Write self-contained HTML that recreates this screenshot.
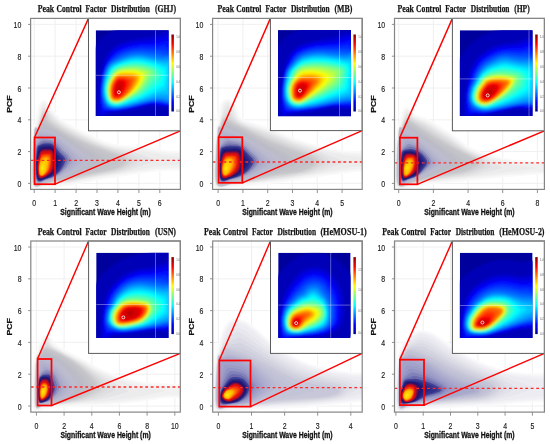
<!DOCTYPE html>
<html><head><meta charset="utf-8"><title>Peak Control Factor Distribution</title>
<style>html,body{margin:0;padding:0;background:#fff;overflow:hidden}svg{display:block}
.tt{font-family:"Liberation Serif",serif;font-weight:bold;font-size:10.8px;fill:#111;stroke:#111;stroke-width:0.25px}
.tk{font-family:"Liberation Sans",sans-serif;font-size:8.7px;fill:#1a1a1a;stroke:#1a1a1a;stroke-width:0.15px}
.ax{font-family:"Liberation Sans",sans-serif;font-weight:bold;font-size:8.7px;fill:#111;stroke:#111;stroke-width:0.3px}
.cb{font-family:"Liberation Sans",sans-serif;font-size:2.7px;fill:#555}
</style></head><body>
<svg width="550" height="444" viewBox="0 0 550 444">
<defs>
<linearGradient id="jetg" x1="0" y1="1" x2="0" y2="0">
<stop offset="0" stop-color="#00008f"/><stop offset="0.125" stop-color="#0000ff"/><stop offset="0.375" stop-color="#00ffff"/><stop offset="0.625" stop-color="#ffff00"/><stop offset="0.875" stop-color="#ff0000"/><stop offset="1" stop-color="#800000"/>
</linearGradient>
<filter id="bl" x="-5%" y="-5%" width="110%" height="110%"><feGaussianBlur stdDeviation="0.7"/></filter>
<filter id="bl2" x="-5%" y="-5%" width="110%" height="110%"><feGaussianBlur stdDeviation="0.9"/></filter>

<clipPath id="cf0"><rect x="30.6" y="18.4" width="149.8" height="171.0"/></clipPath>
<clipPath id="cj0"><rect x="95.7" y="30.2" width="73.0" height="85.7"/></clipPath>
<clipPath id="cf1"><rect x="212.6" y="18.4" width="149.6" height="171.0"/></clipPath>
<clipPath id="cj1"><rect x="278.0" y="30.1" width="73.0" height="86.1"/></clipPath>
<clipPath id="cf2"><rect x="394.5" y="18.4" width="149.9" height="171.0"/></clipPath>
<clipPath id="cj2"><rect x="459.8" y="30.2" width="72.8" height="85.8"/></clipPath>
<clipPath id="cf3"><rect x="30.8" y="241.0" width="149.5" height="171.1"/></clipPath>
<clipPath id="cj3"><rect x="96.2" y="252.7" width="72.4" height="85.2"/></clipPath>
<clipPath id="cf4"><rect x="212.7" y="241.0" width="149.5" height="171.1"/></clipPath>
<clipPath id="cj4"><rect x="278.2" y="252.7" width="72.4" height="85.2"/></clipPath>
<clipPath id="cf5"><rect x="394.5" y="241.0" width="149.9" height="171.1"/></clipPath>
<clipPath id="cj5"><rect x="459.8" y="252.7" width="72.8" height="85.3"/></clipPath>
</defs>
<rect width="550" height="444" fill="#fff"/>
<text class="tt" x="37.7" y="12.4" textLength="16.5" lengthAdjust="spacingAndGlyphs">Peak</text>
<text class="tt" x="56.4" y="12.4" textLength="25.2" lengthAdjust="spacingAndGlyphs">Control</text>
<text class="tt" x="85.6" y="12.4" textLength="20.8" lengthAdjust="spacingAndGlyphs">Factor</text>
<text class="tt" x="111.1" y="12.4" textLength="38.7" lengthAdjust="spacingAndGlyphs">Distribution</text>
<text class="tt" x="154.9" y="12.4" textLength="21.1" lengthAdjust="spacingAndGlyphs">(GHJ)</text>
<path d="M34.2 18.4V189.4M55.1 18.4V189.4M76.1 18.4V189.4M97.0 18.4V189.4M117.9 18.4V189.4M138.9 18.4V189.4M159.8 18.4V189.4M30.6 183.4H180.4M30.6 151.6H180.4M30.6 119.8H180.4M30.6 88.0H180.4M30.6 56.2H180.4M30.6 24.4H180.4" stroke="#ececec" stroke-width="0.8" fill="none"/>
<g clip-path="url(#cf0)"><g filter="url(#bl)">
<path d="M37.1 190.4L35.1 190.4L32.6 189.0L31.4 187.9L29.6 184.9L29.6 157.2L30.8 143.9L32.8 130.9L33.4 127.4L34.6 124.1L37.4 109.4L38.4 105.9L39.8 102.9L41.4 100.9L43.1 100.1L45.1 100.1L46.6 101.1L49.3 105.9L55.1 112.7L60.5 117.9L65.2 121.4L73.7 126.4L83.4 131.4L96.2 137.4L106.0 141.4L113.6 143.8L120.0 144.9L139.6 146.3L168.1 150.5L172.1 150.7L181.6 150.7L181.6 170.7L178.1 170.4L165.3 170.9L157.4 171.4L148.4 172.4L102.5 179.4L70.6 185.7L65.6 186.3L44.6 187.8L37.1 190.4Z" fill="#fafafa"/>
<path d="M37.6 189.0L35.1 189.0L34.1 188.7L32.6 187.7L31.2 185.4L30.3 181.9L30.0 177.4L30.0 172.9L31.4 149.4L33.2 130.9L33.9 127.4L35.5 124.9L38.3 109.9L39.3 106.4L41.0 102.9L42.1 101.7L43.1 101.1L44.6 101.1L45.9 101.9L48.4 106.4L54.1 113.1L58.9 117.9L64.2 121.9L71.6 126.4L82.1 131.9L95.9 138.4L105.7 142.4L113.6 144.8L119.8 145.9L140.6 147.5L168.1 151.5L172.1 151.7L181.6 151.7L181.6 169.7L178.1 169.4L165.0 169.9L157.1 170.4L148.2 171.4L102.4 178.4L70.6 184.6L65.6 185.2L44.6 186.7L37.6 189.0Z" fill="#f8f8f8"/>
<path d="M36.1 188.4L34.1 187.9L32.5 186.4L31.5 183.9L30.9 179.9L30.9 168.4L31.9 149.9L32.7 138.4L33.2 135.9L33.5 130.9L34.0 127.9L34.4 126.9L35.8 125.9L36.1 125.3L39.5 108.4L40.5 105.4L41.5 103.4L42.6 102.2L43.6 101.8L44.6 101.9L45.6 102.7L47.1 105.8L48.1 107.2L55.2 115.4L59.5 119.4L63.6 122.4L71.0 126.9L81.4 132.4L95.2 138.9L105.0 142.9L113.0 145.4L119.6 146.6L140.1 148.1L168.1 152.3L171.6 152.5L181.6 152.5L181.6 168.9L178.1 168.7L166.6 169.1L157.6 169.6L150.1 170.4L101.0 177.9L75.1 183.1L69.6 184.1L64.6 184.6L44.6 186.0L38.1 188.2L36.1 188.4Z" fill="#f6f6f6"/>
<path d="M36.1 187.9L35.1 187.8L34.1 187.3L32.8 185.9L31.9 183.4L31.4 179.4L31.4 168.4L32.2 149.9L32.6 146.9L33.0 138.4L33.4 135.9L33.7 130.9L34.2 127.9L34.7 126.9L36.1 126.2L36.6 125.5L40.1 108.4L41.9 103.9L42.6 103.1L43.6 102.5L44.6 102.7L45.1 103.1L47.4 107.4L54.8 115.9L59.1 119.8L63.6 123.1L71.6 128.0L81.1 132.9L95.1 139.5L104.6 143.4L112.6 145.9L119.6 147.2L140.1 148.8L168.1 152.9L181.6 153.1L181.6 168.3L178.1 168.1L166.1 168.5L157.6 169.0L149.6 169.8L100.3 177.4L70.6 183.3L64.6 184.0L44.6 185.4L42.8 185.9L38.1 187.7L36.1 187.9Z" fill="#f3f3f3"/>
<path d="M37.1 187.5L35.6 187.5L34.6 187.1L33.2 185.9L32.4 183.9L31.8 180.4L31.8 167.9L32.4 149.9L32.8 147.4L33.1 138.4L33.6 135.9L33.8 130.9L34.3 127.9L35.1 126.8L36.6 126.5L37.0 125.9L40.6 108.8L42.1 104.9L42.8 103.9L43.6 103.3L44.1 103.3L44.6 103.6L47.1 107.9L54.5 116.4L58.6 120.2L63.1 123.5L70.6 128.1L81.1 133.6L95.1 140.2L104.6 144.0L112.6 146.6L119.6 147.8L139.8 149.4L168.1 153.7L181.6 153.8L181.6 167.5L178.1 167.3L167.1 167.7L158.1 168.2L149.1 169.2L100.6 176.8L70.1 182.8L64.6 183.5L44.6 185.0L37.1 187.5Z" fill="#f1f1f1"/>
<path d="M38.1 187.0L36.6 187.3L35.6 187.2L34.1 186.4L32.9 184.4L32.2 180.9L31.9 176.4L32.0 169.9L32.6 149.9L33.0 146.9L33.3 138.4L33.7 135.9L33.9 130.9L34.5 127.9L35.1 127.0L36.6 126.9L37.2 126.4L41.1 109.6L42.6 105.9L43.6 104.7L44.1 104.8L46.1 107.9L54.1 117.1L58.1 120.8L62.6 124.1L70.1 128.6L79.6 133.6L92.1 139.6L103.1 144.2L110.6 146.7L117.1 148.2L123.1 149.0L138.6 150.5L168.6 156.1L181.6 156.9L181.6 164.4L178.1 164.4L168.6 165.2L152.6 167.1L124.3 172.4L97.6 176.7L70.6 182.2L65.1 182.9L44.6 184.6L43.1 185.0L38.1 187.0Z" fill="#ececec"/>
<path d="M37.1 187.0L35.1 186.7L33.6 185.4L32.9 183.4L32.3 179.9L32.2 167.9L32.8 149.9L33.1 147.4L33.4 138.4L33.9 135.9L34.1 130.9L34.6 127.9L35.1 127.2L35.6 127.0L37.1 127.1L37.6 126.4L41.1 112.4L42.6 108.7L43.6 107.6L44.6 107.9L47.6 110.8L53.6 118.3L59.6 123.3L64.6 126.6L70.1 129.8L84.6 137.1L98.1 143.2L108.6 147.0L116.1 149.0L129.9 151.4L136.4 152.9L141.2 154.4L148.0 156.9L153.0 158.9L154.5 159.9L154.5 160.4L152.6 161.4L138.1 166.9L130.9 169.4L123.5 171.4L116.0 172.9L94.6 176.6L69.1 181.8L44.6 184.3L42.6 184.9L38.6 186.6L37.1 187.0Z" fill="#e5e5e7"/>
<path d="M38.6 186.4L36.1 186.8L35.1 186.5L34.3 185.9L33.2 183.9L32.7 180.9L32.4 176.4L32.4 169.4L32.9 149.9L33.3 147.4L33.5 138.4L34.0 135.9L34.2 130.9L34.8 127.9L35.1 127.4L35.6 127.2L37.1 127.5L37.8 126.9L41.6 113.3L43.1 110.4L44.1 109.7L45.6 110.4L47.6 112.1L49.0 113.9L51.6 118.1L56.4 122.4L64.6 127.9L74.6 133.5L90.1 140.9L103.1 146.1L112.1 149.1L125.8 152.4L131.9 154.4L135.3 155.9L139.0 157.9L140.6 158.9L141.4 159.9L141.3 160.4L140.2 161.4L132.3 166.4L126.9 168.9L120.5 170.9L113.6 172.4L91.6 176.4L68.6 181.3L45.0 183.9L43.1 184.4L38.6 186.4Z" fill="#dfdfe1"/>
<path d="M37.6 186.5L36.6 186.6L35.5 186.4L34.6 185.9L33.9 184.9L33.1 182.4L32.7 178.4L32.5 170.4L33.0 150.4L33.4 147.4L33.7 138.4L34.1 135.9L34.2 131.4L35.1 127.6L35.6 127.3L37.6 127.7L37.9 127.4L41.6 115.3L42.6 113.1L44.1 111.5L44.6 111.4L45.6 111.7L47.1 112.9L48.2 114.4L50.1 118.4L51.4 119.9L54.1 122.2L61.1 127.1L70.6 132.6L84.2 139.4L97.1 144.9L109.6 149.5L121.9 152.9L126.2 154.4L130.8 156.9L133.3 158.9L134.1 159.9L134.0 160.9L133.2 161.9L131.2 163.9L128.7 165.9L124.0 168.4L118.1 170.4L111.1 172.0L89.1 176.1L67.6 180.8L45.1 183.6L43.6 184.0L39.1 186.1L37.6 186.5Z" fill="#d9d9db"/>
<path d="M37.1 186.4L36.1 186.4L35.1 186.0L33.9 184.4L33.2 181.9L32.8 177.4L32.7 169.9L33.2 149.9L33.5 147.4L33.8 138.4L34.2 135.9L34.3 131.4L35.1 127.8L35.6 127.5L36.1 127.6L37.6 128.1L38.1 127.7L40.6 119.7L42.1 115.7L43.1 113.9L44.1 112.9L44.6 112.8L45.6 113.0L46.7 113.9L47.3 114.9L48.8 118.9L50.0 120.4L51.6 121.8L58.1 126.6L67.6 132.3L80.1 138.7L92.1 144.1L108.1 150.0L120.1 153.8L123.1 154.9L125.1 155.9L127.1 157.3L128.3 158.4L129.4 159.9L129.5 160.9L128.8 162.4L127.7 163.9L126.1 165.4L121.8 167.9L116.1 169.9L109.8 171.4L87.1 175.7L66.6 180.3L45.1 183.4L43.1 184.0L38.6 186.1L37.1 186.4Z" fill="#d2d2d5"/>
<path d="M38.6 185.9L37.1 186.2L36.1 186.2L35.3 185.9L34.6 185.2L33.6 182.9L33.0 178.4L32.8 170.4L33.3 150.4L33.7 147.4L33.9 138.4L34.3 135.9L34.4 131.4L35.3 127.9L36.1 127.7L37.6 128.5L38.4 127.9L42.1 117.3L43.4 114.9L44.6 114.0L45.6 114.2L46.2 114.9L47.6 119.4L48.2 120.4L49.7 121.9L56.4 126.9L65.4 132.4L77.1 138.5L89.1 144.0L100.1 148.2L121.1 155.6L123.1 156.7L124.7 157.9L126.0 159.4L126.4 160.4L126.4 161.4L125.8 162.9L124.6 164.4L123.4 165.4L119.6 167.6L114.3 169.4L107.9 170.9L86.1 175.1L65.6 179.9L45.6 183.0L43.1 183.8L38.6 185.9Z" fill="#cccccf"/>
<path d="M38.1 185.9L36.1 186.0L35.1 185.5L34.6 184.9L33.7 182.4L33.1 177.9L32.9 170.4L33.4 150.4L33.8 147.4L34.0 138.4L34.4 135.9L34.5 131.4L35.1 128.5L35.5 127.9L36.1 127.9L37.6 128.7L38.1 128.7L38.6 128.1L42.6 118.0L43.6 116.1L44.6 115.3L45.1 115.5L45.3 115.9L45.9 118.9L46.6 120.4L48.6 122.8L55.0 127.4L64.9 133.4L76.6 139.6L87.6 144.7L96.6 148.2L119.3 156.4L122.5 158.4L123.5 159.4L124.0 160.4L124.1 161.4L123.8 162.4L123.1 163.5L121.6 164.8L118.0 166.9L113.8 168.4L107.7 169.9L85.6 174.2L64.1 179.6L45.6 182.8L43.6 183.4L38.1 185.9Z" fill="#c5c5ca"/>
<path d="M37.1 185.9L36.1 185.8L35.3 185.4L34.3 183.9L33.6 180.9L33.2 176.4L33.1 169.9L33.5 150.4L33.9 147.4L34.1 138.4L34.5 135.9L34.7 131.4L35.2 128.9L35.6 128.0L36.1 128.1L37.6 129.0L38.3 128.9L38.9 128.4L42.1 121.5L43.1 119.9L43.6 119.4L44.1 119.5L46.7 122.9L50.0 125.4L59.6 131.4L69.1 136.9L85.1 145.2L101.9 152.4L114.7 158.4L117.5 159.9L118.7 160.9L118.8 161.4L118.6 161.9L116.1 163.8L112.1 165.6L107.0 167.4L98.2 169.9L83.6 173.6L65.6 178.7L57.1 180.5L45.6 182.6L43.1 183.4L39.1 185.4L37.1 185.9Z" fill="#c2c2c9"/>
<path d="M38.6 185.5L36.6 185.7L35.6 185.4L35.1 184.9L34.0 182.4L33.4 177.9L33.2 170.4L33.6 150.4L34.0 147.4L34.2 138.9L34.7 135.9L34.8 131.4L35.6 128.3L36.1 128.3L37.6 129.2L38.6 129.1L39.4 128.4L42.6 123.8L43.6 123.0L44.6 123.2L48.7 125.9L78.6 143.6L97.3 153.4L103.6 157.4L108.2 160.9L108.3 161.4L108.0 161.9L104.5 163.9L97.0 167.4L90.4 169.9L72.7 175.9L65.6 178.1L57.1 180.1L45.6 182.4L43.1 183.3L38.6 185.5Z" fill="#bfbfc8"/>
<path d="M38.1 185.5L36.1 185.4L35.4 184.9L34.7 183.9L33.9 180.9L33.5 175.9L33.4 168.4L33.7 149.9L34.1 147.4L34.3 138.9L34.8 135.9L34.9 131.4L35.6 128.6L36.1 128.5L37.6 129.5L38.6 129.5L39.5 128.9L43.6 125.4L44.6 125.3L45.6 125.7L56.1 131.2L81.6 147.2L91.7 152.9L96.9 156.9L99.5 159.4L100.2 160.4L100.2 160.9L99.4 161.9L93.7 165.9L89.0 168.4L83.1 170.9L74.3 174.4L67.3 176.9L58.1 179.5L45.6 182.2L43.1 183.1L38.1 185.5Z" fill="#bcbcc7"/>
<path d="M37.6 185.4L36.6 185.4L35.7 184.9L34.6 183.0L33.9 179.4L33.6 173.9L33.9 149.9L34.2 147.4L34.5 138.9L34.9 135.9L35.0 131.4L35.8 128.9L36.1 128.8L37.6 129.7L38.6 129.8L43.6 127.3L45.1 127.1L53.6 130.8L59.7 134.4L81.1 148.9L88.6 153.4L92.1 156.4L94.4 159.4L94.7 160.4L94.2 161.4L92.4 163.4L90.0 165.4L85.0 168.4L75.5 172.9L68.2 175.9L61.6 178.1L55.0 179.9L45.1 182.1L39.2 184.9L37.6 185.4Z" fill="#bbbbc9"/>
<path d="M38.6 185.0L36.6 185.1L35.6 184.5L35.1 183.7L34.6 182.3L34.1 179.5L33.7 174.4L34.0 149.9L34.4 147.4L34.6 138.9L35.0 136.4L35.2 131.4L35.6 129.7L36.1 129.1L37.6 130.0L38.6 130.1L44.1 128.7L45.6 128.7L50.6 130.4L54.6 132.3L61.9 136.9L71.1 143.4L80.1 150.2L86.5 154.4L88.7 156.4L90.2 158.4L90.7 159.9L90.5 160.9L89.3 162.9L87.8 164.4L83.6 167.4L75.3 171.9L70.0 174.4L63.6 176.9L55.6 179.4L45.6 181.7L38.6 185.0Z" fill="#bcbccc"/>
<path d="M38.1 184.9L37.1 185.0L36.1 184.6L35.1 183.0L34.2 178.9L33.9 173.4L34.1 150.4L34.5 147.4L34.8 138.9L35.3 135.9L35.5 131.4L35.6 130.6L36.1 129.6L37.6 130.3L38.6 130.5L43.6 130.0L46.1 130.1L50.6 131.4L54.9 133.4L60.4 136.9L69.2 143.4L79.1 151.6L85.1 155.8L86.2 156.9L87.3 158.4L87.8 159.9L87.6 160.9L86.8 162.4L85.5 163.9L81.6 166.9L73.2 171.9L68.1 174.4L61.9 176.9L54.2 179.4L45.6 181.5L38.1 184.9Z" fill="#bcbccf"/>
<path d="M38.6 184.5L37.6 184.7L36.6 184.5L35.6 183.4L34.6 179.8L34.1 173.9L34.0 164.4L34.3 149.9L34.7 147.4L35.1 138.6L35.5 136.4L35.8 131.9L36.1 130.5L36.6 130.4L38.6 131.1L44.1 131.3L48.1 131.9L51.6 133.0L55.6 134.9L60.7 138.4L70.1 145.9L78.1 153.0L83.7 157.4L84.9 158.9L85.2 159.9L85.1 160.9L84.6 161.9L82.2 164.4L76.7 168.4L70.1 172.4L65.0 174.9L59.0 177.4L52.9 179.4L45.6 181.2L38.6 184.5Z" fill="#b9b9cf"/>
<path d="M39.1 184.0L38.1 184.3L37.1 184.3L36.1 183.4L35.6 182.5L34.6 177.9L34.3 172.4L34.5 149.9L35.6 139.0L36.6 133.7L37.1 132.7L37.6 132.6L44.6 133.1L49.1 133.9L52.6 135.0L56.1 136.9L60.9 140.4L71.1 149.3L81.0 158.9L81.7 159.9L81.7 160.4L81.2 161.4L80.4 162.4L75.9 166.4L70.6 170.4L65.7 173.4L57.4 177.4L53.3 178.9L45.6 181.0L39.1 184.0Z" fill="#b4b4cd"/>
<path d="M39.6 183.5L37.6 183.8L36.6 183.1L35.6 181.1L34.8 176.9L34.5 170.4L34.6 157.6L34.8 149.9L35.6 143.5L36.1 141.6L38.1 136.5L38.6 135.6L39.1 135.2L40.1 135.0L42.6 135.0L48.6 135.7L51.6 136.5L54.1 137.7L56.6 139.2L59.5 141.4L71.4 152.4L76.8 158.9L77.6 160.4L77.1 161.4L76.3 162.4L71.4 167.4L67.8 170.4L62.7 173.9L56.0 177.4L51.9 178.9L45.6 180.6L39.6 183.5Z" fill="#afafcc"/>
<path d="M39.6 183.0L38.6 183.1L37.6 183.0L36.6 182.0L35.6 179.4L35.1 176.4L34.8 170.4L34.8 161.4L35.2 150.4L35.7 145.9L36.1 144.4L37.1 142.3L39.6 138.5L40.6 137.4L41.6 137.1L43.6 137.1L49.6 137.8L52.1 138.6L54.1 139.5L56.2 140.9L58.6 142.9L64.1 148.5L67.9 151.9L69.9 153.9L72.7 157.9L73.6 159.4L73.8 160.4L73.4 161.4L72.4 162.9L68.6 167.4L64.2 171.4L60.1 174.4L57.1 176.2L54.1 177.6L50.6 178.9L45.6 180.3L39.6 183.0Z" fill="#a6a6c8"/>
<path d="M39.1 182.4L37.6 182.0L36.6 180.7L35.8 178.4L35.4 175.4L35.2 168.9L35.2 160.4L35.7 150.4L36.2 146.4L36.8 144.9L37.6 143.7L40.6 140.6L42.1 139.5L43.1 139.2L45.1 139.2L50.6 139.9L53.6 141.1L56.2 142.9L58.2 144.9L62.6 149.9L67.1 154.0L68.7 155.9L69.9 157.9L70.5 159.4L70.5 160.9L68.8 163.9L66.2 167.4L62.3 171.4L58.7 174.4L55.4 176.4L52.6 177.7L45.6 179.9L41.1 181.9L39.1 182.4Z" fill="#9090bd"/>
<path d="M41.1 181.4L39.1 181.8L38.1 181.5L37.6 181.1L36.6 179.4L36.0 176.9L35.6 171.9L35.5 163.9L36.0 152.9L36.6 147.4L37.1 145.9L38.1 144.7L41.1 142.6L43.1 141.6L45.6 141.2L50.6 141.7L53.1 142.7L55.1 144.1L56.8 145.9L61.1 151.3L65.6 155.4L66.7 156.9L67.5 158.4L67.9 159.9L67.7 160.9L66.4 163.9L64.1 167.4L60.8 171.4L58.0 173.9L55.1 175.9L52.1 177.4L45.6 179.5L41.1 181.4Z" fill="#7474b0"/>
<path d="M41.1 180.9L39.6 181.2L38.1 180.7L37.4 179.9L36.9 178.9L36.4 176.4L36.0 170.9L35.9 163.4L36.5 152.9L37.1 147.9L37.7 146.4L38.6 145.5L42.6 143.7L46.1 143.2L50.6 143.5L52.6 144.3L54.1 145.4L55.8 147.4L59.6 152.6L64.2 156.9L65.3 158.9L65.4 159.9L65.2 161.4L64.0 164.4L61.7 168.4L59.4 171.4L56.8 173.9L54.7 175.4L52.0 176.9L45.1 179.2L41.1 180.9Z" fill="#404095"/>
<path d="M41.1 180.5L39.6 180.7L38.1 180.1L37.2 178.4L36.7 175.9L36.2 169.4L36.3 162.4L37.0 152.9L37.7 148.4L38.1 147.2L38.6 146.6L42.1 145.1L45.6 144.6L50.6 144.8L52.6 145.7L53.9 146.9L58.6 153.8L62.6 157.9L63.2 158.9L63.4 159.9L63.2 161.9L61.8 165.4L59.6 169.4L57.7 171.9L55.7 173.9L53.6 175.4L50.8 176.9L41.1 180.5Z" fill="#31308b"/>
<path d="M41.1 180.0L39.6 180.2L38.6 179.9L38.1 179.4L37.3 177.4L36.8 173.9L36.5 167.9L36.6 161.4L37.4 153.9L38.1 149.4L38.6 148.0L39.1 147.3L42.1 146.0L45.1 145.6L49.1 145.5L50.6 145.7L52.1 146.4L53.8 147.9L57.7 154.4L61.3 158.9L61.8 160.4L61.4 162.4L60.1 165.9L58.3 169.4L56.5 171.9L54.5 173.9L52.4 175.4L50.1 176.6L41.1 180.0Z" fill="#292783"/>
<path d="M41.6 179.5L39.6 179.8L38.7 179.4L38.3 178.9L37.5 176.9L37.1 173.4L36.8 167.9L36.9 161.9L37.4 156.4L38.5 150.4L39.0 148.9L39.6 148.0L42.1 146.8L45.1 146.4L50.6 146.6L52.6 147.7L54.4 149.9L57.1 155.2L59.8 159.4L60.1 160.9L59.8 162.4L58.7 165.9L57.3 168.9L55.8 171.4L53.9 173.4L52.0 174.9L49.4 176.4L41.6 179.5Z" fill="#221e7c"/>
<path d="M40.1 179.5L38.8 178.9L38.0 177.4L37.3 173.4L37.0 168.9L37.0 163.9L37.3 159.9L38.2 154.4L39.0 150.9L40.1 148.8L42.1 147.7L45.1 147.2L50.6 147.4L52.1 148.1L53.6 149.9L58.2 159.9L58.4 160.9L58.3 161.9L57.3 165.9L55.3 170.4L53.8 172.4L52.2 173.9L50.1 175.4L47.2 176.9L41.1 179.3L40.1 179.5Z" fill="#1a1574"/>
<path d="M40.6 179.0L39.6 179.0L39.1 178.7L38.3 177.4L37.5 173.4L37.2 169.4L37.2 164.4L37.5 160.4L38.2 155.9L39.3 151.9L40.6 149.4L42.5 148.4L45.1 148.0L50.6 148.2L52.1 149.0L53.5 150.9L56.7 160.4L56.7 162.4L55.5 167.4L53.9 170.9L52.8 172.4L51.2 173.9L49.0 175.4L46.3 176.9L40.6 179.0Z" fill="#371165"/>
<path d="M41.1 178.5L39.6 178.6L38.7 177.4L37.9 174.4L37.5 171.4L37.4 166.9L37.5 161.9L38.0 158.4L39.3 153.4L40.6 150.5L42.1 149.4L44.6 148.8L50.6 149.0L52.1 149.9L53.1 151.4L53.9 153.9L54.9 158.9L55.2 162.4L54.8 165.4L54.1 168.4L52.6 171.4L50.1 174.0L45.6 176.9L41.1 178.5Z" fill="#5a0d54"/>
<path d="M42.1 177.9L40.1 178.3L39.1 177.6L38.3 175.4L37.8 172.4L37.5 167.4L37.7 162.4L38.3 158.4L39.3 154.4L40.6 151.5L42.1 150.1L44.6 149.6L50.6 149.7L51.6 150.2L52.5 151.4L53.3 153.9L53.7 155.9L54.1 162.4L53.8 165.4L53.2 168.4L51.9 171.4L49.6 173.9L45.6 176.6L42.1 177.9Z" fill="#7c0a44"/>
<path d="M41.1 177.9L40.1 178.0L39.6 177.7L38.8 176.4L38.0 172.9L37.7 169.4L37.7 164.9L38.1 160.9L38.7 157.4L39.8 153.9L41.1 151.6L42.6 150.6L45.1 150.2L50.6 150.3L51.6 150.9L52.4 152.4L52.9 153.9L53.3 156.4L53.4 163.9L53.0 167.4L52.4 169.4L51.0 171.9L48.1 174.6L44.6 176.8L41.1 177.9Z" fill="#960b36"/>
<path d="M42.1 177.4L40.6 177.7L39.6 177.3L38.7 175.4L38.0 171.9L37.8 167.4L38.1 162.4L38.6 158.9L39.7 154.9L41.0 152.4L42.6 151.1L45.1 150.7L49.6 150.6L50.6 150.8L51.6 151.7L52.3 152.9L53.0 156.4L53.0 163.9L52.2 168.9L50.9 171.4L48.6 173.8L45.1 176.3L42.1 177.4Z" fill="#af0b29"/>
<path d="M41.1 177.4L40.1 177.3L39.6 176.9L38.9 175.4L38.3 172.9L38.0 169.4L38.0 165.4L38.4 161.4L39.0 158.4L40.0 154.9L41.1 152.8L42.6 151.6L45.1 151.2L50.1 151.2L51.1 151.7L51.9 152.9L52.6 155.9L52.7 163.4L52.4 166.4L51.8 168.9L50.5 171.4L48.1 173.9L44.6 176.3L41.1 177.4Z" fill="#c90c1b"/>
<path d="M42.1 177.0L40.6 177.2L39.6 176.5L38.9 174.9L38.4 172.4L38.1 168.4L38.3 164.4L38.7 160.4L39.6 156.9L40.7 153.9L41.6 152.7L42.6 152.1L45.1 151.7L50.1 151.7L51.1 152.3L51.6 153.0L52.1 154.4L52.4 156.4L52.3 163.9L51.5 168.9L50.2 171.4L48.3 173.4L44.9 175.9L42.1 177.0Z" fill="#d30d16"/>
<path d="M41.6 176.9L40.5 176.9L39.5 175.9L38.8 173.9L38.4 170.9L38.2 167.4L38.6 162.9L39.1 159.6L40.1 156.1L41.1 153.8L42.6 152.6L45.1 152.1L50.1 152.2L51.1 152.9L51.6 153.7L52.2 156.9L52.0 163.9L51.7 166.9L51.1 168.9L49.8 171.4L47.3 173.9L44.5 175.9L41.6 176.9Z" fill="#da0f12"/>
<path d="M42.6 176.5L41.1 176.8L40.1 176.4L39.2 174.9L38.7 172.9L38.4 169.4L38.4 165.9L39.0 161.4L39.6 158.4L41.1 154.4L42.1 153.4L44.6 152.7L49.1 152.6L50.1 152.7L51.0 153.4L51.5 154.4L51.9 157.4L51.7 163.9L51.0 168.4L50.1 170.4L48.1 172.9L44.9 175.4L42.6 176.5Z" fill="#e1110e"/>
<path d="M42.1 176.4L40.6 176.4L39.6 175.4L39.1 173.9L38.6 171.4L38.5 167.9L38.7 164.9L39.3 160.9L40.1 157.8L41.6 154.4L42.6 153.7L45.6 153.2L49.1 153.2L50.1 153.4L51.1 154.5L51.6 157.9L51.4 163.9L50.6 168.4L49.6 170.5L47.6 172.9L44.5 175.4L42.1 176.4Z" fill="#e81e0a"/>
<path d="M43.1 175.9L41.1 176.3L40.2 175.9L39.5 174.9L39.0 172.9L38.6 169.4L38.7 166.4L39.1 163.0L40.0 158.9L41.6 155.3L42.6 154.4L45.6 153.9L49.6 154.0L50.6 154.9L51.2 158.4L50.9 163.9L50.1 168.4L49.2 170.4L47.7 172.4L45.5 174.4L43.1 175.9Z" fill="#f03507"/>
<path d="M42.1 176.0L41.1 176.1L40.1 175.5L39.5 174.4L39.0 171.9L38.8 168.4L38.9 165.9L40.1 159.5L41.1 157.2L42.6 155.3L43.6 154.9L45.1 154.7L49.1 154.9L49.6 155.2L50.1 155.9L50.6 157.5L50.8 159.4L50.3 164.4L49.5 168.4L48.3 170.9L46.7 172.9L44.5 174.9L42.1 176.0Z" fill="#f84c03"/>
<path d="M43.1 175.4L41.6 175.9L40.6 175.6L39.7 174.4L39.3 172.9L39.0 169.9L39.0 166.9L40.1 160.5L41.1 158.1L42.1 156.8L43.1 156.0L45.1 155.6L48.1 155.7L49.3 156.4L49.8 157.4L50.2 158.9L50.1 161.9L49.2 167.4L48.3 169.9L47.0 171.9L45.3 173.9L43.1 175.4Z" fill="#ff6300"/>
<path d="M42.1 175.5L41.1 175.6L40.1 174.8L39.6 173.6L39.3 171.9L39.1 167.2L40.1 161.5L41.1 158.9L42.6 157.3L43.6 156.7L44.6 156.5L47.6 156.5L48.9 157.4L49.7 159.4L49.3 163.4L48.4 167.9L47.4 170.4L45.7 172.9L44.1 174.5L42.1 175.5Z" fill="#ff7e00"/>
<path d="M42.6 175.0L41.6 175.3L40.6 175.0L40.1 174.4L39.6 172.7L39.3 167.9L40.1 162.7L41.1 159.7L42.1 158.4L44.1 157.4L47.1 157.4L48.1 157.8L48.6 158.3L49.1 159.9L47.9 167.4L47.0 169.9L45.6 172.4L44.3 173.9L42.6 175.0Z" fill="#ff9900"/>
<path d="M41.6 174.9L40.6 174.5L40.2 173.9L39.6 170.9L39.6 166.4L40.6 162.3L41.6 159.9L42.6 158.9L44.6 158.2L47.1 158.3L48.1 159.0L48.5 160.4L47.6 165.6L46.8 168.9L45.7 171.4L44.6 173.0L43.1 174.4L41.6 174.9Z" fill="#ffb400"/>
<path d="M42.6 174.0L41.6 174.3L41.1 174.2L40.6 173.7L40.2 172.4L39.7 168.4L40.1 165.5L41.1 162.5L42.1 160.4L43.6 159.5L46.1 159.4L47.1 159.9L47.4 160.9L46.3 167.9L45.6 170.1L44.7 171.9L43.6 173.2L42.6 174.0Z" fill="#ffc200"/>
<path d="M42.1 173.0L41.6 173.0L41.1 172.6L40.6 171.5L40.1 169.3L40.2 166.9L41.1 164.5L42.6 162.2L43.6 161.4L44.6 161.3L45.4 161.9L45.6 162.7L45.7 165.4L45.5 167.9L45.0 169.4L44.1 171.2L43.1 172.4L42.1 173.0Z" fill="#ffce00"/>
<path d="M42.6 171.1L42.1 171.1L41.6 170.9L41.1 170.2L40.6 168.9L40.6 167.4L41.6 165.5L42.6 164.6L43.6 164.3L44.1 164.8L44.3 165.4L44.5 167.9L43.8 169.9L42.6 171.1Z" fill="#ffd904"/>
<path d="M42.6 169.5L42.1 169.5L41.6 169.2L41.2 167.9L41.6 166.9L42.6 166.4L43.4 166.9L43.6 167.9L43.2 168.9L42.6 169.5Z" fill="#ffe21a"/>
</g></g>
<path d="M30.6 160.4H180.4" stroke="#ff2a2a" stroke-width="1.3" stroke-dasharray="2.8 2.65" fill="none"/>
<path d="M34.6 137.2L88.5 18.4M55.0 184.2L180.4 130.8" stroke="#ff0000" stroke-width="1.45" fill="none"/>
<rect x="34.6" y="137.5" width="20.4" height="46.7" stroke="#ff0000" stroke-width="1.75" fill="none"/>
<rect x="88.5" y="18.4" width="91.9" height="112.4" fill="#fff" stroke="#5a5a5a" stroke-width="1.0"/>
<g clip-path="url(#cj0)"><rect x="95.7" y="30.2" width="73.0" height="85.7" fill="#00009c"/><g filter="url(#bl2)">
<path d="M170.7 118.2L93.7 118.2L93.7 48.9L94.7 47.9L97.4 43.7L99.7 40.8L102.2 38.2L105.2 35.5L109.7 32.5L116.1 29.2L117.5 28.2L170.7 28.2L170.7 118.2Z" fill="#0000b7"/>
<path d="M102.7 118.2L98.0 118.2L97.9 111.7L98.0 100.7L98.8 87.7L100.5 75.7L102.4 66.7L103.9 62.2L105.9 57.7L107.4 54.7L109.4 51.7L112.2 48.6L115.7 45.8L119.7 43.6L123.7 42.0L129.7 40.5L137.7 39.0L151.2 37.2L154.4 36.2L164.2 32.3L167.2 31.6L170.7 31.5L170.7 107.2L167.7 107.6L165.2 107.6L154.8 105.7L152.2 105.5L149.6 105.7L128.7 110.4L108.1 113.7L106.5 114.2L104.8 115.2L103.5 116.7L102.7 118.2Z" fill="#0000d2"/>
<path d="M102.2 113.8L101.2 113.9L100.7 113.2L100.5 112.2L100.1 107.7L99.7 100.2L100.0 89.7L101.4 78.2L102.9 70.7L105.0 64.2L107.8 58.2L109.7 55.3L111.3 53.2L114.2 50.4L117.7 47.8L121.7 45.8L125.7 44.4L131.2 43.1L138.2 41.9L152.2 40.6L155.7 39.7L166.2 36.2L168.2 35.9L170.7 36.3L170.7 105.6L166.2 105.9L155.7 104.2L153.2 104.0L150.2 104.2L126.7 109.3L116.2 111.0L106.7 112.1L104.4 112.7L102.2 113.8Z" fill="#0000ed"/>
<path d="M107.7 110.7L103.2 110.9L102.7 110.7L102.1 109.7L101.3 105.7L100.7 99.2L100.5 94.7L100.7 89.7L101.4 83.2L102.4 76.7L104.1 69.2L105.3 65.7L107.0 62.2L108.7 59.3L111.2 56.0L114.7 52.6L118.2 50.1L122.7 47.9L127.2 46.4L132.7 45.2L139.2 44.3L151.2 43.7L154.7 43.3L160.2 42.2L166.2 40.4L167.2 40.4L168.2 40.9L169.7 42.7L170.7 43.4L170.7 104.8L166.7 105.0L156.7 103.4L153.7 103.1L151.2 103.3L148.2 103.7L132.2 107.5L125.2 108.9L115.2 110.3L107.7 110.7Z" fill="#000aff"/>
<path d="M114.7 109.7L108.2 109.6L105.2 109.2L104.0 108.7L103.2 107.5L102.5 105.2L101.7 100.7L101.3 96.7L101.2 91.7L101.6 86.2L102.6 78.7L103.8 72.7L105.2 68.2L106.7 64.7L108.7 61.4L111.2 58.4L115.7 54.4L118.2 52.7L121.2 51.0L126.7 48.9L134.2 47.4L141.7 46.6L155.7 46.6L160.2 46.1L164.7 45.2L166.2 45.9L169.4 48.7L170.7 49.4L170.7 104.0L166.7 104.1L160.7 102.9L157.2 102.5L151.7 102.5L147.6 103.2L128.2 107.7L120.2 109.1L114.7 109.7Z" fill="#0029ff"/>
<path d="M118.7 108.7L114.7 109.1L111.2 109.0L108.2 108.5L105.7 107.7L104.7 106.8L103.9 105.2L102.3 98.7L101.8 94.2L101.9 88.7L102.6 82.2L103.7 75.6L104.7 71.7L106.3 67.2L108.2 63.9L110.2 61.4L115.2 57.2L118.2 55.2L121.2 53.5L127.2 51.2L134.2 49.7L142.2 49.2L155.7 49.9L162.2 49.9L164.2 50.3L170.7 53.0L170.7 103.3L166.7 103.2L159.7 101.8L155.7 101.6L152.7 101.7L147.7 102.5L129.7 106.9L118.7 108.7Z" fill="#0047ff"/>
<path d="M118.2 108.2L114.7 108.5L111.2 108.2L108.7 107.6L106.7 106.6L105.7 105.6L104.7 103.7L103.6 100.7L102.8 97.2L102.4 93.2L102.4 88.2L103.1 82.2L104.2 75.8L105.2 72.1L106.7 68.2L108.2 65.4L110.2 63.0L112.2 61.3L115.2 59.3L122.2 55.5L128.2 53.3L134.2 52.1L139.7 51.7L144.2 51.9L158.7 53.6L162.2 54.2L170.7 55.4L170.7 102.6L167.2 102.4L160.2 100.8L153.2 100.9L147.7 101.9L129.7 106.3L118.2 108.2Z" fill="#0066ff"/>
<path d="M117.7 107.7L114.7 107.8L111.7 107.5L109.2 106.8L107.5 105.7L106.2 104.2L105.1 102.2L104.0 99.2L103.3 96.2L102.9 92.2L103.0 87.7L103.7 81.7L104.7 76.3L105.7 72.7L107.2 68.9L108.7 66.2L110.2 64.5L112.2 62.9L114.2 61.6L122.2 57.8L128.7 55.5L134.2 54.4L138.7 54.1L143.2 54.4L161.2 57.5L167.7 57.0L170.7 57.1L170.7 101.6L167.7 101.4L160.7 99.7L153.7 99.9L148.2 100.9L129.2 105.7L117.7 107.7Z" fill="#0085ff"/>
<path d="M116.7 107.2L113.7 107.1L111.2 106.7L109.2 105.8L107.8 104.7L106.6 103.2L105.3 100.7L104.3 97.7L103.7 94.7L103.4 90.7L103.6 86.7L104.2 81.9L105.2 76.9L106.2 73.4L107.7 69.7L109.2 67.1L110.9 65.2L112.7 63.8L114.7 62.7L122.2 59.5L129.2 57.1L134.7 56.1L139.2 56.0L143.2 56.3L160.7 59.8L168.2 59.4L170.7 59.5L170.7 99.2L168.2 99.0L161.2 97.7L154.7 98.3L149.7 99.4L137.9 102.7L128.1 105.2L120.7 106.7L116.7 107.2Z" fill="#00a3ff"/>
<path d="M119.7 106.2L116.7 106.6L113.7 106.5L111.2 105.9L109.2 104.9L107.9 103.7L106.6 101.7L105.3 98.7L104.5 95.7L104.0 91.7L104.0 87.7L104.6 83.2L105.6 78.2L106.8 74.2L108.2 70.7L109.7 68.1L111.7 65.9L113.7 64.5L116.2 63.2L124.2 60.0L130.7 58.2L136.2 57.6L140.2 57.6L143.7 58.0L151.2 59.5L160.2 61.8L162.7 62.1L168.2 62.4L170.7 63.3L170.7 90.5L169.3 93.7L168.7 94.4L167.2 94.8L161.2 94.6L155.2 95.8L135.6 102.2L126.6 104.7L119.7 106.2Z" fill="#00c2ff"/>
<path d="M118.7 105.8L116.2 106.0L113.2 105.7L110.7 105.0L109.2 104.0L108.0 102.7L106.7 100.5L105.6 97.7L104.9 94.7L104.6 90.7L104.6 87.2L105.2 83.2L106.1 79.2L107.5 74.7L108.9 71.2L110.5 68.7L112.3 66.7L114.2 65.4L116.7 64.1L123.7 61.5L130.7 59.6L136.7 59.1L142.2 59.4L149.7 60.9L154.7 62.2L161.2 64.3L166.2 65.4L167.5 66.2L168.2 67.7L168.6 70.2L168.8 74.2L168.6 77.7L168.2 81.2L167.3 85.7L166.4 88.7L165.7 89.9L164.7 90.3L160.2 91.4L154.7 93.3L143.1 98.2L137.2 100.4L125.7 104.1L118.7 105.8Z" fill="#00e0ff"/>
<path d="M117.7 105.3L115.2 105.3L112.7 104.9L110.7 104.2L109.2 103.1L107.7 101.2L106.8 99.2L105.9 96.2L105.3 93.2L105.1 89.7L105.2 86.7L105.8 83.2L106.8 79.2L108.4 74.7L109.7 71.7L111.3 69.2L113.3 67.2L115.7 65.7L118.2 64.6L125.2 62.3L132.2 60.8L138.2 60.6L144.2 61.3L153.2 63.5L158.6 65.7L163.7 68.2L165.0 69.2L165.5 70.2L165.8 72.2L165.5 77.7L164.1 83.7L163.4 85.2L162.6 86.2L144.7 95.7L139.7 98.1L125.6 103.2L120.7 104.7L117.7 105.3Z" fill="#00ffff"/>
<path d="M116.7 104.7L114.2 104.6L111.7 103.9L110.2 103.1L108.8 101.7L107.7 99.7L106.8 97.2L106.1 94.2L105.8 91.2L105.7 88.2L106.0 85.2L106.8 81.7L108.0 78.2L109.5 74.2L110.7 71.8L112.2 69.7L114.2 67.8L116.2 66.6L119.2 65.3L126.2 63.3L133.2 62.2L139.7 62.2L143.2 62.7L147.2 63.6L154.2 65.8L156.2 66.7L158.5 68.2L160.8 70.2L162.2 71.7L162.7 73.2L162.6 75.7L162.0 78.7L160.9 81.7L159.7 83.1L154.1 87.2L144.7 93.7L139.2 96.8L123.2 103.1L119.2 104.3L116.7 104.7Z" fill="#1fffe0"/>
<path d="M118.7 103.8L116.7 104.1L114.2 103.9L111.7 103.2L110.2 102.3L108.9 100.7L107.9 98.7L107.1 96.2L106.5 93.2L106.2 89.7L106.3 87.2L107.5 81.7L110.9 73.2L112.2 71.2L114.2 69.2L117.7 67.0L122.7 65.3L130.2 63.9L136.2 63.6L142.7 64.2L149.7 66.0L154.2 67.8L155.7 68.8L157.1 70.2L158.4 72.2L159.2 74.2L159.2 76.2L158.6 78.2L157.3 80.2L155.2 81.9L149.2 87.7L143.1 92.7L138.3 95.7L124.2 101.9L118.7 103.8Z" fill="#3dffc2"/>
<path d="M118.7 103.2L116.7 103.5L114.2 103.3L112.2 102.8L110.4 101.7L109.2 100.2L108.4 98.7L107.7 96.2L107.1 93.2L106.8 87.7L107.8 82.7L111.4 74.2L112.7 72.2L114.2 70.5L117.2 68.4L121.2 66.8L127.7 65.6L134.2 65.1L140.2 65.4L145.7 66.5L151.2 68.3L153.0 69.2L154.2 70.2L155.3 71.7L155.7 73.2L155.5 75.2L154.9 76.7L148.7 84.7L143.4 90.2L139.7 93.2L136.4 95.2L123.2 101.6L118.7 103.2Z" fill="#5cffa3"/>
<path d="M118.7 102.7L116.7 103.0L114.7 102.9L112.7 102.4L110.7 101.3L109.4 99.7L108.7 98.2L108.0 95.7L107.5 92.7L107.3 87.7L108.4 82.7L112.0 74.7L113.2 72.9L114.7 71.3L117.7 69.2L121.2 67.9L126.7 66.9L133.2 66.5L139.2 66.8L144.2 67.8L149.7 69.5L151.2 70.2L152.4 71.2L153.1 72.7L152.7 74.2L150.6 76.7L146.1 84.2L143.3 87.7L140.4 90.7L138.0 92.7L135.2 94.5L123.2 100.9L118.7 102.7Z" fill="#7aff85"/>
<path d="M118.7 102.3L116.7 102.6L114.7 102.5L112.7 102.0L111.2 101.1L110.2 100.2L109.3 98.7L108.5 96.2L108.1 93.7L107.7 88.2L108.6 83.7L109.5 81.2L112.2 75.7L113.2 74.1L114.4 72.7L117.2 70.5L120.7 69.0L125.2 68.2L130.7 67.8L136.2 67.9L141.2 68.6L146.7 70.2L149.8 71.7L150.3 72.2L150.3 73.2L148.2 76.2L145.2 82.2L142.2 86.7L139.1 90.2L135.4 93.2L124.7 99.6L121.2 101.4L118.7 102.3Z" fill="#99ff66"/>
<path d="M117.2 102.2L115.2 102.2L113.2 101.7L111.7 101.1L110.7 100.2L110.0 99.2L109.2 97.2L108.2 91.7L108.2 87.2L109.4 82.7L112.9 75.7L114.7 73.3L117.7 71.1L120.7 70.0L125.2 69.2L130.2 68.9L135.2 69.0L140.2 69.8L144.7 71.3L146.2 72.0L147.1 72.7L147.3 73.2L147.1 74.2L144.0 81.7L141.1 86.2L137.7 90.2L133.9 93.2L124.2 99.4L120.2 101.5L117.2 102.2Z" fill="#b8ff47"/>
<path d="M118.2 101.7L116.2 101.9L114.2 101.7L112.7 101.2L111.2 100.3L110.3 99.2L109.6 97.7L108.8 93.7L108.5 88.7L109.3 84.2L110.9 80.2L113.2 76.1L114.6 74.2L116.7 72.5L119.7 71.1L123.2 70.4L127.7 70.0L133.2 70.0L137.2 70.5L141.4 71.7L144.3 73.2L144.9 74.2L144.8 75.2L143.0 80.7L140.4 85.2L137.3 89.2L134.0 92.2L125.2 98.4L121.7 100.5L118.2 101.7Z" fill="#d6ff29"/>
<path d="M118.7 101.3L116.7 101.6L115.2 101.5L113.2 101.1L111.7 100.3L110.7 99.3L110.1 98.2L109.3 94.7L108.9 89.2L109.6 84.7L111.4 80.2L114.7 74.9L116.7 73.3L119.7 72.0L122.7 71.4L127.2 71.0L132.7 71.1L136.2 71.5L139.7 72.6L142.2 74.0L142.7 74.7L142.9 75.7L142.6 77.7L141.8 80.2L139.4 84.7L136.5 88.7L132.9 92.2L125.6 97.7L121.7 100.1L118.7 101.3Z" fill="#f5ff0a"/>
<path d="M117.2 101.3L115.7 101.3L113.7 100.9L112.2 100.3L111.5 99.7L110.7 98.7L110.1 97.2L109.4 93.2L109.3 88.2L110.1 84.2L111.7 80.4L114.7 75.7L116.7 74.0L119.2 72.9L122.2 72.3L126.7 71.9L131.7 72.1L135.2 72.5L138.2 73.5L140.3 74.7L141.0 75.7L141.1 76.7L140.4 80.2L138.2 84.7L134.9 89.2L130.8 93.2L124.4 98.2L120.7 100.3L117.2 101.3Z" fill="#ffeb00"/>
<path d="M118.2 100.8L116.7 101.0L114.7 100.8L112.2 99.9L111.4 99.2L110.8 98.2L110.0 95.2L109.6 89.7L110.2 85.3L111.7 81.3L114.7 76.5L116.2 75.0L118.2 74.0L121.2 73.3L125.2 73.0L128.2 72.9L133.7 73.4L136.2 74.0L138.4 75.2L139.2 76.2L139.5 77.2L139.1 80.2L137.2 84.2L134.2 88.7L130.5 92.7L125.2 97.2L121.3 99.7L118.2 100.8Z" fill="#ffcc00"/>
<path d="M119.2 100.2L116.2 100.6L113.2 100.1L112.2 99.5L111.4 98.7L110.6 96.7L110.0 91.7L110.3 86.7L111.7 82.2L114.2 78.0L115.7 76.2L117.1 75.2L118.7 74.6L121.2 74.1L126.7 73.9L131.7 74.2L134.7 74.8L136.7 75.7L137.9 77.2L138.1 78.2L137.9 79.7L136.5 83.2L133.5 88.2L130.2 92.2L126.5 95.7L122.5 98.7L119.2 100.2Z" fill="#ffad00"/>
<path d="M117.7 100.2L114.7 100.1L113.3 99.7L112.4 99.2L111.3 97.7L110.7 95.2L110.4 90.2L111.0 85.7L112.2 82.2L114.7 78.2L116.0 76.7L117.2 75.8L118.7 75.3L121.2 75.0L126.7 74.9L131.2 75.3L133.7 75.7L135.7 76.7L136.5 77.7L136.7 78.7L136.1 81.2L133.7 86.2L131.0 90.2L128.0 93.7L124.0 97.2L120.9 99.2L117.7 100.2Z" fill="#ff8f00"/>
<path d="M117.7 99.8L115.0 99.7L112.7 98.8L111.7 97.5L111.1 95.2L110.8 90.7L111.3 86.7L112.7 82.3L114.7 79.1L116.2 77.3L117.2 76.6L118.7 76.1L120.2 75.9L127.7 76.0L132.2 76.8L134.2 77.5L135.0 78.7L135.1 79.7L134.7 81.2L132.2 86.6L129.5 90.7L126.6 94.2L123.3 97.2L120.2 99.1L117.7 99.8Z" fill="#ff7000"/>
<path d="M117.7 99.2L115.2 99.1L113.2 98.4L112.2 97.2L111.6 95.2L111.3 91.2L111.7 87.2L112.7 83.7L114.6 80.2L116.2 78.3L117.2 77.5L118.2 77.1L119.7 76.8L122.7 76.8L126.7 77.2L131.9 78.7L132.7 79.7L132.8 80.7L132.4 82.2L130.6 86.7L127.9 91.2L125.1 94.7L122.3 97.2L119.8 98.7L117.7 99.2Z" fill="#ff5200"/>
<path d="M118.7 98.3L116.7 98.5L114.7 98.2L113.2 97.2L112.4 95.7L112.0 92.7L112.1 89.2L112.8 85.7L113.9 82.7L116.2 79.4L117.2 78.5L118.7 77.8L120.7 77.6L123.2 77.8L125.7 78.3L128.1 79.2L129.7 80.2L130.1 80.7L130.3 81.7L129.8 84.2L128.3 87.7L126.0 91.7L123.3 95.2L121.0 97.2L118.7 98.3Z" fill="#ff3300"/>
<path d="M119.2 97.2L117.7 97.6L116.2 97.6L114.7 97.1L113.7 96.2L113.0 94.7L112.6 92.7L112.7 90.2L113.1 87.7L113.7 85.3L114.5 83.2L116.7 80.1L117.8 79.2L119.2 78.7L120.7 78.5L122.7 78.7L125.2 79.5L127.1 80.7L128.1 82.2L128.0 83.7L126.6 87.7L123.9 92.7L121.4 95.7L119.2 97.2Z" fill="#ff1400"/>
<path d="M118.7 96.3L117.2 96.7L116.2 96.6L115.2 96.2L114.2 95.1L113.6 93.7L113.5 92.2L113.9 87.7L115.2 83.9L117.2 80.9L118.2 80.1L119.2 79.7L120.7 79.5L122.2 79.7L124.2 80.5L125.6 81.7L126.2 83.2L126.0 84.7L124.6 88.7L122.5 92.7L120.7 95.0L118.7 96.3Z" fill="#f50000"/>
<path d="M118.2 94.9L117.2 95.1L116.2 94.9L115.1 93.7L114.7 91.2L115.2 87.4L116.2 84.7L117.9 82.2L118.7 81.5L119.7 81.1L121.7 81.2L122.8 81.7L123.8 82.7L124.1 84.2L123.7 86.1L122.7 89.2L121.2 92.0L119.7 93.9L118.2 94.9Z" fill="#d60000"/>
<path d="M119.7 89.8L118.7 90.1L118.2 89.9L117.8 89.2L117.9 87.7L118.6 86.7L119.2 86.4L119.7 86.4L120.2 86.7L120.6 87.7L120.5 88.7L119.7 89.8Z" fill="#b80000"/>
</g>
<path d="M155.5 30.2V115.9M95.7 75.3H168.7" stroke="#fff" stroke-opacity="0.6" stroke-width="0.6" fill="none"/>
</g>
<circle cx="118.9" cy="92.3" r="1.5" fill="none" stroke="#fff" stroke-width="0.8"/>
<rect x="171.4" y="34.5" width="2.5" height="77.0" fill="url(#jetg)"/>
<text class="cb" x="176.2" y="112.4">0.0</text>
<text class="cb" x="176.2" y="97.6">0.2</text>
<text class="cb" x="176.2" y="82.8">0.4</text>
<text class="cb" x="176.2" y="68.0">0.6</text>
<text class="cb" x="176.2" y="53.2">0.8</text>
<text class="cb" x="176.2" y="38.4">1.0</text>
<rect x="30.6" y="18.4" width="149.8" height="171.0" fill="none" stroke="#858585" stroke-width="1.2"/>
<path d="M34.2 189.4v3.6M55.1 189.4v3.6M76.1 189.4v3.6M97.0 189.4v3.6M117.9 189.4v3.6M138.9 189.4v3.6M159.8 189.4v3.6M30.6 183.4h-2.6M30.6 151.6h-2.6M30.6 119.8h-2.6M30.6 88.0h-2.6M30.6 56.2h-2.6M30.6 24.4h-2.6" stroke="#858585" stroke-width="0.9" fill="none"/>
<text class="tk" x="34.2" y="206.2" text-anchor="middle" textLength="3.87" lengthAdjust="spacingAndGlyphs">0</text>
<text class="tk" x="55.1" y="206.2" text-anchor="middle" textLength="3.87" lengthAdjust="spacingAndGlyphs">1</text>
<text class="tk" x="76.1" y="206.2" text-anchor="middle" textLength="3.87" lengthAdjust="spacingAndGlyphs">2</text>
<text class="tk" x="97.0" y="206.2" text-anchor="middle" textLength="3.87" lengthAdjust="spacingAndGlyphs">3</text>
<text class="tk" x="117.9" y="206.2" text-anchor="middle" textLength="3.87" lengthAdjust="spacingAndGlyphs">4</text>
<text class="tk" x="138.9" y="206.2" text-anchor="middle" textLength="3.87" lengthAdjust="spacingAndGlyphs">5</text>
<text class="tk" x="159.8" y="206.2" text-anchor="middle" textLength="3.87" lengthAdjust="spacingAndGlyphs">6</text>
<text class="tk" x="21.3" y="186.9" text-anchor="end" textLength="3.87" lengthAdjust="spacingAndGlyphs">0</text>
<text class="tk" x="21.3" y="155.1" text-anchor="end" textLength="3.87" lengthAdjust="spacingAndGlyphs">2</text>
<text class="tk" x="21.3" y="123.3" text-anchor="end" textLength="3.87" lengthAdjust="spacingAndGlyphs">4</text>
<text class="tk" x="21.3" y="91.5" text-anchor="end" textLength="3.87" lengthAdjust="spacingAndGlyphs">6</text>
<text class="tk" x="21.3" y="59.7" text-anchor="end" textLength="3.87" lengthAdjust="spacingAndGlyphs">8</text>
<text class="tk" x="21.3" y="27.9" text-anchor="end" textLength="7.74" lengthAdjust="spacingAndGlyphs">10</text>
<text class="ax" x="105.5" y="215.4" text-anchor="middle" textLength="90.4" lengthAdjust="spacingAndGlyphs">Significant Wave Height (m)</text>
<text class="ax" transform="translate(11.6 104.1) scale(0.8 1) rotate(-90)" x="0" y="0" text-anchor="middle" font-size="7.5">PCF</text>
<text class="tt" x="217.5" y="12.4" textLength="16.5" lengthAdjust="spacingAndGlyphs">Peak</text>
<text class="tt" x="236.2" y="12.4" textLength="25.2" lengthAdjust="spacingAndGlyphs">Control</text>
<text class="tt" x="265.4" y="12.4" textLength="20.8" lengthAdjust="spacingAndGlyphs">Factor</text>
<text class="tt" x="290.9" y="12.4" textLength="38.7" lengthAdjust="spacingAndGlyphs">Distribution</text>
<text class="tt" x="334.5" y="12.4" textLength="17.9" lengthAdjust="spacingAndGlyphs">(MB)</text>
<path d="M218.1 18.4V189.4M242.9 18.4V189.4M267.7 18.4V189.4M292.5 18.4V189.4M317.3 18.4V189.4M342.1 18.4V189.4M212.6 183.4H362.2M212.6 151.6H362.2M212.6 119.8H362.2M212.6 88.0H362.2M212.6 56.2H362.2M212.6 24.4H362.2" stroke="#ececec" stroke-width="0.8" fill="none"/>
<g clip-path="url(#cf1)"><g filter="url(#bl)">
<path d="M220.6 190.4L218.1 190.2L215.6 188.9L214.2 187.4L213.1 185.4L212.2 182.4L211.6 178.6L211.6 167.7L213.3 143.4L219.4 108.4L220.2 104.9L221.4 102.4L223.1 100.4L225.6 99.0L227.6 98.7L229.6 99.0L231.1 99.6L232.7 100.9L234.8 103.4L236.9 106.9L237.7 108.9L239.1 114.3L240.2 116.4L241.6 117.9L243.1 118.9L247.6 120.9L268.6 127.6L289.0 135.9L297.1 138.9L308.1 142.4L318.7 145.4L331.5 148.4L343.6 150.4L348.1 150.8L358.1 151.2L363.6 151.6L363.6 172.3L359.6 171.7L355.9 171.9L329.7 175.4L281.1 182.7L243.6 186.7L230.1 187.7L228.1 188.1L220.6 190.4Z" fill="#fafafa"/>
<path d="M221.6 189.0L218.6 189.0L216.6 188.3L215.1 186.9L213.8 184.4L213.2 181.9L212.8 176.9L212.8 171.4L213.2 162.4L214.4 143.4L215.6 136.4L216.4 129.4L216.9 126.4L217.7 123.9L220.4 108.4L221.3 104.9L222.3 102.9L224.1 100.9L226.1 99.9L228.1 99.7L229.6 100.0L231.1 100.8L232.3 101.9L234.2 104.4L236.0 107.4L236.8 109.4L238.1 114.5L239.3 116.9L240.6 118.4L242.0 119.4L246.1 121.4L268.6 128.7L287.6 136.4L295.5 139.4L306.2 142.9L318.5 146.4L331.4 149.4L343.4 151.4L348.1 151.9L358.6 152.2L363.6 152.7L363.6 171.2L358.6 170.7L351.5 171.4L326.1 174.9L281.1 181.6L243.6 185.7L229.6 186.7L221.6 189.0Z" fill="#f8f8f8"/>
<path d="M220.1 188.4L218.1 188.2L216.0 186.9L214.7 184.9L213.9 181.4L213.5 176.9L213.5 170.9L214.8 145.9L216.2 136.4L216.8 128.9L217.4 125.9L218.4 123.9L221.5 106.9L222.3 104.4L223.5 102.4L225.1 101.1L226.6 100.6L228.1 100.5L229.1 100.6L230.6 101.4L231.8 102.4L233.7 104.9L235.4 107.9L237.5 114.9L238.7 117.4L240.1 118.9L241.4 119.9L246.6 122.4L267.6 129.1L288.1 137.4L296.1 140.4L307.0 143.9L317.5 146.9L330.1 149.9L341.8 151.9L347.1 152.5L359.1 153.0L363.6 153.4L363.6 170.5L358.6 170.0L349.6 170.9L324.5 174.4L282.1 180.8L243.1 185.0L230.1 186.0L228.0 186.4L222.6 188.1L220.1 188.4Z" fill="#f6f6f6"/>
<path d="M220.1 187.9L218.1 187.6L216.3 186.4L215.1 184.4L214.3 180.9L214.0 176.4L214.0 170.4L215.3 145.4L216.6 136.3L217.0 129.4L217.8 125.9L219.0 123.9L222.1 106.9L223.0 104.4L224.0 102.9L225.1 101.9L226.6 101.2L228.1 101.1L229.6 101.5L231.1 102.6L232.6 104.4L235.0 108.4L237.0 115.4L238.7 118.4L241.1 120.4L246.1 122.8L267.6 129.7L288.1 138.1L296.1 141.0L306.6 144.4L317.6 147.6L330.1 150.5L343.1 152.7L347.6 153.2L359.1 153.6L363.6 154.1L363.6 169.8L360.1 169.4L358.1 169.3L349.6 170.3L327.6 173.3L282.1 180.2L244.1 184.3L230.6 185.4L228.2 185.9L222.6 187.6L220.1 187.9Z" fill="#f3f3f3"/>
<path d="M221.6 187.4L219.1 187.4L218.1 187.2L216.9 186.4L215.6 184.4L214.8 181.4L214.4 176.9L214.3 170.9L215.5 147.9L215.8 143.4L216.8 136.4L217.2 129.4L217.8 126.4L218.1 125.8L219.0 124.9L219.4 123.9L223.1 105.9L224.4 103.4L225.5 102.4L226.6 101.9L228.1 101.8L229.6 102.3L230.9 103.4L232.1 104.9L234.3 108.4L236.3 115.4L237.3 117.4L238.4 118.9L241.1 121.1L245.6 123.3L267.6 130.4L287.6 138.5L295.6 141.5L306.6 145.1L319.1 148.6L332.1 151.6L344.1 153.6L350.1 154.1L359.6 154.4L363.6 154.8L363.6 169.1L360.6 168.7L358.1 168.6L348.6 169.7L327.1 172.7L282.1 179.6L242.6 184.0L230.6 185.1L221.6 187.4Z" fill="#f1f1f1"/>
<path d="M222.6 187.0L220.1 187.3L218.1 186.8L216.9 185.9L215.7 183.9L215.0 180.9L214.6 176.4L214.9 161.9L215.8 145.4L217.1 135.9L217.4 128.9L218.1 126.2L219.5 124.9L219.7 124.4L221.1 117.7L224.1 106.2L225.5 103.9L227.1 103.0L228.1 103.0L229.6 103.7L231.1 105.3L232.6 107.5L233.6 109.4L235.7 115.9L237.5 118.9L240.1 121.3L245.1 123.8L266.6 130.9L287.1 139.2L295.1 142.2L304.1 145.2L315.6 148.6L329.1 152.2L343.1 155.1L347.6 155.8L359.1 156.8L363.6 157.5L363.6 166.4L359.6 166.2L355.6 166.6L311.3 174.4L286.0 178.4L243.1 183.5L230.6 184.8L222.6 187.0Z" fill="#ececec"/>
<path d="M221.6 187.0L219.1 186.8L217.3 185.9L216.0 183.9L215.3 180.9L214.9 176.4L214.8 170.4L216.0 145.9L216.8 138.4L217.2 136.4L217.4 129.9L218.0 126.9L218.6 125.9L219.6 125.5L220.0 124.9L221.3 118.9L223.1 113.9L226.1 107.3L226.7 106.4L227.6 105.9L228.1 106.0L229.1 106.8L231.3 109.4L234.2 115.9L236.2 118.9L238.9 121.4L242.6 123.5L249.1 126.2L266.6 132.3L294.1 143.2L317.7 150.9L323.3 152.9L343.3 160.9L344.3 161.4L344.6 161.9L344.3 162.4L342.2 163.4L325.7 169.4L317.3 171.9L308.6 173.9L300.7 175.4L287.5 177.4L243.6 183.1L231.6 184.4L221.6 187.0Z" fill="#e5e5e7"/>
<path d="M223.1 186.5L220.1 186.8L218.6 186.4L217.7 185.9L216.3 183.9L215.5 180.9L215.1 175.9L215.0 170.4L216.2 145.4L217.3 136.4L217.5 129.9L218.2 126.9L218.6 126.2L219.7 125.9L220.1 125.4L221.6 119.7L223.1 116.4L226.6 111.5L227.6 110.5L228.1 110.3L228.6 110.3L229.6 111.2L232.7 116.4L235.1 119.4L238.0 121.9L241.6 124.0L247.6 126.7L263.1 132.5L290.1 143.3L317.7 152.9L321.9 154.9L325.3 156.9L330.5 160.4L331.6 161.4L331.7 161.9L330.9 162.9L328.6 164.4L324.4 166.9L320.3 168.9L313.5 171.4L305.1 173.6L292.6 175.8L268.6 179.0L243.6 182.7L232.6 184.0L228.6 184.8L223.1 186.5Z" fill="#dfdfe1"/>
<path d="M222.6 186.5L220.1 186.6L218.1 185.9L217.1 184.9L216.5 183.9L215.7 180.9L215.3 176.4L215.2 170.4L216.4 145.4L217.5 136.4L217.7 129.4L218.4 126.9L218.8 126.4L220.1 126.1L220.3 125.9L221.9 120.4L223.1 118.0L225.6 115.6L228.1 114.2L229.1 114.7L232.2 118.4L235.6 121.4L238.5 123.4L241.6 125.0L248.6 128.1L281.6 141.6L295.1 146.7L310.1 151.9L315.3 153.9L318.2 155.4L320.5 156.9L323.8 159.9L324.8 161.4L324.5 162.4L323.1 163.9L320.8 165.9L317.8 167.9L312.1 170.5L304.1 172.9L295.6 174.5L275.6 177.2L244.1 182.3L232.6 183.7L229.6 184.4L222.6 186.5Z" fill="#d9d9db"/>
<path d="M221.6 186.4L219.1 186.1L217.6 185.1L216.6 183.4L215.8 179.9L215.5 175.9L215.4 169.9L216.5 146.4L217.2 138.4L217.6 136.4L217.8 129.9L218.4 127.4L218.6 126.8L219.1 126.5L220.1 126.6L220.6 126.1L222.1 121.0L223.1 119.1L224.6 117.8L226.1 117.3L227.6 117.1L228.6 117.4L235.1 122.4L241.6 126.1L267.1 137.4L276.6 141.3L292.6 147.4L308.6 153.0L313.3 154.9L315.6 156.1L317.6 157.5L318.9 158.9L320.2 160.9L320.3 161.9L319.5 163.4L317.7 165.4L315.8 166.9L310.6 169.7L303.1 172.2L295.1 173.7L275.1 176.3L244.0 181.9L233.1 183.4L229.6 184.2L223.6 186.1L221.6 186.4Z" fill="#d2d2d5"/>
<path d="M223.6 185.9L221.6 186.3L219.6 186.1L218.1 185.3L217.0 183.9L216.3 181.9L215.9 179.4L215.6 170.4L216.5 147.9L217.3 138.9L217.7 136.4L217.9 129.4L218.6 127.2L219.1 126.8L220.4 126.9L220.8 126.4L222.7 120.9L223.6 119.5L224.6 118.9L226.1 118.8L228.6 119.6L234.7 123.4L240.6 126.6L268.6 139.7L293.6 149.4L306.4 153.9L311.3 155.9L314.1 157.4L315.4 158.4L316.3 159.4L317.1 160.9L317.0 162.4L316.2 163.9L313.6 166.4L311.3 167.9L308.6 169.2L302.5 171.4L294.6 172.9L279.6 174.7L272.1 176.0L244.1 181.5L232.6 183.3L229.1 184.1L223.6 185.9Z" fill="#cccccf"/>
<path d="M223.1 185.9L221.1 186.2L219.6 185.9L218.1 185.0L217.0 183.4L216.3 180.9L216.0 177.9L215.8 168.9L216.7 147.4L217.4 138.9L217.8 136.4L218.1 129.4L218.6 127.6L219.1 127.1L220.1 127.4L220.6 127.3L221.0 126.9L223.1 121.3L223.7 120.4L224.6 119.9L225.6 119.9L226.6 120.3L240.6 127.6L259.6 137.1L268.1 141.1L275.6 144.1L309.3 156.9L313.0 158.9L314.0 159.9L314.6 160.9L314.7 161.9L314.1 163.4L313.1 164.7L311.6 165.9L307.3 168.4L302.0 170.4L294.4 171.9L279.6 173.7L273.6 174.7L244.6 181.0L232.1 183.1L223.1 185.9Z" fill="#c5c5ca"/>
<path d="M222.1 186.0L220.1 185.9L218.6 185.2L217.5 183.9L216.8 181.9L216.3 179.4L216.0 175.4L216.1 163.4L216.9 145.9L217.5 138.9L218.0 136.4L218.2 129.4L218.6 128.0L219.1 127.4L220.6 127.7L221.1 127.3L223.6 122.1L224.6 121.1L225.6 121.3L236.9 126.9L266.6 142.1L286.3 150.4L303.5 158.4L308.1 160.9L309.1 161.9L309.1 162.4L308.3 163.4L305.1 165.5L301.4 167.4L297.1 168.8L290.3 170.4L275.1 173.3L245.1 180.6L232.6 182.7L224.5 185.4L222.1 186.0Z" fill="#c2c2c9"/>
<path d="M223.6 185.5L221.6 185.9L219.6 185.5L218.1 184.4L217.3 182.9L216.6 180.1L216.2 176.4L216.2 164.9L217.0 147.4L217.6 138.9L218.1 136.4L218.3 129.4L218.6 128.4L219.1 127.7L220.6 128.0L221.6 127.4L224.1 123.7L225.1 123.0L226.6 123.4L237.1 128.2L265.1 143.1L283.8 151.9L289.0 154.9L296.4 159.9L298.5 161.4L299.1 162.4L298.3 163.4L294.3 165.4L288.1 167.9L282.1 169.9L251.6 178.6L242.1 180.8L232.1 182.6L223.6 185.5Z" fill="#bfbfc8"/>
<path d="M223.1 185.5L220.6 185.6L219.1 185.0L217.8 183.4L217.1 181.5L216.6 177.9L216.3 172.4L216.5 159.4L217.1 147.6L217.8 138.9L218.2 136.4L218.6 128.9L219.1 128.0L220.6 128.3L221.6 127.9L224.6 125.4L225.6 124.8L226.6 124.9L229.6 126.1L238.6 130.2L265.6 145.1L279.9 152.4L282.4 153.9L285.8 156.4L289.5 159.9L290.6 161.4L290.6 161.9L289.7 162.9L285.2 165.9L281.5 167.9L275.3 170.4L254.2 177.4L242.6 180.4L232.1 182.3L223.1 185.5Z" fill="#bcbcc7"/>
<path d="M222.6 185.4L221.1 185.5L220.1 185.3L219.1 184.7L218.3 183.9L217.6 182.4L217.2 180.9L216.6 175.9L216.5 164.9L217.1 149.9L217.9 138.9L218.4 136.4L218.5 129.9L219.1 128.4L221.1 128.5L225.1 126.7L226.6 126.4L230.6 127.8L236.6 130.4L243.2 133.9L267.6 148.1L278.1 153.8L280.4 155.4L282.6 157.4L284.8 160.4L284.9 161.4L284.2 162.4L282.8 163.9L280.5 165.9L277.2 167.9L271.6 170.4L259.9 174.9L252.4 177.4L243.1 179.9L232.1 181.9L224.5 184.9L222.6 185.4Z" fill="#bbbbc9"/>
<path d="M223.6 185.0L222.1 185.3L220.6 185.2L219.6 184.8L218.6 183.9L217.6 181.5L216.9 176.9L216.7 169.4L217.1 154.0L218.1 138.9L218.5 136.4L218.7 130.4L219.1 128.8L221.1 128.8L225.1 128.1L227.1 128.0L231.6 129.5L237.1 131.9L243.5 135.4L267.6 150.1L275.1 154.4L278.5 156.9L280.5 159.4L280.9 160.4L280.5 161.9L279.7 163.4L278.3 164.9L274.8 167.4L269.7 169.9L259.2 174.4L252.3 176.9L241.7 179.9L231.6 181.7L223.6 185.0Z" fill="#bcbccc"/>
<path d="M223.1 184.9L220.6 185.0L219.6 184.5L219.0 183.9L217.9 181.4L217.1 175.9L216.9 164.4L217.5 148.9L218.3 138.9L218.8 136.4L219.0 129.9L219.1 129.4L219.6 129.1L220.6 129.3L224.6 129.1L227.6 129.4L233.1 131.3L237.6 133.4L244.5 137.4L273.1 155.5L275.7 157.4L277.4 159.4L277.8 160.9L277.5 162.4L276.6 163.9L275.1 165.4L271.1 167.9L261.8 172.4L256.1 174.9L249.1 177.4L242.2 179.4L231.6 181.4L223.1 184.9Z" fill="#bcbccf"/>
<path d="M223.6 184.5L221.1 184.8L220.0 184.4L219.1 183.4L218.1 180.9L217.4 176.4L217.1 165.4L217.6 151.5L218.6 139.1L219.0 136.9L219.3 130.9L219.6 129.8L223.1 130.0L228.1 131.0L233.6 132.9L238.7 135.4L254.6 145.4L271.5 156.9L274.0 158.9L275.1 160.4L275.4 161.4L275.1 162.5L274.1 163.8L272.9 164.9L268.1 167.9L258.6 172.9L251.5 175.9L244.2 178.4L240.3 179.4L231.1 181.1L223.6 184.5Z" fill="#b9b9cf"/>
<path d="M222.1 184.5L221.1 184.4L220.1 183.9L219.1 182.6L218.6 181.4L217.8 177.4L217.5 170.9L217.6 157.7L218.1 147.8L219.1 140.4L220.1 135.0L220.6 132.9L221.1 132.3L222.1 132.1L224.1 132.4L231.1 134.2L236.1 136.0L241.1 138.5L248.0 142.9L259.4 150.9L269.3 158.9L271.2 160.9L271.4 161.4L271.0 162.4L267.4 165.4L259.2 170.9L252.6 174.4L246.7 176.9L242.2 178.4L230.6 180.9L224.2 183.9L222.1 184.5Z" fill="#b4b4cd"/>
<path d="M222.1 183.9L221.1 183.8L220.0 182.9L219.1 181.3L218.4 178.9L217.8 172.4L217.8 162.9L218.1 153.3L218.6 147.2L220.1 142.1L222.5 136.4L223.2 135.4L224.1 135.2L226.1 135.4L233.1 137.1L238.1 138.9L242.6 141.1L247.5 144.4L258.7 152.9L262.4 156.4L266.4 160.9L266.6 161.4L266.1 162.4L260.7 167.4L256.0 170.9L250.1 174.4L242.6 177.6L238.1 178.9L230.6 180.5L224.2 183.4L222.1 183.9Z" fill="#afafcc"/>
<path d="M223.6 183.0L221.6 183.1L220.5 182.4L219.3 180.4L218.6 177.5L218.2 172.4L218.1 166.4L218.6 151.7L219.1 147.7L220.1 145.1L224.6 138.7L225.6 138.1L226.6 138.1L231.1 138.9L236.6 140.3L240.1 141.6L243.6 143.5L247.6 146.4L257.2 154.4L260.8 158.4L262.1 160.4L262.3 161.4L261.9 162.4L260.8 163.9L257.0 167.9L253.3 170.9L248.7 173.9L244.8 175.9L241.1 177.4L237.1 178.6L230.1 180.2L223.6 183.0Z" fill="#a6a6c8"/>
<path d="M222.6 182.4L221.1 182.0L219.9 180.4L219.1 178.0L218.7 174.9L218.5 167.9L218.7 157.9L219.2 150.4L219.9 147.4L221.1 145.6L223.6 143.3L225.6 141.7L227.1 140.8L229.1 140.8L235.6 141.9L238.1 142.6L240.6 143.5L242.6 144.6L245.1 146.4L255.8 155.9L257.4 157.9L258.6 159.9L258.9 160.9L258.5 162.4L256.2 165.9L253.4 168.9L249.8 171.9L245.9 174.4L242.6 176.1L239.2 177.4L230.1 179.8L224.6 182.0L222.6 182.4Z" fill="#9090bd"/>
<path d="M224.6 181.4L222.6 181.7L221.1 181.1L220.0 179.4L219.2 176.4L218.9 170.4L218.9 162.4L219.6 151.9L220.2 148.4L221.1 147.1L222.1 146.3L225.6 144.3L228.6 143.3L236.1 143.9L240.1 145.0L242.1 146.0L244.1 147.5L254.0 156.9L255.4 158.9L256.0 160.4L256.0 161.4L255.6 162.9L253.8 165.9L251.3 168.9L248.5 171.4L245.0 173.9L242.1 175.5L238.6 177.0L229.6 179.5L224.6 181.4Z" fill="#7474b0"/>
<path d="M224.1 181.0L222.6 181.1L221.1 180.3L220.1 178.4L219.5 175.4L219.2 169.9L219.3 161.9L220.1 152.4L220.8 148.9L221.6 147.8L222.6 147.2L225.6 146.2L228.1 145.7L230.1 145.6L236.1 145.7L238.1 145.9L240.1 146.6L241.6 147.4L243.4 148.9L252.6 158.4L253.4 159.9L253.6 160.9L253.4 162.4L252.9 163.9L251.0 166.9L248.5 169.9L245.6 172.4L242.6 174.4L239.7 175.9L236.6 177.1L229.6 179.1L224.1 181.0Z" fill="#404095"/>
<path d="M224.6 180.4L222.6 180.5L221.6 180.0L221.1 179.5L220.3 177.9L219.8 174.9L219.5 169.4L219.7 161.4L220.5 152.9L221.3 149.4L221.6 148.9L222.6 148.2L226.6 147.2L236.1 147.0L238.1 147.2L239.6 147.7L241.1 148.6L242.6 149.9L250.6 158.9L251.4 160.4L251.5 161.4L251.3 162.9L250.7 164.4L248.9 167.4L246.8 169.9L244.0 172.4L241.1 174.4L235.8 176.9L224.6 180.4Z" fill="#31308b"/>
<path d="M224.6 180.0L222.6 180.0L221.2 178.9L220.4 176.9L220.0 173.9L219.8 168.9L219.9 161.9L220.8 154.4L221.7 150.4L222.4 149.4L223.1 149.0L226.6 148.2L236.6 147.9L238.1 148.2L239.6 148.7L241.1 149.8L242.7 151.4L249.1 159.9L249.6 160.9L249.6 161.9L248.8 164.4L247.4 166.9L245.6 169.4L243.1 171.9L240.4 173.9L237.8 175.4L234.6 176.8L224.6 180.0Z" fill="#292783"/>
<path d="M225.6 179.4L223.1 179.6L221.8 178.9L220.9 177.4L220.3 174.4L220.0 168.9L220.2 161.9L221.2 154.9L222.1 151.4L222.6 150.5L223.3 149.9L224.6 149.4L226.6 149.0L236.1 148.7L237.6 148.9L239.1 149.4L240.6 150.5L242.3 152.4L247.3 160.4L247.7 161.9L246.9 164.4L245.7 166.9L244.0 169.4L242.2 171.4L239.8 173.4L237.5 174.9L234.4 176.4L225.6 179.4Z" fill="#221e7c"/>
<path d="M226.1 178.9L223.6 179.3L222.1 178.6L221.1 176.9L220.5 173.9L220.2 168.9L220.5 161.9L221.4 155.9L222.5 152.4L223.6 150.8L224.6 150.3L226.1 149.9L236.1 149.6L238.6 150.1L240.3 151.4L241.8 153.4L245.6 160.9L245.7 162.4L244.7 165.4L243.5 167.9L242.1 169.9L240.4 171.9L238.6 173.4L236.3 174.9L233.6 176.3L226.1 178.9Z" fill="#1a1574"/>
<path d="M224.6 178.9L223.1 178.8L222.0 177.9L221.1 175.9L220.6 172.9L220.5 167.9L220.7 161.9L221.5 157.4L222.6 153.5L224.1 151.5L226.1 150.7L235.6 150.4L238.1 150.8L239.6 151.9L241.0 153.9L242.3 156.9L243.7 160.9L243.8 162.9L242.3 167.4L241.2 169.4L239.7 171.4L238.1 172.9L236.0 174.4L231.6 176.7L226.6 178.5L224.6 178.9Z" fill="#371165"/>
<path d="M225.6 178.5L223.6 178.6L222.4 177.9L221.5 176.4L220.9 173.4L220.6 168.4L220.9 162.4L221.4 158.9L222.7 154.4L224.1 152.4L226.1 151.5L235.6 151.1L237.6 151.5L238.9 152.4L240.2 154.4L241.3 157.4L241.9 160.4L242.0 163.4L241.4 165.9L240.5 168.4L238.6 171.4L235.6 174.1L231.5 176.4L225.6 178.5Z" fill="#5a0d54"/>
<path d="M226.6 178.0L224.6 178.3L222.9 177.9L221.8 176.4L221.2 173.9L220.8 169.4L221.0 162.9L221.7 158.9L223.0 154.9L224.1 153.2L225.1 152.6L226.1 152.2L235.1 151.8L237.1 152.1L238.4 152.9L239.4 154.4L240.5 158.4L240.8 161.4L240.7 163.4L240.3 165.9L239.3 168.9L238.5 170.4L237.4 171.9L234.6 174.2L231.1 176.2L226.6 178.0Z" fill="#7c0a44"/>
<path d="M225.6 178.0L224.1 178.0L222.6 177.2L221.7 175.4L221.2 172.4L221.0 167.9L221.3 161.9L222.1 158.4L223.4 154.9L224.6 153.4L226.6 152.7L235.1 152.4L237.1 152.7L238.1 153.5L239.0 154.9L239.9 158.9L239.9 164.4L239.4 166.9L238.7 168.9L237.2 171.4L234.1 174.1L230.1 176.4L225.6 178.0Z" fill="#960b36"/>
<path d="M226.6 177.5L224.6 177.8L223.1 177.3L222.1 175.9L221.4 173.4L221.1 168.9L221.4 163.4L221.9 159.9L223.1 156.3L224.1 154.4L225.1 153.6L226.1 153.2L234.6 152.8L236.6 153.1L237.6 153.7L238.5 154.9L239.4 158.4L239.6 160.9L239.4 163.9L238.4 168.4L237.0 170.9L234.1 173.7L230.6 175.9L226.6 177.5Z" fill="#af0b29"/>
<path d="M225.6 177.5L224.6 177.6L223.6 177.3L222.6 176.4L221.8 174.4L221.4 171.9L221.3 167.9L221.7 162.4L222.4 158.9L223.6 155.9L224.6 154.4L225.6 153.8L226.6 153.6L234.6 153.2L236.6 153.6L237.6 154.3L238.2 155.4L238.8 156.9L239.2 159.4L239.0 164.4L238.5 166.9L237.7 168.9L236.1 171.4L233.1 174.1L229.6 176.1L225.6 177.5Z" fill="#c90c1b"/>
<path d="M226.6 177.0L224.6 177.3L223.4 176.9L222.6 175.9L221.8 173.4L221.4 169.4L221.6 164.4L222.1 160.9L223.1 157.7L224.6 154.9L226.1 154.0L228.6 153.7L233.6 153.6L236.3 153.9L237.1 154.4L238.1 155.9L238.8 159.4L238.7 163.9L237.5 168.4L236.1 170.9L233.5 173.4L230.4 175.4L226.6 177.0Z" fill="#d30d16"/>
<path d="M226.1 176.9L224.1 177.0L223.1 176.3L222.3 174.9L221.8 172.4L221.6 168.4L221.9 163.9L222.6 159.9L223.5 157.4L224.6 155.4L225.1 154.9L226.1 154.4L232.6 154.0L234.6 154.0L236.1 154.3L236.9 154.9L237.6 155.9L238.2 157.4L238.5 159.4L238.2 164.4L237.1 168.4L235.6 170.9L233.0 173.4L229.8 175.4L226.1 176.9Z" fill="#da0f12"/>
<path d="M226.6 176.5L225.1 176.8L223.6 176.4L222.6 175.1L222.0 172.9L221.7 168.9L222.0 164.4L222.6 160.8L223.6 157.8L225.1 155.4L226.1 154.9L232.6 154.3L234.6 154.4L236.1 154.8L237.1 155.8L237.6 156.9L238.1 159.9L237.8 164.4L236.6 168.4L235.1 170.9L233.1 172.9L230.2 174.9L226.6 176.5Z" fill="#e1110e"/>
<path d="M226.1 176.4L224.6 176.5L223.4 175.9L222.6 174.6L222.1 172.4L221.9 168.9L222.1 165.1L222.7 161.4L223.6 158.6L225.1 156.0L226.1 155.3L231.6 154.8L234.1 154.9L235.6 155.3L236.4 155.9L237.0 156.9L237.6 159.9L237.3 164.4L236.1 168.4L234.6 170.7L232.5 172.9L229.6 174.9L226.1 176.4Z" fill="#e81e0a"/>
<path d="M226.6 176.0L225.1 176.3L223.8 175.9L223.0 174.9L222.3 172.9L222.0 169.9L222.1 166.8L222.6 163.1L223.6 159.4L225.1 156.8L225.6 156.3L226.6 155.8L231.6 155.4L235.0 155.9L235.8 156.4L236.4 157.4L236.9 160.4L236.7 164.4L235.6 167.9L234.1 170.4L232.3 172.4L229.7 174.4L226.6 176.0Z" fill="#f03507"/>
<path d="M225.6 176.0L224.1 175.8L223.2 174.9L222.6 173.4L222.2 170.9L222.2 168.4L222.5 164.9L223.1 162.0L224.0 159.4L225.6 157.1L226.8 156.4L230.6 156.1L234.1 156.6L235.1 157.3L235.5 157.9L236.1 160.9L235.8 164.4L234.7 167.9L233.2 170.4L230.9 172.9L228.2 174.9L225.6 176.0Z" fill="#f84c03"/>
<path d="M226.1 175.5L224.6 175.6L223.6 175.0L223.0 173.9L222.5 171.9L222.3 169.4L222.5 166.4L223.1 163.2L224.0 160.4L225.1 158.4L226.1 157.5L227.1 157.0L230.1 156.8L233.1 157.4L234.5 158.4L235.1 160.9L235.1 163.9L234.2 166.9L232.7 169.9L230.6 172.4L228.3 174.4L226.1 175.5Z" fill="#ff6300"/>
<path d="M226.6 175.0L225.6 175.3L224.6 175.3L223.6 174.6L223.0 173.4L222.6 171.3L222.5 168.9L223.1 164.4L224.6 160.0L226.1 158.3L228.1 157.5L231.1 157.7L232.8 158.4L233.7 159.4L234.3 161.9L234.0 164.9L232.9 167.9L231.0 170.9L228.8 173.4L226.6 175.0Z" fill="#ff7e00"/>
<path d="M225.6 174.9L224.6 174.9L224.1 174.6L223.5 173.9L223.0 172.4L222.7 168.4L223.0 165.9L223.6 163.7L224.9 160.4L226.1 159.0L228.1 158.2L230.7 158.4L232.1 159.1L233.0 160.4L233.4 162.9L233.0 165.4L231.7 168.4L229.8 171.4L227.5 173.9L225.6 174.9Z" fill="#ff9900"/>
<path d="M225.6 174.5L224.6 174.4L224.1 174.0L223.6 173.3L223.1 171.5L223.0 167.9L223.6 164.9L225.1 161.2L226.1 159.8L227.1 159.3L228.1 159.0L230.1 159.1L231.4 159.9L232.2 161.4L232.4 163.4L232.0 165.4L230.8 168.4L229.1 171.4L227.3 173.4L225.6 174.5Z" fill="#ffb400"/>
<path d="M226.1 173.5L225.1 173.8L224.6 173.6L224.1 173.1L223.6 172.0L223.3 168.9L223.6 166.3L224.6 163.7L226.1 161.0L227.6 160.1L229.6 160.2L230.6 160.9L231.1 161.9L231.3 163.4L231.0 165.4L230.2 167.9L229.1 170.1L227.6 172.2L226.1 173.5Z" fill="#ffc200"/>
<path d="M225.6 172.5L225.1 172.5L224.6 172.2L224.1 171.2L223.7 168.9L223.9 166.9L224.6 165.2L226.6 162.5L227.6 161.8L228.6 161.8L229.5 162.4L229.8 163.4L229.8 165.4L229.4 167.4L228.9 168.9L228.0 170.4L226.6 171.9L225.6 172.5Z" fill="#ffce00"/>
<path d="M226.6 170.6L225.6 170.9L225.1 170.7L224.4 169.4L224.3 167.9L224.6 166.8L225.6 165.4L226.6 164.6L227.6 164.3L228.1 164.6L228.4 165.4L228.5 167.4L227.7 169.4L226.6 170.6Z" fill="#ffd904"/>
<path d="M226.1 169.5L225.6 169.4L225.2 168.9L225.0 167.9L225.6 166.8L226.6 166.3L227.3 166.9L227.4 167.9L227.0 168.9L226.1 169.5Z" fill="#ffe21a"/>
</g></g>
<path d="M212.6 162.0H362.2" stroke="#ff2a2a" stroke-width="1.3" stroke-dasharray="2.8 2.65" fill="none"/>
<path d="M218.6 136.9L270.4 18.4M242.3 182.8L362.2 130.6" stroke="#ff0000" stroke-width="1.45" fill="none"/>
<rect x="218.6" y="137.2" width="23.7" height="45.6" stroke="#ff0000" stroke-width="1.75" fill="none"/>
<rect x="270.4" y="18.4" width="91.8" height="112.2" fill="#fff" stroke="#5a5a5a" stroke-width="1.0"/>
<g clip-path="url(#cj1)"><rect x="278.0" y="30.1" width="73.0" height="86.1" fill="#00009c"/><g filter="url(#bl2)">
<path d="M353.0 118.6L276.0 118.6L276.0 48.2L277.0 47.3L281.0 41.7L285.0 37.7L288.0 35.5L292.0 33.1L296.5 31.0L302.6 28.6L303.3 28.1L353.0 28.1L353.0 118.6Z" fill="#0000b7"/>
<path d="M284.5 118.6L280.1 118.6L279.9 103.6L280.1 95.6L280.7 88.1L282.7 74.1L284.2 67.6L287.7 58.1L289.7 54.1L291.5 51.6L294.0 49.0L297.0 46.8L301.0 44.7L306.0 42.9L312.0 41.4L319.5 39.9L333.4 38.1L336.3 37.1L344.0 33.8L347.5 32.7L350.0 32.4L353.0 32.8L353.0 107.8L349.5 108.7L347.0 108.9L344.0 108.7L336.5 107.6L332.0 107.6L313.5 110.9L290.3 114.6L288.7 115.1L287.0 116.0L285.5 117.4L284.9 118.6L284.5 118.6Z" fill="#0000d2"/>
<path d="M283.5 114.6L283.0 114.2L282.7 113.6L282.4 111.6L281.8 104.6L281.5 97.6L281.9 89.6L283.3 78.1L284.7 71.1L286.7 65.1L290.4 57.1L291.9 54.6L293.5 52.6L296.0 50.3L299.5 48.1L303.5 46.3L308.5 44.8L319.5 42.6L332.0 41.4L334.5 41.0L348.5 36.3L350.5 36.3L353.0 37.2L353.0 105.9L350.0 106.6L346.5 106.9L336.5 106.0L332.5 106.1L311.0 109.9L289.5 112.7L287.0 113.3L283.5 114.6Z" fill="#0000ed"/>
<path d="M286.5 111.6L285.0 111.5L284.3 110.6L283.5 107.7L282.7 102.1L282.3 97.6L282.3 93.6L282.6 88.1L283.3 82.6L284.8 73.6L286.3 68.6L290.5 59.7L292.5 56.4L294.3 54.1L297.0 51.6L300.0 49.8L304.5 47.9L309.5 46.4L314.5 45.4L320.0 44.7L332.5 43.9L336.0 43.5L342.5 41.9L348.5 39.9L349.5 40.0L350.5 40.6L352.0 42.4L353.0 43.1L353.0 104.9L346.5 105.6L336.5 105.1L333.0 105.3L309.0 109.4L297.5 110.9L286.5 111.6Z" fill="#000aff"/>
<path d="M297.5 110.1L289.5 110.1L287.0 109.7L286.0 109.2L285.1 107.6L284.0 103.9L283.3 100.1L282.9 96.6L282.9 91.6L283.3 86.1L284.7 76.6L285.7 72.1L287.0 68.6L289.0 64.7L292.5 58.9L295.0 55.6L298.0 52.9L302.5 50.5L308.5 48.6L315.5 47.2L322.5 46.6L336.5 46.1L343.0 45.2L347.0 44.1L348.5 44.5L352.0 47.1L353.0 47.5L353.0 103.9L345.5 104.4L337.0 104.3L333.5 104.5L313.0 108.2L297.5 110.1Z" fill="#0029ff"/>
<path d="M301.5 109.1L297.5 109.4L293.5 109.3L290.0 108.8L287.5 107.9L286.5 106.8L285.2 104.1L284.2 100.6L283.6 97.6L283.4 92.6L283.7 87.1L284.8 78.6L286.0 73.0L287.0 70.2L288.5 67.3L292.5 61.1L295.2 57.6L298.5 54.5L302.5 52.4L308.5 50.5L315.0 49.2L322.0 48.7L334.5 48.9L344.5 48.5L348.0 49.0L353.0 50.2L353.0 102.9L350.0 102.6L346.0 103.1L334.0 103.8L316.0 107.2L301.5 109.1Z" fill="#0047ff"/>
<path d="M300.0 108.6L296.5 108.7L293.0 108.3L290.4 107.6L288.4 106.6L287.0 104.9L285.5 102.0L284.5 98.8L284.0 95.6L283.9 90.6L284.2 86.1L285.5 77.5L286.5 73.1L287.5 70.6L289.0 67.9L293.5 61.8L296.0 58.8L299.0 56.2L303.0 54.0L308.5 52.3L314.5 51.2L319.5 50.9L324.5 50.9L342.0 51.8L346.0 52.5L350.0 52.0L353.0 52.1L353.0 101.9L350.5 101.3L349.5 101.3L335.0 102.9L315.7 106.6L300.0 108.6Z" fill="#0066ff"/>
<path d="M303.5 107.6L299.5 108.0L296.5 108.0L293.0 107.4L290.5 106.5L288.6 105.1L287.0 103.0L285.6 100.1L284.8 97.1L284.4 92.6L284.5 87.6L285.5 80.4L287.0 73.6L288.0 71.1L289.1 69.1L295.5 61.3L298.5 58.4L302.0 56.3L307.0 54.5L313.5 53.2L318.0 52.9L323.5 53.0L338.0 54.4L345.0 55.3L347.0 55.0L351.0 53.8L353.0 53.5L353.0 100.6L350.5 100.0L348.5 100.1L333.0 102.3L314.6 106.1L303.5 107.6Z" fill="#0085ff"/>
<path d="M302.5 107.1L299.0 107.4L296.0 107.2L293.0 106.6L290.5 105.5L288.9 104.1L287.1 101.6L285.8 98.6L285.2 95.6L284.9 91.1L285.0 87.1L286.0 80.8L287.5 74.1L288.5 71.6L289.7 69.6L296.0 62.4L299.5 59.3L302.5 57.6L307.0 56.1L313.5 54.9L318.0 54.6L323.5 54.8L345.0 57.4L347.0 57.2L351.0 55.9L353.0 55.6L353.0 98.2L350.5 97.9L348.0 98.1L332.0 101.3L318.0 104.6L302.5 107.1Z" fill="#00a3ff"/>
<path d="M301.5 106.6L298.5 106.8L295.5 106.5L292.5 105.7L290.5 104.6L288.5 102.6L287.1 100.1L286.1 97.1L285.6 94.1L285.4 90.1L285.7 86.1L287.0 79.1L288.5 73.7L289.4 71.6L290.8 69.6L297.0 62.8L300.5 60.0L304.0 58.4L309.5 57.0L315.5 56.2L320.5 56.2L326.5 56.6L345.5 59.3L351.0 58.9L352.2 59.6L353.0 60.6L353.0 88.7L351.8 93.1L351.0 94.4L350.0 94.9L319.0 103.2L310.2 105.1L301.5 106.6Z" fill="#00c2ff"/>
<path d="M300.5 106.1L297.5 106.2L294.5 105.7L292.0 104.8L290.3 103.6L288.6 101.6L287.3 99.1L286.5 96.1L286.0 92.6L286.0 88.6L286.4 85.1L287.9 78.6L289.5 73.6L290.4 71.6L291.8 69.6L297.5 63.6L301.0 61.1L304.5 59.6L311.0 58.2L316.5 57.7L323.0 57.9L331.5 58.8L338.0 59.8L345.0 61.3L349.0 61.7L350.0 62.3L350.6 63.6L351.4 67.1L351.8 70.6L351.8 73.6L350.0 87.1L349.2 90.6L348.5 91.9L347.0 92.7L341.5 94.7L320.5 101.4L308.1 104.6L300.5 106.1Z" fill="#00e0ff"/>
<path d="M299.5 105.6L296.5 105.5L293.5 104.8L291.5 103.8L290.0 102.4L288.5 100.2L287.5 97.6L286.8 94.6L286.5 91.1L286.6 88.1L287.2 84.6L288.5 79.4L290.4 73.6L291.5 71.6L292.9 69.6L297.5 64.9L301.0 62.4L304.5 60.9L311.5 59.6L317.5 59.2L325.5 59.6L335.5 61.1L342.5 62.6L347.0 63.9L348.1 64.6L348.9 66.1L349.4 68.6L349.7 71.6L349.6 74.1L347.5 86.1L346.8 88.6L346.0 89.8L343.9 91.1L338.5 93.4L321.6 99.6L306.5 104.1L299.5 105.6Z" fill="#00ffff"/>
<path d="M298.5 105.1L296.0 104.9L293.5 104.2L291.6 103.1L290.1 101.6L288.9 99.6L288.0 97.1L287.3 93.6L287.1 90.1L287.3 87.1L288.0 83.8L291.4 73.6L293.6 70.1L298.0 65.7L301.5 63.4L305.5 62.0L312.5 60.9L318.5 60.7L327.5 61.4L336.5 62.9L342.6 64.6L345.0 65.6L346.4 66.6L347.0 67.6L347.5 69.6L347.7 71.6L347.6 74.1L345.1 85.1L344.3 87.1L343.5 88.1L340.3 90.1L336.2 92.1L321.5 98.1L304.5 103.9L301.0 104.8L298.5 105.1Z" fill="#1fffe0"/>
<path d="M301.0 104.2L298.5 104.6L296.0 104.3L293.5 103.5L291.3 102.1L290.0 100.5L288.9 98.1L288.1 95.1L287.7 91.6L287.7 88.6L288.2 85.6L289.5 81.2L292.2 74.1L293.2 72.1L294.3 70.6L298.0 66.9L301.5 64.7L305.0 63.4L312.5 62.4L318.5 62.2L327.0 62.9L335.5 64.4L341.3 66.1L343.3 67.1L344.6 68.1L345.2 69.1L345.6 70.6L345.7 72.1L345.5 74.1L342.9 83.6L342.0 85.5L341.0 86.6L338.5 88.4L335.5 90.1L323.7 95.6L305.8 102.6L301.0 104.2Z" fill="#3dffc2"/>
<path d="M300.5 103.7L298.0 104.0L295.5 103.6L293.0 102.7L291.5 101.5L290.4 100.1L289.3 97.6L288.6 94.6L288.2 91.1L288.3 88.1L288.8 85.6L290.1 81.6L292.9 74.6L293.9 72.6L295.0 71.1L298.0 68.1L301.5 65.9L305.0 64.7L312.0 63.9L318.5 63.7L327.0 64.5L334.5 65.9L340.2 67.6L341.9 68.6L343.0 69.6L343.6 71.1L343.6 73.1L341.3 80.6L340.0 83.6L337.6 86.1L332.2 89.6L322.3 94.6L304.5 102.3L300.5 103.7Z" fill="#5cffa3"/>
<path d="M300.5 103.2L298.5 103.5L296.0 103.3L293.5 102.4L291.8 101.1L290.7 99.6L289.9 97.6L289.1 94.6L288.7 91.1L288.8 88.1L289.4 85.6L290.6 82.1L293.9 74.6L295.7 71.6L298.5 68.9L301.5 67.0L305.0 66.0L312.0 65.3L318.5 65.3L326.0 65.9L332.5 67.1L338.5 68.8L340.0 69.6L341.0 70.5L341.5 71.6L341.4 73.1L338.7 80.6L337.3 83.1L335.0 85.3L330.1 88.6L321.5 93.4L304.0 101.9L300.5 103.2Z" fill="#7aff85"/>
<path d="M300.5 102.7L298.5 103.1L296.0 102.8L293.5 101.9L292.0 100.7L290.9 99.1L290.2 97.1L289.2 91.1L289.2 89.1L289.5 87.1L291.2 82.1L295.4 73.6L296.5 72.0L298.5 70.1L301.5 68.3L304.5 67.4L310.0 66.9L317.0 66.7L323.5 67.3L330.0 68.4L336.0 70.1L337.5 70.8L338.6 71.6L338.8 72.1L338.8 73.1L336.3 80.1L334.7 82.6L332.6 84.6L327.7 88.1L320.5 92.4L304.0 101.3L300.5 102.7Z" fill="#99ff66"/>
<path d="M299.0 102.6L297.0 102.6L295.0 102.1L293.5 101.4L292.0 100.1L291.1 98.6L290.3 96.1L289.6 90.1L290.1 86.6L291.8 82.1L296.0 74.3L298.5 71.5L301.0 69.8L304.0 68.8L309.0 68.3L315.5 68.2L321.5 68.8L327.0 69.8L332.5 71.6L334.0 72.3L335.1 73.1L335.3 74.1L335.2 75.1L333.9 79.6L332.2 82.1L329.0 85.1L320.4 91.1L305.0 100.3L302.0 101.8L299.0 102.6Z" fill="#b8ff47"/>
<path d="M299.5 102.2L297.5 102.2L295.5 101.8L293.7 101.1L292.5 100.1L291.5 98.6L290.8 96.6L290.1 90.6L290.4 87.1L292.0 82.6L296.5 75.1L298.5 72.9L301.0 71.2L304.0 70.2L309.0 69.6L314.5 69.6L319.5 70.2L324.0 71.1L329.0 72.9L331.0 73.9L331.8 74.6L332.2 75.6L332.1 76.6L331.1 79.6L328.8 82.6L325.7 85.6L319.1 90.6L306.2 99.1L302.5 101.2L299.5 102.2Z" fill="#d6ff29"/>
<path d="M300.5 101.6L298.5 101.9L296.5 101.7L294.5 101.1L293.0 100.1L292.0 98.8L291.3 97.1L290.6 92.1L290.5 89.6L290.7 87.6L292.3 83.1L293.5 80.9L296.5 76.6L298.5 74.2L301.0 72.5L303.5 71.6L308.0 71.1L313.0 71.0L317.5 71.5L321.5 72.4L325.9 74.1L328.5 75.8L329.1 77.1L328.9 78.1L328.2 79.6L325.8 83.1L322.9 86.1L316.7 91.1L306.9 98.1L303.5 100.3L300.5 101.6Z" fill="#f5ff0a"/>
<path d="M301.0 101.1L299.5 101.5L297.5 101.5L295.0 100.9L293.5 100.1L292.6 99.1L292.0 98.1L291.1 94.1L291.0 89.1L291.3 87.1L292.1 84.6L294.0 81.0L298.0 76.1L300.0 74.4L303.0 73.1L306.5 72.5L311.0 72.3L315.5 72.7L319.5 73.6L322.5 74.8L325.2 76.6L325.6 77.1L325.8 78.1L325.4 79.6L323.8 82.6L321.3 85.6L315.1 91.1L308.2 96.6L304.0 99.6L301.0 101.1Z" fill="#ffeb00"/>
<path d="M299.5 101.1L298.0 101.2L296.0 100.8L294.5 100.3L293.5 99.6L292.7 98.6L292.2 97.6L291.5 94.3L291.4 89.1L292.4 85.1L294.0 81.8L297.0 78.4L299.0 76.4L301.5 74.9L304.0 74.2L308.5 73.8L312.5 73.8L316.5 74.5L319.7 75.6L322.1 77.1L323.0 78.6L322.7 80.6L321.5 83.1L319.5 85.6L312.7 92.1L306.2 97.6L302.5 100.1L299.5 101.1Z" fill="#ffcc00"/>
<path d="M300.0 100.7L297.5 100.8L295.0 100.1L293.5 99.1L292.4 97.1L291.8 93.1L291.9 88.6L293.0 84.6L294.8 81.6L297.5 78.9L299.5 77.2L301.5 76.2L304.0 75.5L309.0 75.1L312.5 75.2L316.5 76.1L319.5 77.6L320.6 79.1L320.6 80.6L319.9 82.6L318.2 85.1L312.0 91.6L306.7 96.6L303.0 99.4L300.0 100.7Z" fill="#ffad00"/>
<path d="M300.5 100.2L298.5 100.4L295.5 99.9L294.0 99.0L293.3 98.1L292.8 97.1L292.3 93.6L292.3 89.1L293.1 85.6L294.7 82.6L296.5 80.7L299.0 78.6L301.0 77.5L303.0 77.0L308.5 76.5L311.5 76.5L315.5 77.5L317.7 78.6L318.5 79.6L318.8 81.1L318.3 82.6L317.0 84.6L311.4 91.1L306.6 96.1L303.5 98.6L300.5 100.2Z" fill="#ff8f00"/>
<path d="M301.0 99.6L299.0 100.0L296.2 99.6L294.3 98.6L293.3 97.1L292.7 93.6L292.9 89.1L293.7 85.6L295.0 83.1L296.5 81.5L299.0 79.6L300.5 78.8L302.5 78.2L310.5 77.9L313.7 78.6L316.0 79.6L316.8 80.6L316.7 82.1L315.6 84.1L312.7 88.1L309.0 92.6L305.8 96.1L303.6 98.1L301.0 99.6Z" fill="#ff7000"/>
<path d="M301.0 99.2L299.0 99.6L297.0 99.3L295.0 98.4L294.0 97.1L293.3 94.1L293.3 90.1L294.0 86.6L295.1 84.1L296.3 82.6L298.5 80.8L300.5 79.7L302.0 79.3L304.5 79.1L309.0 79.4L311.0 79.7L313.2 80.6L314.2 81.6L314.2 82.6L313.3 84.6L310.9 88.6L305.5 95.6L303.4 97.6L301.0 99.2Z" fill="#ff5200"/>
<path d="M301.0 98.6L299.0 99.1L297.0 98.7L295.3 97.6L294.5 96.4L293.9 93.6L294.0 90.6L294.5 87.4L295.5 84.8L296.5 83.5L298.1 82.1L300.0 80.9L301.5 80.4L303.5 80.2L305.5 80.4L308.5 80.9L310.4 81.6L311.4 82.6L311.5 83.6L310.8 86.1L309.6 88.6L307.0 92.6L304.7 95.6L302.6 97.6L301.0 98.6Z" fill="#ff3300"/>
<path d="M300.5 98.2L299.0 98.5L297.5 98.1L296.0 97.1L295.3 96.1L294.8 94.1L294.6 91.6L294.9 89.1L295.6 86.6L296.3 85.1L297.5 83.6L299.0 82.4L300.5 81.6L302.0 81.3L303.5 81.3L307.1 82.1L308.8 83.1L309.4 84.1L309.3 85.6L308.8 87.6L306.9 91.1L304.2 95.1L302.3 97.1L300.5 98.2Z" fill="#ff1400"/>
<path d="M300.0 97.6L298.5 97.7L297.5 97.2L296.5 96.2L296.0 95.2L295.4 92.1L296.0 88.0L297.4 85.1L299.5 83.1L300.7 82.6L302.0 82.3L304.5 82.6L306.5 83.5L307.5 84.6L307.8 86.1L307.5 87.6L305.8 91.1L303.6 94.6L301.8 96.6L300.0 97.6Z" fill="#f50000"/>
<path d="M300.0 96.3L299.0 96.4L298.3 96.1L297.5 95.2L297.0 94.1L296.6 91.6L297.1 88.6L298.0 86.4L299.7 84.6L301.5 83.9L303.8 84.1L305.0 84.7L305.7 85.6L305.9 86.6L305.5 88.6L304.5 91.1L303.0 93.6L301.5 95.3L300.0 96.3Z" fill="#d60000"/>
<path d="M301.0 91.7L300.5 91.8L299.9 91.6L299.5 91.1L299.3 90.1L300.0 88.5L300.5 88.1L301.5 87.9L302.3 88.6L302.5 89.6L302.0 90.9L301.0 91.7Z" fill="#b80000"/>
</g>
<path d="M339.5 30.1V116.2M278.0 77.5H351.0" stroke="#fff" stroke-opacity="0.6" stroke-width="0.6" fill="none"/>
</g>
<circle cx="300.0" cy="90.6" r="1.5" fill="none" stroke="#fff" stroke-width="0.8"/>
<rect x="353.4" y="34.5" width="2.5" height="77.0" fill="url(#jetg)"/>
<text class="cb" x="358.2" y="112.4">0.0</text>
<text class="cb" x="358.2" y="97.6">0.2</text>
<text class="cb" x="358.2" y="82.8">0.4</text>
<text class="cb" x="358.2" y="68.0">0.6</text>
<text class="cb" x="358.2" y="53.2">0.8</text>
<text class="cb" x="358.2" y="38.4">1.0</text>
<rect x="212.6" y="18.4" width="149.6" height="171.0" fill="none" stroke="#858585" stroke-width="1.2"/>
<path d="M218.1 189.4v3.6M242.9 189.4v3.6M267.7 189.4v3.6M292.5 189.4v3.6M317.3 189.4v3.6M342.1 189.4v3.6M212.6 183.4h-2.6M212.6 151.6h-2.6M212.6 119.8h-2.6M212.6 88.0h-2.6M212.6 56.2h-2.6M212.6 24.4h-2.6" stroke="#858585" stroke-width="0.9" fill="none"/>
<text class="tk" x="218.1" y="206.2" text-anchor="middle" textLength="3.87" lengthAdjust="spacingAndGlyphs">0</text>
<text class="tk" x="242.9" y="206.2" text-anchor="middle" textLength="3.87" lengthAdjust="spacingAndGlyphs">1</text>
<text class="tk" x="267.7" y="206.2" text-anchor="middle" textLength="3.87" lengthAdjust="spacingAndGlyphs">2</text>
<text class="tk" x="292.5" y="206.2" text-anchor="middle" textLength="3.87" lengthAdjust="spacingAndGlyphs">3</text>
<text class="tk" x="317.3" y="206.2" text-anchor="middle" textLength="3.87" lengthAdjust="spacingAndGlyphs">4</text>
<text class="tk" x="342.1" y="206.2" text-anchor="middle" textLength="3.87" lengthAdjust="spacingAndGlyphs">5</text>
<text class="tk" x="203.3" y="186.9" text-anchor="end" textLength="3.87" lengthAdjust="spacingAndGlyphs">0</text>
<text class="tk" x="203.3" y="155.1" text-anchor="end" textLength="3.87" lengthAdjust="spacingAndGlyphs">2</text>
<text class="tk" x="203.3" y="123.3" text-anchor="end" textLength="3.87" lengthAdjust="spacingAndGlyphs">4</text>
<text class="tk" x="203.3" y="91.5" text-anchor="end" textLength="3.87" lengthAdjust="spacingAndGlyphs">6</text>
<text class="tk" x="203.3" y="59.7" text-anchor="end" textLength="3.87" lengthAdjust="spacingAndGlyphs">8</text>
<text class="tk" x="203.3" y="27.9" text-anchor="end" textLength="7.74" lengthAdjust="spacingAndGlyphs">10</text>
<text class="ax" x="287.4" y="215.4" text-anchor="middle" textLength="90.4" lengthAdjust="spacingAndGlyphs">Significant Wave Height (m)</text>
<text class="ax" transform="translate(193.6 104.1) scale(0.8 1) rotate(-90)" x="0" y="0" text-anchor="middle" font-size="7.5">PCF</text>
<text class="tt" x="397.4" y="12.4" textLength="16.5" lengthAdjust="spacingAndGlyphs">Peak</text>
<text class="tt" x="416.1" y="12.4" textLength="25.2" lengthAdjust="spacingAndGlyphs">Control</text>
<text class="tt" x="445.3" y="12.4" textLength="20.8" lengthAdjust="spacingAndGlyphs">Factor</text>
<text class="tt" x="470.8" y="12.4" textLength="38.7" lengthAdjust="spacingAndGlyphs">Distribution</text>
<text class="tt" x="514.2" y="12.4" textLength="15.6" lengthAdjust="spacingAndGlyphs">(HP)</text>
<path d="M398.7 18.4V189.4M433.4 18.4V189.4M468.1 18.4V189.4M502.7 18.4V189.4M537.4 18.4V189.4M394.5 183.4H544.4M394.5 151.6H544.4M394.5 119.8H544.4M394.5 88.0H544.4M394.5 56.2H544.4M394.5 24.4H544.4" stroke="#ececec" stroke-width="0.8" fill="none"/>
<g clip-path="url(#cf2)"><g filter="url(#bl)">
<path d="M402.0 190.4L399.3 190.4L397.0 189.2L395.5 187.9L393.5 184.6L393.5 150.9L394.6 142.9L396.0 137.0L397.6 127.9L398.5 124.9L400.8 114.9L401.7 111.9L402.9 109.4L404.5 107.6L406.0 107.0L408.0 107.0L410.0 107.9L412.3 109.9L414.5 113.0L416.0 114.2L426.5 118.2L434.5 122.6L451.0 133.1L467.0 144.9L472.4 147.9L478.1 150.4L485.2 152.9L493.9 155.4L504.7 157.9L513.1 159.4L522.5 160.5L545.5 161.3L545.5 174.7L542.0 174.5L537.0 174.7L502.2 177.4L427.0 184.9L419.5 185.9L409.5 187.8L402.0 190.4Z" fill="#fafafa"/>
<path d="M402.5 189.0L400.0 189.2L398.0 188.6L396.4 187.4L395.2 185.4L394.2 181.9L393.7 177.9L393.6 173.4L393.7 168.4L395.2 145.9L397.0 136.7L398.1 127.9L399.5 124.9L401.3 116.9L403.0 111.4L404.5 109.0L405.5 108.2L406.5 107.9L408.0 108.0L410.0 109.2L411.8 110.9L413.9 113.9L415.1 114.9L417.3 115.9L426.0 119.1L432.5 122.6L450.5 134.0L466.7 145.9L472.1 148.9L477.8 151.4L485.0 153.9L493.7 156.4L504.5 158.9L512.9 160.4L522.5 161.5L545.5 162.3L545.5 173.6L542.0 173.5L537.0 173.7L502.0 176.4L426.8 183.9L419.3 184.9L409.5 186.8L402.5 189.0Z" fill="#f8f8f8"/>
<path d="M401.5 188.4L399.0 188.2L397.0 187.0L395.7 184.9L394.9 181.4L394.6 176.9L394.6 168.4L395.7 147.9L396.2 143.4L397.2 138.4L397.7 131.9L398.4 127.9L398.8 126.9L400.3 124.9L402.2 116.4L403.6 111.9L405.0 109.6L406.5 108.7L408.0 108.8L409.7 109.9L411.3 111.4L413.4 114.4L414.5 115.4L416.5 116.4L425.5 119.7L432.0 123.2L450.0 134.6L466.1 146.4L471.5 149.4L477.1 151.9L484.1 154.4L492.7 156.9L500.9 158.9L511.4 160.9L522.5 162.2L545.5 163.1L545.5 172.9L542.0 172.7L537.5 172.9L505.0 175.4L429.3 182.9L420.9 183.9L410.0 185.9L403.5 188.0L401.5 188.4Z" fill="#f6f6f6"/>
<path d="M401.5 187.9L399.0 187.7L397.5 186.7L396.3 184.9L395.5 181.4L395.1 176.9L395.1 168.4L396.2 147.4L396.7 142.9L397.5 138.9L397.9 132.4L398.6 127.9L399.1 126.9L400.5 125.6L400.9 124.9L402.8 116.4L404.3 111.9L405.5 110.0L406.5 109.4L408.0 109.5L409.3 110.4L410.9 111.9L413.0 114.9L414.5 116.1L416.5 117.0L425.0 120.2L431.0 123.3L439.0 128.2L450.0 135.3L466.0 147.1L471.1 149.9L477.0 152.5L484.0 155.0L493.0 157.6L501.0 159.6L511.0 161.5L517.5 162.4L522.5 162.9L545.5 163.7L545.5 172.2L542.0 172.1L537.0 172.3L504.5 174.8L428.5 182.4L420.4 183.4L409.9 185.4L403.0 187.6L401.5 187.9Z" fill="#f3f3f3"/>
<path d="M402.0 187.5L400.5 187.6L399.5 187.4L397.8 186.4L396.5 184.4L395.9 181.4L395.5 176.9L395.5 167.9L396.6 146.9L397.2 141.4L397.8 138.9L398.1 131.9L398.8 127.9L399.5 126.7L400.9 125.9L401.2 125.4L403.1 117.4L404.5 113.0L405.5 110.9L406.0 110.4L407.0 110.0L408.0 110.2L409.5 111.4L410.5 112.4L412.2 114.9L414.0 116.5L416.5 117.7L425.1 120.9L430.8 123.9L449.0 135.4L462.0 145.0L466.0 147.8L471.0 150.5L477.0 153.1L484.0 155.7L494.0 158.6L502.5 160.6L510.5 162.1L517.5 163.2L522.5 163.6L545.5 164.4L545.5 171.5L542.0 171.4L536.0 171.6L503.5 174.2L428.5 181.9L420.5 182.9L409.5 185.0L402.0 187.5Z" fill="#f1f1f1"/>
<path d="M403.0 186.9L400.5 187.3L398.5 186.6L397.1 184.9L396.3 181.9L395.8 177.4L395.8 170.9L396.7 148.4L397.2 142.9L398.0 138.6L398.3 131.9L398.9 127.9L399.5 126.9L401.0 126.3L401.4 125.9L404.5 115.2L406.0 111.8L407.0 111.0L408.0 111.3L409.0 112.0L412.0 115.7L414.0 117.3L416.0 118.2L424.3 121.4L430.0 124.4L449.0 136.4L464.5 147.6L469.0 150.2L474.0 152.6L481.5 155.6L489.0 158.2L497.0 160.7L504.5 162.6L517.0 165.3L522.0 166.0L535.0 167.3L536.5 167.9L535.0 168.4L531.9 168.9L478.0 175.9L423.0 182.1L409.0 184.8L403.0 186.9Z" fill="#ececec"/>
<path d="M402.0 186.9L400.0 186.9L399.0 186.6L398.1 185.9L397.0 183.9L396.4 180.9L396.1 175.9L396.1 167.9L397.1 145.9L397.7 140.9L398.1 138.9L398.4 132.4L399.1 127.9L400.0 126.8L401.5 126.4L404.5 117.4L406.5 113.6L407.5 113.0L408.5 113.4L411.4 116.4L413.5 118.0L416.0 119.3L423.6 122.4L429.9 125.9L448.5 137.5L460.4 145.9L465.5 149.2L471.0 152.1L484.9 158.4L500.4 166.4L501.1 166.9L501.4 167.4L501.0 167.9L499.9 168.4L493.5 170.4L485.5 172.6L477.5 174.4L465.5 176.4L442.0 179.1L421.5 181.9L409.0 184.4L402.0 186.9Z" fill="#e5e5e7"/>
<path d="M403.0 186.5L400.5 186.8L399.5 186.5L398.5 185.9L397.3 183.9L396.7 181.4L396.3 176.9L396.3 169.4L397.2 147.4L397.8 141.4L398.3 138.9L398.5 132.4L399.2 127.9L400.0 127.0L401.5 126.9L401.9 126.4L403.5 121.6L404.5 119.2L406.0 116.8L407.5 115.3L408.5 115.4L411.6 117.9L414.0 119.4L422.5 123.4L427.8 126.4L447.5 138.6L459.3 146.4L464.9 149.9L469.5 152.4L477.5 156.0L481.0 157.9L486.3 161.9L490.2 165.4L490.9 166.4L490.8 166.9L489.5 167.9L484.5 170.2L479.0 172.1L472.3 173.9L464.0 175.5L443.5 178.1L421.5 181.5L409.0 184.1L403.0 186.5Z" fill="#dfdfe1"/>
<path d="M402.5 186.4L400.5 186.6L399.5 186.3L398.5 185.6L397.5 183.9L396.8 180.9L396.5 176.4L396.5 168.9L397.4 146.9L397.9 141.4L398.4 138.9L398.6 132.4L399.3 127.9L400.0 127.1L401.5 127.3L402.0 127.0L404.5 120.5L406.0 118.4L407.5 117.2L408.0 117.1L409.0 117.4L414.0 120.7L424.5 126.1L463.0 149.9L468.5 152.9L478.5 157.8L480.1 158.9L482.1 160.9L483.6 162.9L484.9 165.4L484.9 166.4L484.5 166.9L481.0 169.0L475.3 171.4L469.0 173.3L462.0 174.7L442.0 177.4L421.0 181.2L409.0 183.8L402.5 186.4Z" fill="#d9d9db"/>
<path d="M401.5 186.4L399.5 186.1L398.6 185.4L398.0 184.4L397.1 181.4L396.8 177.4L396.6 170.4L396.9 160.4L397.7 144.4L398.5 138.9L398.7 132.4L399.5 127.8L400.0 127.3L400.5 127.2L401.5 127.6L402.1 127.4L404.0 122.7L405.0 120.8L406.0 119.6L407.5 118.7L408.5 118.6L410.0 119.3L414.0 121.9L422.9 126.9L436.6 135.4L458.3 148.4L467.5 153.4L476.7 157.9L479.2 159.9L480.2 161.4L480.8 162.9L481.1 165.4L479.9 166.9L477.6 168.4L475.0 169.7L468.0 172.3L461.5 173.7L442.5 176.5L421.5 180.7L409.5 183.4L403.5 185.9L401.5 186.4Z" fill="#d2d2d5"/>
<path d="M403.0 185.9L401.5 186.3L400.5 186.2L399.0 185.5L398.0 183.9L397.3 180.9L396.9 176.4L396.8 168.9L397.7 147.4L398.2 141.4L398.6 138.9L398.8 132.4L399.5 128.2L400.0 127.5L400.5 127.4L402.0 127.9L402.5 127.4L405.0 121.8L406.0 120.6L407.0 120.0L408.0 119.8L409.5 120.2L432.8 134.9L450.6 145.4L467.0 154.2L475.5 158.3L477.5 159.9L478.4 161.4L478.7 162.9L478.5 164.4L478.0 165.4L477.0 166.4L472.5 169.1L466.6 171.4L460.5 172.8L444.0 175.3L421.5 180.2L409.5 183.1L403.0 185.9Z" fill="#cccccf"/>
<path d="M402.5 185.9L400.5 186.0L399.0 185.2L398.0 183.4L397.4 180.4L397.1 175.4L397.0 166.4L397.9 145.4L398.3 141.4L398.8 138.9L398.9 132.4L399.5 128.4L400.0 127.7L400.5 127.6L402.0 128.3L402.5 128.0L405.0 122.9L406.0 121.6L407.0 121.0L408.0 120.9L409.5 121.5L428.0 133.7L436.0 138.6L452.0 147.7L474.2 158.9L476.0 160.2L476.8 161.4L476.9 162.4L476.5 163.7L475.6 164.9L474.5 165.8L470.3 168.4L465.5 170.4L459.0 171.9L445.0 174.2L434.0 176.7L409.5 182.8L402.5 185.9Z" fill="#c5c5ca"/>
<path d="M401.5 185.9L400.5 185.8L399.6 185.4L398.4 183.9L397.7 180.9L397.3 176.4L397.2 167.9L397.5 157.4L398.2 143.9L398.9 138.9L399.0 132.4L399.6 128.9L400.0 127.9L400.5 127.8L402.0 128.6L402.6 128.4L403.4 127.4L405.5 123.7L407.0 122.3L408.0 122.3L409.0 122.7L434.0 139.2L444.5 145.5L461.3 154.9L471.2 160.9L472.3 161.9L472.4 162.4L471.7 163.4L469.1 165.4L465.7 167.4L462.0 168.9L456.5 170.4L442.0 173.7L410.0 182.4L408.0 183.1L403.5 185.4L401.5 185.9Z" fill="#c2c2c9"/>
<path d="M403.0 185.4L401.0 185.7L400.0 185.4L399.3 184.9L398.3 182.9L397.8 179.9L397.4 173.9L397.4 165.4L398.3 143.9L399.0 138.9L399.2 132.4L399.9 128.4L400.5 128.0L401.5 128.7L402.5 128.8L403.2 128.4L407.0 124.3L408.0 124.1L409.5 124.9L436.5 142.8L453.6 153.4L460.4 158.4L463.9 161.4L464.5 162.4L464.1 163.4L461.9 164.9L459.0 166.4L454.2 168.4L427.7 176.9L409.5 182.2L403.0 185.4Z" fill="#bfbfc8"/>
<path d="M402.5 185.4L401.5 185.6L400.4 185.4L399.6 184.9L398.9 183.9L398.1 180.9L397.7 175.9L397.6 164.9L398.0 151.4L398.5 143.2L399.1 138.9L399.3 132.4L399.9 128.9L400.2 128.4L400.5 128.3L401.5 129.0L402.5 129.2L407.5 126.2L408.5 126.2L409.5 126.7L417.9 131.9L440.5 147.6L450.2 153.9L454.4 157.4L457.8 161.4L457.8 162.4L455.4 164.4L451.4 166.9L447.3 168.9L428.5 175.9L415.0 180.4L409.5 181.9L402.5 185.4Z" fill="#bcbcc7"/>
<path d="M401.5 185.4L400.0 184.9L399.0 183.4L398.3 180.9L397.9 175.9L397.7 165.9L398.0 155.7L398.7 143.4L399.3 138.9L399.5 131.9L400.0 129.1L400.5 128.6L401.5 129.3L402.5 129.5L407.5 128.2L408.5 128.1L411.5 129.5L418.0 133.6L440.0 149.6L447.2 154.4L449.5 156.4L451.4 158.4L452.7 160.4L452.9 161.4L452.0 162.9L449.4 165.4L447.2 166.9L444.0 168.6L427.7 175.4L415.3 179.9L409.5 181.6L403.5 184.9L401.5 185.4Z" fill="#bbbbc9"/>
<path d="M402.5 185.0L401.5 185.2L400.4 184.9L399.5 183.9L399.0 182.9L398.3 178.9L398.0 173.3L398.0 162.4L398.5 148.7L399.0 141.4L399.5 138.9L399.6 132.4L400.5 129.0L401.5 129.6L402.5 129.8L407.0 129.8L409.0 130.0L411.5 131.2L416.0 133.9L421.7 137.9L439.0 151.2L445.5 155.8L447.2 157.4L448.4 158.9L448.9 159.9L449.1 160.9L448.6 162.4L447.0 164.6L445.0 166.2L442.1 167.9L427.0 174.9L415.6 179.4L409.0 181.5L404.1 184.4L402.5 185.0Z" fill="#bcbccc"/>
<path d="M402.0 184.9L401.0 184.9L400.2 184.4L399.6 183.4L399.1 181.9L398.5 177.9L398.2 171.9L398.5 152.4L399.0 143.9L399.7 138.9L399.9 132.4L400.5 129.7L402.0 130.2L406.5 130.9L409.5 131.8L416.6 135.9L423.3 140.9L438.0 152.9L443.5 156.9L445.5 158.9L446.0 159.9L446.2 160.9L445.7 162.9L444.5 164.4L442.6 165.9L439.3 167.9L427.4 173.9L415.8 178.9L409.0 181.2L404.5 183.9L402.0 184.9Z" fill="#bcbccf"/>
<path d="M402.5 184.5L401.5 184.6L400.8 184.4L400.0 183.5L399.5 182.3L398.8 177.9L398.5 171.9L398.5 159.2L399.0 148.3L399.5 141.7L400.0 139.4L400.3 132.4L400.5 131.3L401.0 130.5L405.7 131.9L409.2 133.4L413.8 135.9L417.6 138.4L426.5 145.4L436.5 154.1L442.0 158.4L443.4 159.9L443.8 161.4L443.3 162.9L441.3 164.9L431.4 170.9L417.2 177.9L408.5 181.1L404.0 183.9L402.5 184.5Z" fill="#b9b9cf"/>
<path d="M403.0 184.0L402.0 184.2L400.9 183.9L400.0 182.4L399.6 180.9L399.0 176.4L398.7 164.9L399.0 152.9L400.0 143.6L401.7 134.9L402.0 134.1L403.0 133.8L406.5 134.9L412.0 137.3L416.0 139.6L420.0 142.3L425.2 146.4L429.9 150.4L440.0 159.9L440.9 161.4L440.8 161.9L440.0 162.9L437.8 164.9L432.2 168.9L428.3 171.4L418.4 176.9L414.5 178.7L408.5 180.7L403.0 184.0Z" fill="#b4b4cd"/>
<path d="M403.0 183.4L402.0 183.6L400.9 182.9L400.0 180.9L399.5 178.0L399.1 167.4L399.3 154.4L399.6 150.4L400.5 146.9L403.6 138.9L404.2 137.9L405.0 137.5L408.5 138.5L413.5 140.6L417.5 142.8L422.0 145.9L426.3 149.4L430.6 153.4L436.5 159.9L437.3 161.4L436.9 162.4L436.0 163.4L431.8 167.4L428.5 169.9L421.8 174.4L416.5 177.4L413.5 178.7L408.5 180.4L403.0 183.4Z" fill="#afafcc"/>
<path d="M404.0 182.4L402.5 182.8L401.5 182.4L400.6 180.9L400.0 178.4L399.6 173.9L399.5 167.9L399.9 153.4L400.3 150.4L401.5 147.7L405.5 141.8L406.0 141.3L407.0 140.9L410.5 141.8L415.0 143.7L418.5 145.6L422.5 148.4L426.1 151.4L430.1 155.4L433.2 159.4L433.8 160.4L434.1 161.4L433.1 163.4L430.1 166.9L427.2 169.4L420.0 174.9L415.7 177.4L408.5 180.0L404.0 182.4Z" fill="#a6a6c8"/>
<path d="M403.5 182.0L402.5 182.0L401.5 181.2L400.7 179.4L400.3 176.9L400.0 165.4L400.5 152.4L401.4 149.9L403.5 147.4L407.0 144.5L408.0 144.0L409.0 144.0L412.5 144.9L416.0 146.3L419.0 148.0L422.5 150.4L425.8 153.4L429.0 156.9L431.0 159.9L431.4 161.4L430.4 163.9L428.5 166.4L419.2 174.9L415.0 177.3L408.0 179.8L403.5 182.0Z" fill="#9090bd"/>
<path d="M404.5 181.1L403.0 181.3L402.0 180.8L401.2 179.4L400.7 176.9L400.4 171.4L400.4 164.9L401.2 152.4L402.0 150.5L405.0 148.3L409.0 146.7L411.0 146.8L414.0 147.6L416.5 148.6L419.5 150.3L422.4 152.4L425.0 154.9L427.5 157.9L428.9 160.4L429.1 161.9L428.2 164.4L426.8 166.4L420.6 172.9L418.4 174.9L415.0 176.9L407.9 179.4L404.5 181.1Z" fill="#7474b0"/>
<path d="M404.5 180.6L403.0 180.7L402.0 179.9L401.4 178.4L401.0 175.9L400.8 170.9L400.8 164.4L401.3 155.9L401.8 152.4L402.3 151.4L403.0 150.8L405.0 149.8L406.5 149.4L410.5 148.9L414.5 149.7L417.0 150.7L419.5 152.2L421.7 153.9L423.7 155.9L425.7 158.4L426.9 160.4L427.1 161.9L426.9 163.4L426.2 164.9L425.2 166.4L419.8 172.9L417.6 174.9L414.2 176.9L408.0 179.0L404.5 180.6Z" fill="#404095"/>
<path d="M405.0 179.9L403.5 180.2L402.5 179.6L401.7 177.9L401.3 174.9L401.1 169.9L401.1 163.4L401.8 155.9L402.3 152.9L402.9 151.9L403.5 151.4L405.0 150.7L406.5 150.4L411.0 150.3L415.0 151.1L417.0 152.0L419.0 153.3L422.3 156.4L423.9 158.4L425.1 160.4L425.5 161.9L425.4 163.4L424.4 165.4L420.1 171.4L417.5 174.4L414.0 176.5L405.0 179.9Z" fill="#31308b"/>
<path d="M405.0 179.5L403.5 179.7L402.6 178.9L401.9 176.9L401.5 174.4L401.3 169.4L401.4 163.4L402.2 156.9L402.8 153.4L403.4 152.4L404.0 151.9L406.5 151.1L411.0 151.1L414.5 151.7L417.6 153.4L420.9 156.4L422.7 158.9L423.8 160.9L424.1 162.4L423.9 163.4L422.9 165.4L419.2 171.4L416.6 174.4L413.2 176.4L405.0 179.5Z" fill="#292783"/>
<path d="M405.5 179.0L404.0 179.3L403.0 178.8L402.2 176.9L401.7 173.9L401.5 168.9L401.7 163.4L402.1 159.4L403.1 154.4L404.0 152.8L405.0 152.2L406.5 151.7L410.5 151.6L414.0 152.2L415.5 152.9L417.1 153.9L420.0 156.9L422.3 160.9L422.6 162.4L422.4 163.4L418.6 170.9L416.3 173.9L413.0 176.0L405.5 179.0Z" fill="#221e7c"/>
<path d="M406.0 178.6L404.5 178.9L403.3 178.4L402.5 176.9L402.0 173.9L401.7 168.9L401.9 163.4L402.4 159.9L403.4 155.4L404.3 153.4L406.0 152.4L409.5 152.1L413.5 152.7L416.0 153.9L417.6 155.4L418.8 156.9L420.8 160.9L421.1 162.4L420.9 163.4L418.3 169.9L417.1 171.9L415.9 173.4L414.5 174.5L412.5 175.7L406.0 178.6Z" fill="#1a1574"/>
<path d="M405.5 178.5L404.0 178.4L403.3 177.9L402.6 176.4L402.1 173.4L401.9 168.4L402.1 163.4L402.6 159.9L403.5 156.4L404.7 153.9L406.5 152.9L410.0 152.7L413.5 153.3L415.0 154.0L416.6 155.4L417.8 156.9L418.8 158.9L419.5 160.9L419.7 162.4L418.7 166.4L416.9 170.9L415.0 173.4L411.3 175.9L408.0 177.5L405.5 178.5Z" fill="#371165"/>
<path d="M406.5 177.9L405.0 178.3L404.0 178.1L403.1 176.9L402.6 175.4L402.2 171.9L402.1 166.9L402.4 162.9L403.0 159.4L404.5 155.2L405.1 154.4L406.0 153.7L407.5 153.3L409.0 153.2L413.0 153.7L414.5 154.3L415.8 155.4L416.8 156.9L417.7 158.9L418.3 162.4L417.3 167.9L416.2 170.9L414.2 173.4L411.0 175.7L406.5 177.9Z" fill="#5a0d54"/>
<path d="M405.5 178.0L404.5 177.9L403.5 177.2L402.9 175.9L402.4 173.4L402.3 169.4L402.4 164.4L402.8 161.4L403.5 158.9L404.6 155.9L406.0 154.3L407.0 153.9L408.5 153.7L411.0 153.8L413.0 154.2L414.5 154.9L415.6 155.9L416.7 157.9L417.1 159.4L417.3 163.4L416.4 168.9L415.3 171.4L413.0 173.9L409.0 176.5L405.5 178.0Z" fill="#7c0a44"/>
<path d="M406.5 177.5L405.0 177.8L404.0 177.4L403.3 176.4L402.7 174.4L402.4 170.9L402.5 166.4L402.8 162.9L403.4 159.9L405.0 156.0L405.5 155.3L406.5 154.5L409.0 154.1L413.0 154.6L414.0 155.0L415.1 155.9L416.0 157.4L416.6 159.4L416.8 163.4L415.9 168.9L414.8 171.4L413.1 173.4L410.0 175.7L406.5 177.5Z" fill="#960b36"/>
<path d="M406.0 177.4L405.0 177.5L404.0 177.1L403.3 175.9L402.8 173.9L402.6 170.4L402.7 165.9L403.0 162.8L403.7 159.9L405.2 156.4L406.5 155.0L409.0 154.5L413.0 154.9L414.0 155.3L415.1 156.4L415.9 157.9L416.3 159.4L416.3 164.4L415.3 169.4L414.0 171.9L412.1 173.9L409.0 176.1L406.0 177.4Z" fill="#af0b29"/>
<path d="M407.0 176.9L405.5 177.3L404.5 177.2L403.7 176.4L403.1 174.9L402.8 171.9L402.7 167.9L403.1 163.9L403.6 160.9L405.0 157.3L405.9 155.9L406.5 155.4L407.5 155.0L409.0 154.9L413.0 155.2L414.0 155.7L415.0 156.7L415.6 157.9L416.0 159.4L416.1 163.4L415.3 168.4L414.3 170.9L412.8 172.9L410.0 175.2L407.0 176.9Z" fill="#c90c1b"/>
<path d="M406.5 176.9L405.5 177.1L404.5 176.9L403.7 175.9L403.1 173.9L402.9 170.9L402.9 166.9L403.3 163.4L404.0 160.5L405.3 157.4L406.5 155.8L407.5 155.4L409.0 155.2L411.5 155.3L413.0 155.5L414.0 156.0L414.8 156.9L415.7 159.4L415.8 163.9L414.8 168.9L413.6 171.4L411.9 173.4L409.4 175.4L406.5 176.9Z" fill="#d30d16"/>
<path d="M405.5 176.9L404.5 176.7L403.8 175.9L403.3 174.4L403.0 171.9L403.2 165.4L403.7 162.4L404.5 159.9L406.0 156.9L407.0 156.0L410.0 155.6L413.0 155.8L414.5 156.9L415.1 157.9L415.5 159.9L415.4 164.4L414.5 168.9L413.3 171.4L411.0 173.9L408.0 176.0L405.5 176.9Z" fill="#da0f12"/>
<path d="M406.5 176.5L405.5 176.7L404.5 176.4L403.8 175.4L403.3 173.4L403.1 170.4L403.3 166.9L403.7 163.9L404.4 160.9L405.5 158.3L407.0 156.4L410.0 155.9L413.0 156.2L414.0 156.8L414.5 157.4L415.2 159.9L415.2 163.9L414.3 168.4L413.2 170.9L411.7 172.9L409.4 174.9L406.5 176.5Z" fill="#e1110e"/>
<path d="M406.0 176.5L405.0 176.5L404.0 175.5L403.3 172.4L403.5 166.4L404.7 160.9L406.0 158.1L407.1 156.9L408.0 156.6L410.0 156.3L413.0 156.6L414.0 157.3L414.4 157.9L415.0 160.4L414.9 164.4L414.0 168.4L412.8 170.9L410.8 173.4L408.3 175.4L406.0 176.5Z" fill="#e81e0a"/>
<path d="M407.0 175.9L406.0 176.3L405.0 176.2L404.2 175.4L403.7 173.9L403.4 171.4L403.5 167.9L403.9 164.9L404.5 162.2L405.5 159.6L406.5 158.1L407.2 157.4L409.0 156.9L412.5 156.9L413.5 157.4L413.9 157.9L414.6 159.9L414.7 163.4L413.9 167.4L413.0 169.9L411.4 172.4L409.4 174.4L407.0 175.9Z" fill="#f03507"/>
<path d="M406.5 175.9L405.5 176.1L404.5 175.6L404.0 174.6L403.7 172.9L403.7 167.4L404.1 164.9L404.9 161.9L406.0 159.5L407.5 157.8L410.0 157.4L412.5 157.6L413.1 157.9L413.8 158.9L414.3 161.4L414.2 164.4L413.5 167.5L412.2 170.4L410.5 172.9L408.4 174.9L406.5 175.9Z" fill="#f84c03"/>
<path d="M407.0 175.5L406.0 175.8L405.0 175.7L404.5 175.2L404.0 173.9L403.8 168.4L404.5 163.9L405.8 160.4L407.5 158.5L409.5 158.0L412.0 158.1L413.0 158.9L413.9 161.4L413.9 163.9L413.4 166.4L412.3 169.4L410.8 171.9L409.2 173.9L407.0 175.5Z" fill="#ff6300"/>
<path d="M406.5 175.4L405.5 175.6L405.0 175.4L404.5 174.8L404.1 172.9L404.0 167.9L404.9 163.4L406.0 160.8L407.5 159.2L409.0 158.6L411.5 158.7L412.5 159.4L413.4 161.4L413.5 163.9L413.0 166.3L411.8 169.4L410.0 172.4L408.2 174.4L406.5 175.4Z" fill="#ff7e00"/>
<path d="M406.5 175.1L405.5 175.2L405.0 175.0L404.4 173.4L404.2 168.4L405.0 164.0L406.0 161.5L407.5 159.8L409.0 159.2L411.0 159.3L412.1 159.9L413.0 161.8L413.1 163.9L412.6 165.9L411.5 168.9L409.5 172.4L408.0 174.1L406.5 175.1Z" fill="#ff9900"/>
<path d="M407.0 174.4L406.0 174.8L405.5 174.8L405.0 174.4L404.8 173.9L404.5 172.3L404.4 169.4L404.8 165.9L406.0 162.4L407.0 161.0L408.5 160.0L410.5 159.9L411.5 160.4L412.2 161.4L412.6 162.9L412.5 164.4L411.5 167.5L410.0 170.7L408.5 173.0L407.0 174.4Z" fill="#ffb400"/>
<path d="M406.5 174.0L405.5 174.0L405.0 172.8L404.7 168.9L405.0 166.2L406.0 163.5L407.1 161.9L408.5 161.0L410.2 160.9L411.1 161.4L411.7 162.4L411.8 163.9L411.5 165.5L410.5 168.4L409.0 171.2L407.5 173.3L406.5 174.0Z" fill="#ffc200"/>
<path d="M406.5 172.5L406.0 172.4L405.7 171.9L405.2 170.4L405.0 168.4L405.2 166.9L406.0 165.0L407.0 163.6L408.5 162.5L409.5 162.4L410.2 162.9L410.5 163.9L410.0 167.4L408.5 170.6L407.5 171.9L406.5 172.5Z" fill="#ffce00"/>
<path d="M407.0 170.6L406.3 170.4L405.6 169.4L405.4 168.4L405.5 167.4L406.5 165.7L407.5 165.0L408.5 164.8L409.0 165.9L408.9 167.9L408.0 169.8L407.0 170.6Z" fill="#ffd904"/>
<path d="M407.0 169.2L406.4 168.9L406.0 167.9L406.5 167.1L407.5 166.8L407.9 167.4L407.9 167.9L407.5 168.9L407.0 169.2Z" fill="#ffe21a"/>
</g></g>
<path d="M394.5 162.8H544.4" stroke="#ff2a2a" stroke-width="1.3" stroke-dasharray="2.8 2.65" fill="none"/>
<path d="M399.9 137.4L452.4 18.4M417.4 184.3L544.4 130.8" stroke="#ff0000" stroke-width="1.45" fill="none"/>
<rect x="399.9" y="137.7" width="17.5" height="46.6" stroke="#ff0000" stroke-width="1.75" fill="none"/>
<rect x="452.4" y="18.4" width="92.0" height="112.4" fill="#fff" stroke="#5a5a5a" stroke-width="1.0"/>
<g clip-path="url(#cj2)"><rect x="459.8" y="30.2" width="72.8" height="85.8" fill="#00009c"/><g filter="url(#bl2)">
<path d="M534.8 118.2L457.8 118.2L457.8 61.3L458.8 60.2L461.9 54.7L465.0 50.2L468.4 46.2L472.3 42.6L475.8 39.9L479.8 37.3L487.3 33.5L494.3 30.9L505.3 28.2L534.8 28.2L534.8 118.2Z" fill="#0000b7"/>
<path d="M470.3 118.2L464.0 118.2L463.9 106.7L464.5 94.2L465.5 87.7L466.6 82.7L468.0 76.7L469.6 71.7L471.0 68.2L473.0 64.2L476.6 58.7L479.8 55.2L483.8 52.0L489.8 48.3L495.3 45.9L499.8 44.5L504.3 43.5L516.3 42.2L519.6 41.2L526.8 38.4L529.3 37.7L531.8 37.5L534.8 37.8L534.8 108.8L531.8 109.6L529.3 109.7L525.8 109.5L519.3 108.7L515.2 108.7L487.3 115.0L483.8 115.6L473.3 116.5L471.4 117.2L470.3 118.2Z" fill="#0000d2"/>
<path d="M467.8 115.8L467.3 115.6L467.0 115.2L466.6 113.7L465.8 103.7L466.0 95.7L467.1 88.2L470.0 77.2L472.0 71.2L475.3 64.7L477.3 61.8L479.4 59.2L482.8 55.9L487.8 52.5L493.3 49.6L498.3 47.7L501.8 46.8L505.3 46.2L515.3 45.6L518.0 45.2L521.3 44.3L527.8 42.1L530.3 41.5L532.3 41.5L534.8 42.5L534.8 107.2L530.3 108.0L519.8 107.2L515.8 107.3L487.3 113.5L482.8 114.0L472.8 114.3L470.8 114.7L467.8 115.8Z" fill="#0000ed"/>
<path d="M486.3 112.8L481.3 113.1L469.8 112.7L468.8 112.2L468.5 111.7L467.8 109.1L467.0 103.7L466.8 98.7L467.1 93.7L468.0 88.7L469.0 84.7L472.6 73.7L474.8 68.8L477.3 64.7L480.8 60.3L484.3 57.2L490.8 53.2L496.8 50.4L500.3 49.4L503.8 48.7L508.3 48.3L518.8 48.0L521.8 47.5L529.3 45.4L530.8 45.3L531.7 45.7L533.8 48.3L534.8 49.1L534.8 106.4L530.8 106.9L519.8 106.4L515.3 106.7L491.3 111.9L486.3 112.8Z" fill="#000aff"/>
<path d="M483.8 112.2L477.8 111.8L472.3 111.0L470.8 110.5L470.0 109.7L469.3 108.1L468.4 104.7L467.8 101.2L467.7 97.7L467.9 94.2L468.5 90.2L469.5 86.2L474.3 73.2L476.3 69.2L478.8 65.4L482.3 61.4L485.8 58.5L492.8 54.4L498.8 52.0L502.3 51.2L505.3 50.8L509.3 50.7L519.3 51.0L522.0 50.7L527.8 49.3L528.8 49.3L529.8 49.7L533.8 53.5L534.8 54.1L534.8 105.7L531.8 106.0L525.8 105.7L516.3 106.0L490.3 111.4L483.8 112.2Z" fill="#0029ff"/>
<path d="M487.3 111.2L483.8 111.4L480.3 111.1L475.7 110.2L472.3 109.0L471.3 108.1L470.3 106.2L469.2 103.2L468.7 100.2L468.5 97.2L468.7 93.7L469.5 89.7L470.5 86.2L476.1 72.7L478.5 68.7L481.3 65.1L485.3 61.2L491.3 57.6L497.3 54.7L502.8 53.3L508.3 53.0L520.3 54.0L526.8 53.2L528.8 53.9L534.8 57.0L534.8 105.1L531.8 105.2L526.3 104.7L516.8 105.3L495.8 109.7L487.3 111.2Z" fill="#0047ff"/>
<path d="M489.8 110.2L485.8 110.7L482.3 110.5L477.8 109.6L474.3 108.2L472.8 107.2L471.7 105.7L470.3 102.9L469.6 100.2L469.3 97.2L469.5 94.2L470.1 90.7L471.0 87.2L477.3 73.5L479.3 70.2L481.8 67.1L485.8 63.2L491.3 59.9L497.3 57.0L500.3 56.0L502.8 55.5L505.3 55.3L508.3 55.4L519.8 57.0L525.8 56.9L530.3 57.6L534.8 59.0L534.8 104.4L532.3 104.3L526.8 103.6L518.3 104.5L513.3 105.3L489.8 110.2Z" fill="#0066ff"/>
<path d="M488.8 109.7L485.3 110.0L482.3 109.8L478.8 108.9L475.3 107.3L473.8 106.2L472.1 104.2L470.9 101.7L470.2 99.2L470.0 96.7L470.3 93.7L471.0 90.2L471.9 87.2L478.4 74.2L480.3 71.3L482.4 68.7L485.8 65.5L488.8 63.5L496.8 59.4L499.8 58.3L502.3 57.7L504.8 57.5L507.8 57.7L519.8 59.9L529.8 59.8L534.8 60.6L534.8 103.5L528.3 102.5L525.3 102.6L514.3 104.4L496.9 108.2L488.8 109.7Z" fill="#0085ff"/>
<path d="M487.3 109.3L484.3 109.3L481.3 108.9L478.3 107.9L475.3 106.3L473.6 104.7L472.2 102.7L471.2 100.2L470.8 97.7L470.8 95.2L471.1 92.7L472.7 87.2L479.3 74.7L481.3 71.9L483.8 69.2L486.8 66.6L490.3 64.5L497.8 61.1L500.3 60.2L502.8 59.7L505.3 59.6L507.8 59.8L520.3 62.3L530.3 62.2L532.3 62.4L534.8 63.0L534.8 101.4L529.3 100.5L525.8 100.7L498.0 107.2L487.3 109.3Z" fill="#00a3ff"/>
<path d="M486.3 108.7L483.3 108.6L480.8 108.1L477.8 106.9L475.3 105.4L473.6 103.7L472.4 101.7L471.7 99.7L471.4 97.2L471.4 94.7L471.9 92.2L473.4 87.2L479.8 75.6L481.8 72.8L484.3 70.3L487.8 67.5L491.3 65.6L498.3 62.8L500.8 62.1L503.3 61.7L505.8 61.6L508.3 61.9L520.3 64.3L530.3 65.0L531.8 65.3L533.2 66.2L534.8 68.7L534.8 91.0L533.3 95.7L532.8 96.7L531.8 97.3L528.3 97.5L525.3 98.1L510.7 102.7L498.3 106.2L489.8 108.2L486.3 108.7Z" fill="#00c2ff"/>
<path d="M488.8 107.7L485.8 108.1L482.8 108.0L480.3 107.3L477.3 106.0L475.3 104.6L473.7 102.7L472.6 100.7L472.0 98.2L472.0 95.7L472.3 93.2L473.0 90.2L473.9 87.7L480.1 76.7L481.8 74.3L483.8 72.2L487.3 69.4L490.8 67.4L498.3 64.7L503.3 63.6L506.3 63.7L509.8 64.2L518.8 66.1L528.3 67.6L529.8 68.1L530.8 68.7L531.5 70.2L532.1 73.2L532.5 76.7L532.5 80.2L532.1 84.2L531.3 89.2L530.6 92.2L529.8 93.5L507.4 102.2L497.3 105.5L488.8 107.7Z" fill="#00e0ff"/>
<path d="M487.8 107.2L485.3 107.6L482.8 107.4L480.1 106.7L477.3 105.3L475.3 103.8L474.0 102.2L473.1 100.2L472.6 98.2L472.5 96.2L472.8 93.7L473.5 90.7L474.3 88.2L480.3 77.7L481.8 75.6L483.8 73.5L487.3 70.9L491.3 68.8L498.3 66.5L503.3 65.6L505.8 65.6L508.8 66.0L519.4 68.2L524.9 69.7L527.3 70.6L528.3 71.2L528.9 72.2L529.4 74.2L529.7 77.2L529.7 80.2L529.3 83.7L528.5 87.7L527.9 89.7L527.1 90.7L518.1 95.7L508.5 100.2L497.3 104.4L487.8 107.2Z" fill="#00ffff"/>
<path d="M486.8 106.8L484.3 107.0L482.3 106.8L479.8 106.0L477.3 104.7L475.5 103.2L474.4 101.7L473.5 99.7L473.1 97.7L473.1 95.7L473.5 93.2L475.0 88.2L480.8 78.4L482.3 76.3L484.3 74.4L488.3 71.7L492.3 69.9L498.8 68.2L503.8 67.6L509.8 68.2L518.8 70.1L522.9 71.7L525.9 73.7L526.5 74.7L526.9 76.2L527.0 78.7L526.8 81.2L525.5 86.7L525.0 87.7L524.1 88.7L516.2 94.2L507.0 99.2L496.4 103.7L490.3 105.9L486.8 106.8Z" fill="#1fffe0"/>
<path d="M486.3 106.3L483.8 106.5L481.8 106.1L479.8 105.4L477.3 104.0L475.8 102.7L474.8 101.2L474.0 99.2L473.7 97.2L474.1 93.2L475.6 88.2L481.3 78.9L482.8 77.0L484.3 75.6L487.8 73.4L492.3 71.5L498.3 70.1L503.8 69.5L510.3 70.3L517.3 71.7L520.7 73.2L523.0 75.2L523.9 76.7L524.2 78.2L524.0 80.7L523.3 83.7L522.7 85.2L522.0 86.2L518.3 89.7L511.6 94.7L504.8 98.7L494.3 103.5L489.3 105.5L486.3 106.3Z" fill="#3dffc2"/>
<path d="M486.3 105.7L484.3 105.9L482.3 105.7L480.3 105.1L477.8 103.7L476.6 102.7L475.4 101.2L474.7 99.7L474.3 97.7L474.5 93.7L476.1 88.7L477.4 86.2L481.3 80.2L483.8 77.2L487.3 74.9L491.8 73.1L495.8 72.2L501.3 71.6L505.3 71.6L512.3 72.6L517.1 73.7L518.3 74.3L519.5 75.2L520.6 76.7L521.1 78.2L521.1 80.2L520.6 82.2L519.9 83.7L518.9 85.2L514.1 90.2L508.5 94.7L502.0 98.7L492.3 103.6L488.8 105.0L486.3 105.7Z" fill="#5cffa3"/>
<path d="M485.8 105.3L483.8 105.5L481.8 105.1L479.8 104.3L477.8 103.1L476.8 102.2L475.7 100.7L475.1 99.2L474.8 97.2L475.2 93.2L476.7 88.7L478.1 86.2L481.4 81.2L483.8 78.2L486.3 76.4L489.8 75.0L493.8 73.9L498.3 73.4L503.3 73.4L509.8 74.0L515.3 75.2L517.4 76.2L518.1 77.2L518.3 78.7L518.1 80.2L517.4 82.2L514.4 86.7L510.2 91.2L504.8 95.6L497.8 100.0L490.3 103.9L485.8 105.3Z" fill="#7aff85"/>
<path d="M486.3 104.8L484.3 105.0L482.8 104.9L480.8 104.3L478.8 103.2L477.3 102.0L476.3 100.7L475.7 99.2L475.3 97.2L475.7 93.2L477.3 88.7L478.7 86.2L482.2 81.2L484.3 78.7L486.8 77.1L489.8 75.9L493.8 75.0L497.8 74.6L502.3 74.6L509.3 75.3L513.8 76.3L515.8 77.2L516.4 78.2L516.4 79.2L515.8 81.2L514.6 83.7L512.2 87.2L508.0 91.7L502.8 96.0L496.8 100.0L491.3 103.0L488.8 104.0L486.3 104.8Z" fill="#99ff66"/>
<path d="M486.8 104.2L484.8 104.6L482.8 104.5L481.3 104.1L479.6 103.2L478.2 102.2L476.9 100.7L476.2 99.2L475.9 97.7L475.8 95.7L476.1 93.7L477.6 89.2L479.7 85.7L484.3 79.5L486.3 78.1L489.3 76.8L493.3 75.8L497.3 75.4L502.3 75.5L508.8 76.2L512.8 77.1L514.1 77.7L514.7 78.2L515.1 79.2L514.9 80.2L514.2 82.2L512.9 84.7L510.3 88.2L506.4 92.2L501.8 96.0L495.3 100.4L490.3 103.0L486.8 104.2Z" fill="#b8ff47"/>
<path d="M484.3 104.2L482.8 104.1L481.3 103.7L479.8 102.9L478.2 101.7L477.4 100.7L476.7 99.2L476.3 96.2L476.9 92.7L478.4 88.7L480.6 85.2L483.3 81.5L484.8 79.8L486.8 78.5L489.8 77.3L493.8 76.4L497.3 76.1L501.8 76.1L508.3 76.9L511.6 77.7L513.4 78.7L513.8 79.7L513.7 80.7L513.1 82.7L512.1 84.7L509.0 88.7L504.4 93.2L498.3 98.0L492.8 101.5L488.3 103.5L486.3 104.0L484.3 104.2Z" fill="#d6ff29"/>
<path d="M485.8 103.7L483.8 103.8L482.3 103.6L480.8 103.0L479.3 102.1L478.3 101.1L477.4 99.7L477.0 98.2L476.8 96.7L477.3 93.2L478.8 89.0L481.2 85.2L483.8 81.7L485.2 80.2L487.3 78.8L489.8 77.9L493.8 77.1L497.3 76.7L501.8 76.8L507.3 77.4L510.5 78.2L512.3 79.2L512.7 80.2L512.7 81.2L512.3 82.7L511.3 84.7L508.7 88.2L504.3 92.7L499.4 96.7L493.8 100.6L489.3 102.8L485.8 103.7Z" fill="#f5ff0a"/>
<path d="M486.8 103.3L483.3 103.4L481.8 103.1L480.3 102.3L478.9 101.2L478.2 100.2L477.6 98.7L477.3 97.2L477.6 93.7L479.0 89.7L481.1 86.2L485.3 80.8L486.9 79.7L489.3 78.7L493.3 77.8L496.8 77.4L501.3 77.4L506.8 78.0L509.6 78.7L511.3 79.7L511.7 80.7L511.7 81.7L511.3 83.2L510.6 84.7L507.9 88.2L504.1 92.2L499.5 96.2L494.7 99.7L490.3 102.1L486.8 103.3Z" fill="#ffeb00"/>
<path d="M487.8 102.7L485.8 103.1L483.8 103.1L482.3 102.8L480.8 102.2L479.5 101.2L478.7 100.2L477.9 97.7L478.0 94.2L479.3 90.2L481.4 86.7L485.3 81.6L487.1 80.2L489.3 79.3L492.8 78.5L496.8 78.0L500.8 78.0L506.3 78.6L508.8 79.2L510.4 80.2L510.8 81.2L510.8 82.2L509.8 84.7L507.6 87.7L503.9 91.7L499.5 95.7L495.0 99.2L491.3 101.3L487.8 102.7Z" fill="#ffcc00"/>
<path d="M486.3 102.7L482.8 102.5L481.3 102.0L480.3 101.4L479.3 100.3L478.8 99.3L478.3 96.7L478.7 93.2L480.1 89.7L482.3 86.2L485.8 81.9L487.4 80.7L489.8 79.8L493.3 79.0L496.8 78.7L500.7 78.7L505.8 79.3L508.3 79.9L509.6 80.7L509.9 81.2L510.0 82.2L509.8 83.2L509.1 84.7L506.4 88.2L501.7 93.2L497.7 96.7L493.7 99.7L489.8 101.7L486.3 102.7Z" fill="#ffad00"/>
<path d="M487.3 102.2L483.8 102.3L481.3 101.5L480.2 100.7L479.5 99.7L478.9 97.2L479.1 93.7L480.4 90.2L482.3 87.1L485.8 82.6L487.3 81.4L489.3 80.5L492.8 79.7L496.3 79.4L500.3 79.4L505.3 80.0L507.3 80.4L508.7 81.2L509.0 81.7L509.1 82.7L508.2 84.7L505.1 88.7L501.0 93.2L497.1 96.7L493.9 99.2L490.3 101.2L487.3 102.2Z" fill="#ff8f00"/>
<path d="M487.8 101.8L484.8 102.0L483.1 101.7L481.7 101.2L480.8 100.5L480.2 99.7L479.4 97.2L479.6 94.2L480.8 90.6L482.8 87.2L486.1 83.2L487.3 82.2L489.3 81.2L491.8 80.6L495.3 80.2L500.8 80.3L505.8 81.1L507.4 81.7L507.8 82.2L507.8 83.2L506.8 85.2L503.3 89.7L500.2 93.2L496.5 96.7L493.3 99.2L490.7 100.7L487.8 101.8Z" fill="#ff7000"/>
<path d="M488.3 101.3L485.3 101.5L482.3 100.8L480.9 99.7L480.1 97.7L480.1 94.7L480.9 91.7L482.7 88.2L485.3 85.0L486.8 83.4L488.3 82.4L490.3 81.7L493.3 81.2L496.3 81.0L499.2 81.2L502.8 82.0L504.8 82.8L505.4 83.7L504.7 85.7L502.1 89.7L499.2 93.2L496.3 96.2L493.4 98.7L490.9 100.2L488.3 101.3Z" fill="#ff5200"/>
<path d="M488.3 100.8L485.8 101.1L483.3 100.5L481.8 99.5L480.9 97.7L480.6 95.2L481.1 92.7L482.4 89.7L484.1 87.2L486.3 84.8L487.8 83.6L489.3 82.9L491.3 82.4L494.3 82.0L497.3 82.1L499.8 82.7L501.8 83.7L502.6 84.7L502.4 86.2L501.0 89.2L498.6 92.7L496.0 95.7L493.3 98.2L491.0 99.7L488.3 100.8Z" fill="#ff3300"/>
<path d="M488.3 100.3L486.3 100.5L484.3 100.1L482.7 99.2L481.7 97.7L481.3 95.7L481.5 93.7L482.4 91.2L483.8 88.6L486.8 85.3L488.3 84.2L489.8 83.6L492.3 83.1L495.3 83.0L497.3 83.3L499.3 84.2L500.3 85.2L500.4 86.7L499.6 89.2L497.9 92.2L495.5 95.2L493.0 97.7L490.8 99.2L488.3 100.3Z" fill="#ff1400"/>
<path d="M487.8 99.7L485.8 99.8L484.2 99.2L483.0 98.2L482.3 96.8L482.1 95.2L482.3 93.6L483.3 90.8L484.3 89.1L486.8 86.3L488.3 85.2L489.8 84.6L491.8 84.2L494.3 84.0L496.3 84.3L497.8 85.0L498.7 86.2L498.7 87.7L497.8 90.2L496.4 92.7L494.0 95.7L491.9 97.7L489.4 99.2L487.8 99.7Z" fill="#f50000"/>
<path d="M488.8 98.3L487.3 98.6L485.8 98.4L484.5 97.7L483.7 96.7L483.4 95.7L483.4 94.2L483.8 92.6L484.9 90.2L486.8 87.8L489.3 86.2L491.2 85.7L493.3 85.5L495.1 85.7L496.2 86.2L496.8 87.2L496.8 88.2L496.2 90.2L494.8 92.7L491.9 96.2L490.7 97.2L488.8 98.3Z" fill="#d60000"/>
<path d="M489.3 94.2L488.3 94.1L487.8 93.7L487.5 92.7L487.9 91.2L488.3 90.6L489.3 89.8L490.3 89.6L491.3 89.8L492.0 90.7L491.9 92.2L490.8 93.6L489.3 94.2Z" fill="#b80000"/>
</g>
<path d="M529.0 30.2V116.0M459.8 78.9H532.6" stroke="#fff" stroke-opacity="0.6" stroke-width="0.6" fill="none"/>
</g>
<circle cx="487.7" cy="95.4" r="1.5" fill="none" stroke="#fff" stroke-width="0.8"/>
<rect x="535.2" y="34.5" width="2.5" height="77.0" fill="url(#jetg)"/>
<text class="cb" x="540.0" y="112.4">0.0</text>
<text class="cb" x="540.0" y="97.6">0.2</text>
<text class="cb" x="540.0" y="82.8">0.4</text>
<text class="cb" x="540.0" y="68.0">0.6</text>
<text class="cb" x="540.0" y="53.2">0.8</text>
<text class="cb" x="540.0" y="38.4">1.0</text>
<rect x="394.5" y="18.4" width="149.9" height="171.0" fill="none" stroke="#858585" stroke-width="1.2"/>
<path d="M398.7 189.4v3.6M433.4 189.4v3.6M468.1 189.4v3.6M502.7 189.4v3.6M537.4 189.4v3.6M394.5 183.4h-2.6M394.5 151.6h-2.6M394.5 119.8h-2.6M394.5 88.0h-2.6M394.5 56.2h-2.6M394.5 24.4h-2.6" stroke="#858585" stroke-width="0.9" fill="none"/>
<text class="tk" x="398.7" y="206.2" text-anchor="middle" textLength="3.87" lengthAdjust="spacingAndGlyphs">0</text>
<text class="tk" x="433.4" y="206.2" text-anchor="middle" textLength="3.87" lengthAdjust="spacingAndGlyphs">2</text>
<text class="tk" x="468.1" y="206.2" text-anchor="middle" textLength="3.87" lengthAdjust="spacingAndGlyphs">4</text>
<text class="tk" x="502.7" y="206.2" text-anchor="middle" textLength="3.87" lengthAdjust="spacingAndGlyphs">6</text>
<text class="tk" x="537.4" y="206.2" text-anchor="middle" textLength="3.87" lengthAdjust="spacingAndGlyphs">8</text>
<text class="tk" x="385.2" y="186.9" text-anchor="end" textLength="3.87" lengthAdjust="spacingAndGlyphs">0</text>
<text class="tk" x="385.2" y="155.1" text-anchor="end" textLength="3.87" lengthAdjust="spacingAndGlyphs">2</text>
<text class="tk" x="385.2" y="123.3" text-anchor="end" textLength="3.87" lengthAdjust="spacingAndGlyphs">4</text>
<text class="tk" x="385.2" y="91.5" text-anchor="end" textLength="3.87" lengthAdjust="spacingAndGlyphs">6</text>
<text class="tk" x="385.2" y="59.7" text-anchor="end" textLength="3.87" lengthAdjust="spacingAndGlyphs">8</text>
<text class="tk" x="385.2" y="27.9" text-anchor="end" textLength="7.74" lengthAdjust="spacingAndGlyphs">10</text>
<text class="ax" x="469.4" y="215.4" text-anchor="middle" textLength="90.4" lengthAdjust="spacingAndGlyphs">Significant Wave Height (m)</text>
<text class="ax" transform="translate(375.5 104.1) scale(0.8 1) rotate(-90)" x="0" y="0" text-anchor="middle" font-size="7.5">PCF</text>
<text class="tt" x="37.7" y="235.0" textLength="16.5" lengthAdjust="spacingAndGlyphs">Peak</text>
<text class="tt" x="56.4" y="235.0" textLength="25.2" lengthAdjust="spacingAndGlyphs">Control</text>
<text class="tt" x="85.6" y="235.0" textLength="20.8" lengthAdjust="spacingAndGlyphs">Factor</text>
<text class="tt" x="111.1" y="235.0" textLength="38.7" lengthAdjust="spacingAndGlyphs">Distribution</text>
<text class="tt" x="154.9" y="235.0" textLength="21.1" lengthAdjust="spacingAndGlyphs">(USN)</text>
<path d="M36.4 241.0V412.1M64.1 241.0V412.1M91.8 241.0V412.1M119.4 241.0V412.1M147.1 241.0V412.1M174.8 241.0V412.1M30.8 406.0H180.3M30.8 374.2H180.3M30.8 342.4H180.3M30.8 310.6H180.3M30.8 278.8H180.3M30.8 247.0H180.3" stroke="#ececec" stroke-width="0.8" fill="none"/>
<g clip-path="url(#cf3)"><g filter="url(#bl)">
<path d="M39.8 411.5L38.3 411.9L36.8 412.0L35.8 411.8L34.3 410.9L33.4 410.0L32.5 408.5L31.6 405.5L31.2 400.5L31.1 394.5L32.1 368.0L32.6 364.5L35.0 355.0L37.6 347.5L40.5 340.5L41.5 338.5L42.8 336.8L44.3 335.7L46.3 335.0L48.8 335.0L50.8 336.0L52.1 337.5L53.3 341.2L54.1 342.5L56.4 344.5L60.3 347.0L67.6 351.0L81.3 357.7L98.2 367.5L104.6 370.5L112.2 373.5L119.6 376.0L129.9 379.0L136.3 380.5L141.8 381.5L150.8 382.6L181.3 384.2L181.3 398.4L172.3 397.8L167.3 397.9L162.0 398.5L141.3 401.8L123.3 403.8L109.8 404.8L78.2 406.5L51.8 408.5L44.8 409.3L39.8 411.5Z" fill="#fafafa"/>
<path d="M39.3 410.6L36.8 410.9L35.8 410.6L34.8 410.0L33.9 409.0L33.4 408.0L32.5 404.5L32.1 399.5L32.1 391.0L33.2 367.5L35.6 355.5L41.2 341.5L42.4 339.0L43.6 337.5L45.3 336.4L46.8 335.9L48.8 336.1L50.4 337.0L51.4 338.5L52.3 341.5L53.3 343.2L55.4 345.0L59.2 347.5L66.3 351.5L81.3 358.9L97.9 368.5L104.4 371.5L112.0 374.5L119.4 377.0L129.7 380.0L136.1 381.5L141.6 382.5L150.8 383.6L181.3 385.3L181.3 397.4L172.3 396.7L167.3 396.9L161.8 397.5L141.3 400.8L123.3 402.7L109.3 403.9L77.9 405.5L51.7 407.5L44.8 408.3L39.3 410.6Z" fill="#f8f8f8"/>
<path d="M38.8 410.1L36.8 410.2L35.8 409.8L34.8 409.0L33.8 407.0L33.1 403.5L32.8 399.0L32.9 390.0L33.9 367.0L35.3 360.5L36.2 355.0L37.5 353.0L40.1 346.0L43.0 339.5L44.8 337.5L46.8 336.7L48.3 336.7L49.8 337.5L50.6 338.5L51.8 342.2L52.8 343.7L54.8 345.5L59.5 348.5L66.7 352.5L81.3 359.7L97.3 369.0L103.7 372.0L111.2 375.0L118.5 377.5L128.8 380.5L134.9 382.0L141.8 383.3L151.3 384.4L181.3 386.0L181.3 396.6L172.3 396.0L167.3 396.1L160.2 397.0L142.8 399.8L124.8 401.9L109.8 403.1L82.0 404.5L54.6 406.5L44.8 407.5L43.2 408.0L38.8 410.1Z" fill="#f6f6f6"/>
<path d="M38.8 409.5L36.8 409.7L35.8 409.2L35.1 408.5L34.1 406.5L33.6 403.5L33.4 398.5L33.4 390.0L34.4 366.5L35.8 359.9L36.1 356.5L36.5 355.0L37.9 353.5L40.5 346.5L43.4 340.0L44.8 338.3L46.8 337.3L48.3 337.4L49.4 338.0L50.1 339.0L51.3 342.5L52.2 344.0L54.5 346.0L58.3 348.5L66.4 353.0L80.3 359.8L97.3 369.7L103.8 372.7L111.3 375.7L118.8 378.3L128.8 381.2L134.8 382.6L141.8 383.9L151.8 385.0L181.3 386.6L181.3 396.0L172.8 395.4L167.3 395.5L160.3 396.3L142.3 399.2L124.8 401.2L109.0 402.5L80.3 404.0L54.0 406.0L44.5 407.0L43.0 407.5L38.8 409.5Z" fill="#f3f3f3"/>
<path d="M38.8 409.1L37.8 409.3L36.8 409.3L35.6 408.5L34.5 406.5L34.0 403.5L33.8 398.5L33.8 391.0L34.7 367.0L35.9 360.5L36.5 355.5L36.8 354.9L38.4 353.5L40.7 347.5L43.8 340.5L45.3 338.7L46.8 338.0L48.3 338.1L49.3 338.9L50.8 343.0L52.3 344.9L54.8 346.9L58.1 349.0L66.2 353.5L80.3 360.5L96.8 370.2L103.3 373.2L110.8 376.2L118.3 378.8L128.3 381.8L134.3 383.3L142.3 384.7L151.3 385.7L181.3 387.4L181.3 395.3L172.8 394.6L167.3 394.7L159.3 395.7L142.6 398.5L125.1 400.5L106.2 402.0L81.3 403.3L54.4 405.5L44.3 406.6L42.8 407.1L38.8 409.1Z" fill="#f1f1f1"/>
<path d="M37.8 409.0L36.3 408.7L35.3 407.5L34.6 405.5L34.2 402.0L34.1 389.5L35.1 366.0L36.2 360.0L36.7 355.5L37.3 354.8L38.5 354.0L40.8 348.4L44.3 341.2L45.3 339.8L46.8 338.9L47.8 338.9L48.3 339.2L48.9 340.0L50.0 343.0L51.0 344.5L52.6 346.0L55.8 348.2L65.3 353.6L80.0 361.0L96.3 370.8L105.3 375.2L118.3 380.3L128.8 383.8L135.3 385.7L145.3 387.9L162.3 390.0L164.3 390.5L164.2 391.0L162.6 391.5L149.1 394.5L139.8 396.4L129.8 398.0L109.8 400.5L80.3 402.8L45.5 406.0L42.8 406.6L38.8 408.8L37.8 409.0Z" fill="#ececec"/>
<path d="M38.3 408.7L36.8 408.7L35.5 407.5L35.0 406.0L34.5 402.5L34.3 395.5L34.4 386.5L35.0 370.0L35.4 365.5L36.3 360.5L36.6 356.5L36.9 355.5L38.8 354.2L40.8 349.5L42.3 346.6L45.3 341.9L46.2 341.0L46.8 340.7L47.3 340.8L47.8 341.2L49.5 344.0L50.9 345.5L54.8 348.2L64.3 353.6L79.4 361.5L96.3 372.4L126.3 389.5L127.8 390.5L128.1 391.0L127.9 391.5L126.9 392.0L119.2 394.5L110.3 397.0L103.3 398.6L94.9 400.0L81.3 401.8L44.8 405.8L42.3 406.4L38.3 408.7Z" fill="#e5e5e7"/>
<path d="M37.8 408.5L36.8 408.4L36.3 408.1L35.6 407.0L35.0 404.5L34.7 400.5L34.7 385.0L35.2 370.0L35.6 365.0L36.5 360.5L36.9 356.0L37.3 355.3L38.8 354.7L41.0 350.0L42.3 347.7L44.8 344.7L46.3 343.3L47.3 343.4L50.2 346.0L54.0 348.5L75.2 360.0L82.5 364.5L104.4 380.0L110.8 385.5L114.0 388.5L114.7 389.5L114.6 390.0L113.4 391.0L107.3 394.0L101.3 396.3L95.2 398.0L84.3 400.3L75.3 401.8L61.8 403.7L44.3 405.5L42.3 406.1L38.8 408.2L37.8 408.5Z" fill="#dfdfe1"/>
<path d="M38.3 408.2L36.8 408.2L36.1 407.5L35.5 406.0L35.0 402.5L34.9 387.0L35.7 365.5L36.6 360.5L37.1 356.0L37.5 355.5L39.0 355.0L41.3 350.3L42.8 348.0L44.8 346.2L46.3 345.2L46.8 345.2L47.8 345.6L52.7 348.5L71.2 358.5L76.3 361.5L80.9 364.5L91.5 372.5L100.0 379.5L103.8 383.5L106.8 388.0L106.9 389.0L106.5 389.5L104.7 391.0L101.6 393.0L96.8 395.3L90.3 397.5L80.8 400.0L69.9 402.0L60.8 403.4L43.3 405.4L41.7 406.0L38.3 408.2Z" fill="#d9d9db"/>
<path d="M37.8 408.1L36.8 407.9L36.3 407.5L35.8 406.5L35.4 404.0L35.1 400.0L35.1 383.5L35.6 369.5L36.0 364.5L36.7 360.5L37.0 357.0L37.3 356.0L37.8 355.6L38.8 355.5L39.3 355.0L42.3 349.5L43.8 348.0L45.8 346.8L46.8 346.6L47.8 346.9L58.8 352.4L71.6 359.5L78.7 364.0L87.6 371.0L96.0 378.5L99.6 382.5L100.8 384.5L101.6 386.5L101.8 387.5L101.6 388.5L100.3 390.0L97.9 392.0L93.4 394.5L86.3 397.3L77.8 399.7L64.1 402.5L43.3 405.1L41.8 405.6L38.8 407.8L37.8 408.1Z" fill="#d2d2d5"/>
<path d="M38.8 407.5L37.3 407.9L36.3 407.1L35.8 405.5L35.4 402.5L35.2 387.5L36.0 365.5L36.9 360.5L37.3 356.3L37.8 355.9L38.8 355.8L39.3 355.5L42.3 350.3L43.3 349.2L44.8 348.3L46.3 347.9L47.3 347.9L53.6 350.5L63.4 355.5L75.0 362.5L81.7 367.5L90.2 375.0L95.3 380.5L97.6 384.0L98.2 386.0L98.1 387.5L97.6 388.5L96.3 390.0L94.6 391.5L92.2 393.0L84.7 396.5L77.1 399.0L64.3 402.0L59.3 402.9L42.8 405.0L41.3 405.6L38.8 407.5Z" fill="#cccccf"/>
<path d="M38.3 407.6L37.8 407.7L36.9 407.5L36.2 406.5L35.8 404.5L35.5 401.0L35.5 385.0L36.2 365.0L37.0 360.5L37.4 356.5L37.8 356.1L39.1 356.0L39.7 355.5L42.3 351.2L43.3 350.1L44.3 349.4L45.8 349.0L47.3 349.0L52.9 351.0L62.0 355.5L72.7 362.0L79.4 367.0L87.1 374.0L92.2 379.5L94.1 382.0L95.1 384.0L95.5 385.5L95.3 387.0L94.5 388.5L93.1 390.0L88.7 393.0L81.5 396.5L74.0 399.0L62.3 401.9L42.3 404.9L41.0 405.5L38.3 407.6Z" fill="#c5c5ca"/>
<path d="M37.8 407.5L36.8 407.1L36.3 406.0L35.7 399.5L35.7 382.0L36.4 364.5L37.1 360.5L37.3 357.5L37.7 356.5L38.8 356.4L39.7 356.0L42.8 351.8L44.3 350.5L45.8 350.2L47.8 350.4L54.6 353.0L62.3 357.0L70.9 362.5L76.7 367.0L83.7 373.5L89.0 379.5L92.0 384.0L92.4 385.5L92.2 386.5L91.6 387.5L90.2 389.0L85.5 392.5L79.0 396.0L71.0 399.0L62.2 401.5L51.8 403.3L42.3 404.6L41.3 405.0L38.8 407.1L37.8 407.5Z" fill="#c2c2c9"/>
<path d="M38.3 407.2L37.8 407.3L37.0 407.0L36.4 405.5L36.0 402.0L35.8 396.6L35.8 384.5L36.3 368.0L37.5 357.5L37.8 356.7L39.3 356.6L39.8 356.3L44.3 352.2L45.3 351.7L46.8 351.7L51.9 353.5L58.8 356.9L65.4 361.0L71.4 365.5L77.5 371.0L83.2 377.0L87.3 382.5L88.3 384.5L88.5 385.5L88.0 386.5L86.1 388.5L81.4 392.5L77.4 395.0L72.3 397.5L65.6 400.0L60.2 401.5L50.8 403.2L42.3 404.4L40.8 405.1L38.3 407.2Z" fill="#bfbfc8"/>
<path d="M37.8 407.1L37.3 407.0L36.9 406.5L36.4 404.5L36.1 400.0L36.0 393.5L36.4 368.0L36.7 364.0L37.4 360.5L37.6 358.0L37.9 357.0L39.8 356.7L44.8 353.7L45.8 353.3L46.8 353.3L51.5 355.0L57.8 358.2L62.8 361.5L68.7 366.0L74.1 371.0L79.6 377.0L83.5 382.5L84.3 384.0L84.4 385.0L83.9 386.0L82.4 388.0L78.6 392.0L74.4 395.0L69.9 397.5L65.1 399.5L59.3 401.3L50.8 403.0L42.3 404.2L40.8 404.9L38.8 406.7L37.8 407.1Z" fill="#bcbcc7"/>
<path d="M38.3 406.7L37.8 406.9L37.3 406.6L36.7 405.0L36.3 400.5L36.2 394.5L36.2 381.0L36.7 367.0L37.7 358.0L37.9 357.5L38.3 357.2L39.8 357.1L45.8 355.1L47.3 355.1L51.8 356.9L57.3 359.9L61.8 363.0L66.7 367.0L71.3 371.5L76.6 377.5L79.7 382.0L80.5 383.5L80.6 384.5L78.9 388.0L76.2 391.5L72.8 394.5L67.9 397.5L63.4 399.5L58.6 401.0L50.8 402.8L41.8 404.2L40.8 404.7L38.3 406.7Z" fill="#bbbbc9"/>
<path d="M38.3 406.5L37.8 406.6L37.3 406.1L36.9 404.5L36.5 400.5L36.3 394.0L36.8 368.5L37.1 364.0L37.7 361.0L37.9 358.5L38.3 357.5L39.8 357.5L44.8 356.8L47.3 356.8L51.3 358.4L56.3 361.2L60.1 364.0L64.7 368.0L69.1 372.5L74.4 379.0L76.7 382.5L77.0 383.5L77.0 385.0L75.8 388.5L73.9 391.5L70.8 394.5L66.8 397.2L62.8 399.1L57.1 401.0L51.0 402.5L41.8 404.0L40.7 404.5L38.3 406.5Z" fill="#bcbccc"/>
<path d="M38.3 406.2L37.8 406.2L37.4 405.5L37.0 403.5L36.7 399.5L36.5 392.5L36.7 380.0L37.2 365.5L38.2 358.5L38.3 358.1L38.8 357.9L43.3 357.9L46.3 358.2L47.8 358.6L49.8 359.4L55.2 362.5L59.1 365.5L63.4 369.5L68.1 375.0L72.9 381.5L73.9 384.0L74.0 387.0L72.9 390.0L71.2 392.5L68.6 395.0L64.7 397.5L60.1 399.5L53.7 401.5L49.7 402.5L41.8 403.8L40.4 404.5L38.3 406.2Z" fill="#bcbccf"/>
<path d="M38.8 405.5L38.3 405.7L37.8 405.5L37.2 402.5L36.8 397.0L36.8 387.5L37.0 378.5L37.8 363.5L38.6 359.0L38.8 358.8L39.3 358.7L43.8 359.1L48.1 360.5L53.3 363.3L57.5 366.5L62.9 372.0L68.5 379.5L71.0 383.5L71.6 385.5L71.8 387.0L71.3 389.5L69.8 392.0L67.4 394.5L63.8 397.0L58.2 399.5L52.4 401.5L48.4 402.5L41.3 403.8L40.0 404.5L38.8 405.5Z" fill="#b9b9cf"/>
<path d="M38.8 405.0L38.3 405.1L37.8 404.3L37.1 399.5L37.0 389.0L37.3 378.0L38.3 368.5L39.3 362.5L39.8 361.3L40.3 361.0L41.3 361.0L45.3 361.8L49.8 363.7L53.8 366.0L57.3 368.9L61.4 373.5L66.2 380.5L68.4 384.5L69.0 386.0L69.1 387.5L68.2 390.0L66.4 392.5L63.8 395.0L60.8 397.0L57.0 399.0L52.4 401.0L49.3 402.0L41.3 403.7L38.8 405.0Z" fill="#b4b4cd"/>
<path d="M39.8 404.0L38.8 404.4L38.3 404.1L37.8 402.7L37.4 400.0L37.2 389.5L37.6 378.5L38.3 374.1L40.8 366.7L41.8 364.5L42.3 364.1L43.3 364.0L47.3 365.1L50.8 366.6L53.8 368.4L56.7 371.0L59.9 375.0L63.6 381.0L65.9 385.5L66.2 387.5L65.1 390.0L62.7 393.0L59.8 395.5L55.5 398.5L51.9 400.5L49.6 401.5L41.8 403.3L39.8 404.0Z" fill="#afafcc"/>
<path d="M40.3 403.6L39.3 403.8L38.7 403.5L38.2 402.5L37.7 400.0L37.4 389.0L38.0 378.5L38.8 375.1L40.8 371.2L43.6 367.5L44.3 367.0L45.3 367.0L48.8 368.0L51.3 369.2L53.8 370.9L55.8 373.0L58.0 376.0L61.1 381.5L62.9 385.5L63.2 386.5L63.2 387.5L62.0 390.0L59.7 393.0L56.0 396.5L52.1 399.5L49.6 401.0L47.8 401.7L40.3 403.6Z" fill="#a6a6c8"/>
<path d="M41.8 403.0L39.3 403.2L38.6 402.5L38.1 400.5L37.7 396.0L37.7 390.0L38.3 379.0L39.3 375.8L41.8 372.6L45.3 370.1L46.3 369.8L47.3 369.9L49.3 370.5L51.3 371.5L52.8 372.6L54.5 374.5L56.1 377.0L58.4 381.5L60.0 385.5L60.2 387.0L59.3 389.5L57.1 393.0L54.6 396.0L51.5 399.0L49.5 400.5L47.5 401.5L41.8 403.0Z" fill="#9090bd"/>
<path d="M40.8 403.0L39.8 403.0L39.3 402.7L38.8 402.0L38.4 400.5L38.1 398.0L37.9 387.5L38.4 381.5L38.8 378.5L39.8 376.4L42.3 374.0L43.8 373.3L46.8 372.4L48.8 372.6L50.3 373.2L51.4 374.0L52.8 375.5L53.7 377.0L55.8 381.5L57.1 385.0L57.3 386.5L57.1 388.0L56.0 391.0L54.3 394.0L52.2 397.0L49.8 399.5L48.6 400.5L46.6 401.5L43.4 402.5L40.8 403.0Z" fill="#7474b0"/>
<path d="M42.3 402.6L40.8 402.8L39.7 402.5L39.0 401.5L38.5 399.5L38.1 395.0L38.1 389.0L38.5 383.5L39.0 379.5L39.5 378.0L40.1 377.0L42.3 375.3L44.3 374.8L48.3 374.6L49.8 375.2L50.7 376.0L52.4 379.0L54.6 385.5L54.7 387.5L54.5 389.5L53.7 392.0L52.6 394.5L51.2 397.0L49.6 399.0L46.9 401.0L42.3 402.6Z" fill="#404095"/>
<path d="M41.3 402.5L40.3 402.4L39.3 401.5L38.9 400.0L38.5 397.0L38.3 387.5L38.7 383.5L39.3 380.0L40.3 377.6L42.3 376.2L44.3 375.8L47.8 375.9L49.3 376.5L50.2 377.5L52.0 381.5L53.3 386.5L53.3 388.5L53.0 391.0L52.2 393.5L51.0 396.0L48.8 399.1L47.8 400.0L46.1 401.0L43.6 402.0L41.3 402.5Z" fill="#31308b"/>
<path d="M42.8 402.0L41.3 402.3L40.3 402.0L39.5 401.0L38.9 399.0L38.5 395.0L38.4 390.0L38.6 386.0L39.2 382.0L40.3 378.5L41.8 377.1L43.8 376.5L47.8 376.7L48.8 377.1L49.8 378.2L51.6 382.5L52.6 387.0L52.4 390.5L51.0 395.0L48.8 398.4L46.3 400.5L42.8 402.0Z" fill="#292783"/>
<path d="M43.3 401.6L41.8 402.0L40.8 401.9L39.8 401.0L39.2 399.5L38.7 396.0L38.6 392.0L38.7 387.5L39.1 383.5L40.0 380.0L41.3 378.1L42.3 377.4L43.8 377.1L47.3 377.2L48.3 377.6L49.2 378.5L50.7 381.5L51.9 386.0L52.1 388.0L51.9 390.0L50.9 394.0L49.0 397.5L46.8 399.7L43.3 401.6Z" fill="#221e7c"/>
<path d="M42.3 401.6L41.3 401.7L40.3 401.2L39.6 400.0L39.1 398.0L38.8 394.5L38.7 390.5L38.9 386.5L39.3 383.5L40.3 380.2L41.1 379.0L41.8 378.3L43.8 377.6L46.8 377.8L47.8 378.1L48.8 378.9L49.8 380.5L50.5 382.5L51.5 387.0L51.3 391.0L50.0 395.0L48.3 397.8L45.8 399.9L42.3 401.6Z" fill="#1a1574"/>
<path d="M42.8 401.2L41.8 401.4L40.8 401.2L39.9 400.0L39.4 398.5L39.0 395.5L38.8 392.0L39.3 385.0L40.1 381.5L41.3 379.4L42.3 378.6L43.3 378.2L46.3 378.3L47.3 378.5L48.3 379.2L49.2 380.5L50.1 382.5L51.0 386.5L50.9 390.5L50.0 394.0L48.5 397.0L46.3 399.2L42.8 401.2Z" fill="#371165"/>
<path d="M42.3 401.0L41.3 401.1L40.5 400.5L39.9 399.5L39.5 398.0L39.0 392.0L39.4 385.5L40.2 382.0L41.3 380.0L42.3 379.1L43.3 378.8L45.8 378.8L47.3 379.2L48.3 380.0L49.6 382.5L50.6 386.5L50.4 391.0L49.5 394.5L48.1 397.0L45.8 399.1L42.3 401.0Z" fill="#5a0d54"/>
<path d="M42.8 400.6L41.8 400.8L40.8 400.5L40.1 399.5L39.6 398.0L39.1 393.0L39.4 386.5L40.1 383.0L41.3 380.5L42.8 379.4L43.8 379.2L45.3 379.2L46.8 379.6L47.5 380.0L48.3 380.8L49.0 382.0L50.1 385.5L50.3 387.5L50.1 390.0L49.5 393.5L48.1 396.5L45.8 398.8L42.8 400.6Z" fill="#7c0a44"/>
<path d="M42.3 400.5L41.3 400.5L40.8 400.2L40.1 399.0L39.7 397.5L39.2 392.0L39.6 386.0L40.3 383.0L41.4 381.0L42.8 379.9L43.8 379.7L45.3 379.7L46.8 380.1L47.8 380.9L49.2 383.5L49.9 386.5L49.7 391.0L49.0 394.0L47.8 396.5L45.3 398.9L42.3 400.5Z" fill="#960b36"/>
<path d="M42.8 400.1L41.8 400.3L40.9 400.0L40.3 399.1L39.9 398.0L39.4 393.5L39.6 387.5L40.3 383.6L41.3 381.6L42.8 380.4L44.8 380.1L46.3 380.4L47.3 381.0L48.6 383.0L49.6 386.0L49.6 389.5L48.9 393.5L47.8 396.0L45.8 398.2L42.8 400.1Z" fill="#af0b29"/>
<path d="M42.3 400.1L41.3 400.0L40.8 399.6L40.2 398.5L39.8 397.0L39.5 392.0L39.8 386.9L40.4 384.0L41.4 382.0L42.8 380.8L44.8 380.6L46.3 380.9L47.2 381.5L48.7 384.0L49.4 386.5L49.2 390.5L48.5 394.0L47.2 396.5L45.1 398.5L42.3 400.1Z" fill="#c90c1b"/>
<path d="M42.8 399.7L41.8 399.9L41.3 399.8L40.8 399.3L40.2 398.0L39.6 394.0L39.8 388.5L40.3 385.2L41.3 382.6L42.8 381.2L44.8 381.0L46.8 381.7L48.4 384.0L49.1 386.5L49.0 390.0L48.3 393.5L47.3 396.0L45.4 398.0L42.8 399.7Z" fill="#d30d16"/>
<path d="M42.3 399.6L41.3 399.5L40.8 399.0L40.1 397.0L39.7 392.5L40.0 388.0L40.7 384.5L41.7 382.5L43.2 381.5L44.8 381.4L45.8 381.7L46.8 382.3L48.3 384.5L48.9 387.0L48.7 390.5L47.9 394.0L47.0 396.0L45.1 398.0L42.3 399.6Z" fill="#da0f12"/>
<path d="M43.3 399.0L41.8 399.5L41.3 399.3L40.7 398.5L40.0 395.5L39.8 391.0L40.4 386.5L41.3 383.7L41.8 382.9L42.8 382.1L44.3 381.8L46.3 382.4L47.8 384.1L48.6 386.0L48.6 388.5L48.2 392.0L47.3 395.0L45.9 397.0L43.3 399.0Z" fill="#e1110e"/>
<path d="M42.8 399.1L41.8 399.3L41.3 399.0L40.4 397.5L40.0 394.5L40.0 390.5L40.6 386.5L41.3 384.3L41.8 383.5L42.8 382.5L44.3 382.2L46.3 382.9L47.7 384.5L48.4 386.5L48.4 389.0L47.8 392.5L46.8 395.5L45.1 397.5L42.8 399.1Z" fill="#e81e0a"/>
<path d="M42.3 399.0L41.8 399.0L41.1 398.5L40.3 396.5L40.0 393.0L40.3 389.1L40.9 386.0L41.8 384.1L42.3 383.4L43.3 382.8L44.8 382.8L46.4 383.5L47.3 384.5L47.8 385.5L48.2 387.5L47.9 390.5L47.1 394.0L46.1 396.0L44.1 398.0L42.3 399.0Z" fill="#f03507"/>
<path d="M42.8 398.6L41.8 398.8L41.3 398.5L40.7 397.5L40.2 394.5L40.3 390.5L41.0 386.5L41.8 384.6L42.8 383.6L44.3 383.2L45.8 383.6L47.3 385.1L47.8 386.5L47.8 389.3L47.2 392.5L46.3 395.1L44.9 397.0L42.8 398.6Z" fill="#f84c03"/>
<path d="M42.3 398.6L41.8 398.6L41.3 398.2L40.6 396.5L40.3 393.0L40.6 389.5L41.3 386.4L42.0 385.0L43.3 383.8L44.8 383.8L46.3 384.5L47.3 386.0L47.6 388.0L47.4 390.5L46.6 393.5L45.7 395.5L44.0 397.5L42.3 398.6Z" fill="#ff6300"/>
<path d="M42.8 398.1L41.8 398.3L41.4 398.0L40.8 396.6L40.5 393.0L40.7 390.0L41.4 387.0L42.0 385.5L43.3 384.4L44.8 384.3L46.3 385.0L47.0 386.0L47.3 387.5L47.1 390.0L46.6 392.5L45.6 395.0L44.2 397.0L42.8 398.1Z" fill="#ff7e00"/>
<path d="M42.3 398.0L41.8 398.0L41.3 397.5L40.9 396.0L40.6 393.0L40.8 390.3L41.8 386.6L42.3 385.7L43.3 384.9L44.8 384.8L45.8 385.2L46.7 386.5L46.9 388.0L46.7 390.5L45.9 393.5L44.9 395.5L43.7 397.0L42.3 398.0Z" fill="#ff9900"/>
<path d="M42.3 397.6L41.8 397.5L41.2 396.5L40.8 393.0L41.0 390.5L42.3 386.4L43.3 385.5L44.8 385.4L45.8 385.9L46.4 387.0L46.5 388.5L46.3 390.7L45.8 392.5L44.7 395.0L43.3 396.9L42.3 397.6Z" fill="#ffb400"/>
<path d="M42.8 396.6L42.3 396.9L41.8 396.7L41.4 395.5L41.1 393.0L41.2 391.0L41.8 388.9L42.8 386.7L43.3 386.3L44.3 386.1L45.3 386.5L45.8 387.4L45.9 390.5L44.8 393.8L43.8 395.5L42.8 396.6Z" fill="#ffc200"/>
<path d="M42.8 395.4L42.3 395.5L41.8 394.8L41.4 393.0L41.4 391.5L41.8 390.1L42.8 388.3L43.3 387.8L44.3 387.5L44.8 387.9L45.2 389.0L45.1 391.5L44.3 393.7L42.8 395.4Z" fill="#ffce00"/>
<path d="M43.3 393.8L42.8 394.0L42.3 393.8L41.9 393.0L41.8 391.8L42.3 390.4L43.3 389.5L43.8 389.5L44.3 390.0L44.5 391.5L44.3 392.5L43.3 393.8Z" fill="#ffd904"/>
<path d="M43.3 392.6L42.8 392.7L42.5 392.0L42.8 391.2L43.3 391.0L43.6 391.5L43.6 392.0L43.3 392.6Z" fill="#ffe21a"/>
</g></g>
<path d="M30.8 387.0H180.3" stroke="#ff2a2a" stroke-width="1.3" stroke-dasharray="2.8 2.65" fill="none"/>
<path d="M37.6 358.7L88.6 241.0M51.5 405.5L180.3 353.4" stroke="#ff0000" stroke-width="1.45" fill="none"/>
<rect x="37.6" y="359.0" width="13.9" height="46.5" stroke="#ff0000" stroke-width="1.75" fill="none"/>
<rect x="88.6" y="241.0" width="91.7" height="112.4" fill="#fff" stroke="#5a5a5a" stroke-width="1.0"/>
<g clip-path="url(#cj3)"><rect x="96.2" y="252.7" width="72.4" height="85.2" fill="#00009c"/><g filter="url(#bl2)">
<path d="M170.7 340.2L94.2 340.2L94.2 285.8L95.2 284.8L98.4 279.7L101.4 275.7L104.7 272.0L108.2 268.7L113.7 264.4L119.2 261.0L125.7 257.9L132.7 255.6L138.7 254.2L147.7 253.0L151.0 251.7L152.3 250.7L170.7 250.7L170.7 340.2Z" fill="#0000b7"/>
<path d="M107.2 340.2L100.9 340.2L100.9 324.2L101.5 314.7L102.9 306.2L105.4 297.2L106.9 293.7L108.4 290.7L110.3 287.7L112.6 284.7L116.7 280.4L121.7 276.4L125.7 273.9L131.2 271.3L135.2 269.9L139.2 268.9L151.3 267.2L154.5 266.2L161.7 263.4L165.2 262.4L167.7 261.9L170.7 261.9L170.7 330.8L167.2 331.4L164.2 331.6L154.7 330.7L150.2 330.7L132.7 333.5L114.2 335.5L111.7 336.1L110.2 336.8L108.6 338.2L107.4 340.2L107.2 340.2Z" fill="#0000d2"/>
<path d="M105.2 337.2L104.7 337.3L104.2 336.9L103.7 335.4L102.8 325.7L102.9 317.7L104.0 309.7L104.9 305.7L106.5 300.7L108.6 295.2L111.4 290.2L115.2 285.2L119.2 281.4L123.7 278.0L128.2 275.5L133.2 273.5L137.2 272.3L140.7 271.6L150.2 270.7L153.2 270.2L166.7 266.4L168.7 266.2L170.7 266.4L170.7 328.7L164.2 329.6L154.2 329.1L151.1 329.2L129.7 332.4L121.2 333.3L113.2 333.7L109.2 334.7L105.2 337.2Z" fill="#0000ed"/>
<path d="M106.7 333.2L105.8 332.7L105.2 331.3L104.3 327.2L103.9 323.2L104.0 316.2L105.2 309.2L108.5 299.2L110.5 294.7L114.0 289.2L118.2 284.6L122.7 280.9L127.2 278.2L132.2 276.1L137.7 274.5L142.7 273.8L150.7 273.5L154.2 273.1L160.2 272.0L166.7 270.4L168.2 270.7L170.7 272.9L170.7 327.4L163.7 328.3L151.7 328.4L136.2 330.9L124.7 332.3L120.7 332.5L112.2 332.5L106.7 333.2Z" fill="#000aff"/>
<path d="M123.7 331.7L118.7 331.7L109.2 331.0L107.7 330.7L107.1 330.2L106.3 328.7L105.0 323.7L104.7 320.2L105.0 316.2L105.7 311.7L106.7 307.7L111.4 296.2L113.8 292.2L116.7 288.5L121.3 284.2L126.7 280.6L132.2 278.3L138.2 276.8L143.2 276.2L155.7 276.1L160.7 275.6L164.7 274.9L166.2 275.3L169.7 278.3L170.7 278.8L170.7 326.1L162.7 327.1L151.2 327.9L137.7 330.1L123.7 331.7Z" fill="#0029ff"/>
<path d="M128.2 330.7L123.7 331.1L120.2 331.1L114.7 330.3L109.7 329.3L108.7 328.8L107.8 327.7L106.1 323.7L105.7 320.7L105.8 317.2L106.3 313.2L107.3 309.2L112.7 296.9L114.7 293.6L117.2 290.4L121.7 286.1L126.7 282.7L131.7 280.6L138.2 279.1L143.7 278.7L156.2 279.3L162.7 279.2L164.2 279.6L169.7 282.2L170.7 282.5L170.7 324.8L168.2 324.9L161.2 326.1L150.2 327.4L138.2 329.5L128.2 330.7Z" fill="#0047ff"/>
<path d="M127.7 330.2L123.7 330.6L120.2 330.4L115.7 329.6L111.7 328.4L109.7 327.3L108.7 326.3L107.5 324.2L106.8 322.2L106.5 319.7L106.7 316.2L107.5 312.2L108.4 309.2L110.8 304.7L114.2 297.2L116.2 294.2L118.7 291.2L123.2 287.1L127.7 284.3L132.7 282.4L138.2 281.4L142.2 281.2L147.2 281.5L159.7 282.9L170.7 284.8L170.7 323.5L167.7 323.5L159.2 325.4L142.2 328.3L127.7 330.2Z" fill="#0066ff"/>
<path d="M127.7 329.7L123.7 330.1L120.7 329.9L116.7 329.1L113.7 328.1L111.2 326.8L109.7 325.5L108.4 323.7L107.5 321.2L107.3 318.7L107.6 315.7L108.3 312.2L109.1 309.7L112.1 304.7L115.5 297.7L117.7 294.6L120.2 291.9L124.2 288.5L128.2 286.1L132.2 284.6L137.2 283.7L141.2 283.5L144.7 283.8L161.2 286.5L167.2 286.5L170.7 286.7L170.7 322.2L168.7 322.0L167.2 322.1L157.3 324.7L145.1 327.2L137.7 328.5L127.7 329.7Z" fill="#0085ff"/>
<path d="M127.7 329.2L124.2 329.6L121.2 329.4L117.7 328.8L114.2 327.5L111.8 326.2L110.1 324.7L108.8 322.7L108.2 320.7L108.1 318.2L108.4 315.2L109.0 312.2L109.9 309.7L112.8 305.2L116.2 298.6L118.7 295.4L121.2 292.8L125.2 289.7L129.2 287.6L133.2 286.3L137.7 285.7L141.2 285.6L145.2 286.0L151.2 287.1L160.7 289.1L170.7 289.2L170.7 320.0L168.7 319.9L166.7 320.2L156.3 323.7L144.3 326.7L137.2 328.0L127.7 329.2Z" fill="#00a3ff"/>
<path d="M127.7 328.7L124.2 329.1L121.2 329.0L118.2 328.4L115.2 327.4L112.7 326.0L110.6 324.2L109.3 322.2L108.8 320.2L108.7 317.7L109.0 315.2L109.7 312.2L110.6 309.7L113.3 305.7L116.9 299.2L119.2 296.4L122.2 293.6L126.2 290.9L130.2 289.0L134.7 287.9L139.7 287.6L142.7 287.7L146.7 288.3L152.2 289.4L160.7 291.6L168.2 292.5L169.2 292.8L170.7 294.0L170.7 316.3L166.7 317.4L156.0 322.2L147.1 325.2L139.2 327.1L127.7 328.7Z" fill="#00c2ff"/>
<path d="M127.7 328.2L124.2 328.6L121.2 328.5L118.2 328.0L115.7 327.2L113.2 325.7L111.4 324.2L110.1 322.2L109.5 320.2L109.3 317.7L109.6 315.2L110.1 312.7L111.0 310.2L117.2 300.2L119.2 297.9L121.7 295.6L125.7 292.8L130.2 290.8L134.7 289.8L139.7 289.6L144.7 290.0L151.7 291.3L160.7 294.4L165.7 295.7L167.0 296.7L167.4 297.7L167.9 300.2L168.3 306.7L168.0 311.7L167.7 312.9L167.1 313.7L156.3 320.2L147.2 324.2L139.7 326.3L127.7 328.2Z" fill="#00e0ff"/>
<path d="M123.2 328.2L120.2 328.0L117.7 327.5L115.7 326.7L113.7 325.5L112.2 324.2L110.8 322.2L110.1 320.2L109.9 318.2L110.4 313.7L111.9 309.7L117.9 300.7L119.7 298.7L122.7 296.3L127.2 293.7L131.7 292.2L136.2 291.5L141.7 291.6L148.7 292.7L152.7 293.8L156.1 295.2L162.7 298.5L164.2 299.7L164.7 301.2L165.2 305.2L165.2 308.7L164.8 310.7L164.2 311.7L162.6 313.2L157.6 317.2L150.1 321.7L146.2 323.6L142.7 324.9L134.2 326.8L126.2 328.0L123.2 328.2Z" fill="#00ffff"/>
<path d="M124.2 327.7L121.2 327.7L118.7 327.4L116.7 326.8L114.7 325.7L112.9 324.2L111.8 322.7L110.9 320.7L110.5 318.7L110.5 316.7L110.9 314.2L111.6 311.7L112.5 309.7L118.2 301.6L119.7 300.0L122.2 298.0L126.7 295.6L131.7 294.0L136.2 293.4L142.2 293.7L148.7 294.8L152.7 296.1L157.1 298.7L160.4 301.2L161.3 302.2L161.9 303.7L162.1 306.7L162.0 308.2L161.4 309.7L159.6 312.2L157.3 314.7L151.6 319.2L145.8 322.7L141.2 324.6L133.7 326.3L124.2 327.7Z" fill="#1fffe0"/>
<path d="M125.2 327.2L122.2 327.4L119.7 327.2L117.7 326.7L115.7 325.9L114.1 324.7L112.8 323.2L111.7 321.2L111.2 319.2L111.0 317.2L111.3 314.7L112.0 312.2L112.9 310.2L118.2 302.8L121.2 300.0L125.7 297.5L130.7 295.9L135.7 295.3L141.2 295.6L147.7 296.6L151.2 297.8L152.9 298.7L154.8 300.2L158.1 303.7L158.8 305.2L158.8 306.7L158.0 309.2L156.7 311.7L155.2 313.7L153.3 315.7L147.9 320.2L143.9 322.7L139.7 324.4L133.2 325.9L125.2 327.2Z" fill="#3dffc2"/>
<path d="M125.7 326.7L120.7 326.9L118.7 326.7L116.7 326.0L115.2 325.1L113.8 323.7L112.5 321.7L111.9 319.7L111.6 317.7L111.7 315.7L112.1 313.7L113.0 311.2L114.7 308.3L118.2 303.9L119.7 302.3L122.7 300.2L126.7 298.5L130.7 297.6L135.2 297.2L141.7 297.6L147.7 298.7L150.3 299.7L152.8 301.7L154.4 303.7L155.2 305.2L155.4 306.7L155.0 309.2L154.3 311.2L153.1 313.2L148.5 318.2L144.2 321.6L140.2 323.5L133.7 325.3L125.7 326.7Z" fill="#5cffa3"/>
<path d="M126.2 326.2L121.2 326.6L119.2 326.4L117.2 325.8L115.7 325.0L114.4 323.7L113.4 322.2L112.6 320.2L112.2 318.2L112.2 316.2L112.5 314.2L113.3 311.7L115.1 308.7L119.2 303.7L121.7 301.8L124.7 300.4L128.2 299.4L132.7 299.0L137.2 299.0L144.7 300.0L148.2 300.9L150.2 302.2L151.5 303.7L152.4 305.7L152.7 307.7L152.6 309.7L151.9 311.7L151.1 313.2L148.9 316.2L146.6 318.7L143.2 321.4L139.7 323.1L133.7 324.8L126.2 326.2Z" fill="#7aff85"/>
<path d="M122.7 326.2L118.7 326.0L117.2 325.5L115.9 324.7L114.9 323.7L113.9 322.2L113.1 320.2L112.7 318.2L112.7 316.7L112.9 314.7L114.4 310.7L116.1 308.2L120.2 303.7L122.7 302.1L125.7 301.0L129.2 300.3L133.7 300.0L139.2 300.4L145.7 301.4L148.2 302.3L149.7 303.6L150.9 305.7L151.3 307.2L151.4 309.2L151.1 310.7L149.9 313.2L148.6 315.2L146.6 317.7L144.6 319.7L141.2 321.9L137.2 323.5L129.2 325.4L122.7 326.2Z" fill="#99ff66"/>
<path d="M124.2 325.7L119.7 325.8L118.2 325.5L116.7 324.8L115.4 323.7L114.7 322.7L113.9 321.2L113.4 319.2L113.3 315.7L114.5 311.7L116.2 308.9L120.2 304.4L122.2 303.0L125.2 301.8L128.7 301.1L132.2 300.8L136.7 300.9L144.2 301.8L147.2 302.6L148.8 303.7L149.9 305.2L150.4 306.7L150.6 308.7L150.3 310.7L149.5 312.7L148.0 315.2L146.4 317.2L144.4 319.2L141.2 321.4L137.7 322.9L131.2 324.6L124.2 325.7Z" fill="#b8ff47"/>
<path d="M125.2 325.3L120.7 325.5L117.7 324.9L116.5 324.2L115.5 323.2L114.6 321.7L114.1 320.2L113.7 318.2L113.7 316.2L114.8 312.2L116.6 309.2L120.2 305.1L122.2 303.6L125.2 302.4L128.2 301.7L132.2 301.4L136.7 301.5L143.7 302.3L146.7 303.0L148.4 304.2L149.4 305.7L149.9 307.2L150.0 309.2L149.8 310.7L148.9 312.7L147.4 315.2L144.2 318.8L141.2 321.0L137.7 322.5L131.7 324.1L125.2 325.3Z" fill="#d6ff29"/>
<path d="M126.7 324.7L122.2 325.2L118.7 324.9L116.4 323.7L115.6 322.7L114.8 321.2L114.3 319.2L114.2 317.2L114.4 315.2L115.0 313.2L116.8 309.7L120.3 305.7L122.2 304.2L124.7 303.1L127.7 302.4L131.7 302.0L136.7 302.1L143.2 302.7L146.2 303.4L147.2 303.9L148.2 304.7L148.8 305.7L149.4 307.2L149.5 309.2L149.2 310.7L148.4 312.7L147.3 314.7L144.2 318.3L141.2 320.5L138.2 321.9L132.7 323.5L126.7 324.7Z" fill="#f5ff0a"/>
<path d="M123.7 324.7L119.7 324.7L118.2 324.4L117.2 323.8L115.7 322.2L114.8 319.2L114.8 315.7L116.2 311.7L117.8 309.2L121.2 305.5L123.3 304.2L126.2 303.2L129.2 302.7L133.7 302.5L138.7 302.7L143.7 303.3L146.2 304.0L147.9 305.2L148.7 306.7L149.0 308.2L149.0 309.7L148.6 311.2L147.7 313.2L146.5 315.2L144.8 317.2L143.2 318.7L140.2 320.7L136.2 322.2L129.7 323.8L123.7 324.7Z" fill="#ffeb00"/>
<path d="M125.2 324.2L121.2 324.5L118.2 324.0L116.5 322.7L115.9 321.7L115.4 320.2L115.2 316.7L116.3 312.7L118.0 309.7L121.2 306.2L123.2 304.8L125.7 303.9L128.7 303.3L133.2 303.0L138.7 303.2L143.7 303.8L146.2 304.6L147.6 305.7L148.2 306.7L148.5 308.2L148.5 309.7L148.1 311.2L147.3 313.2L146.2 315.0L143.2 318.3L140.3 320.2L136.7 321.7L131.2 323.2L125.2 324.2Z" fill="#ffcc00"/>
<path d="M126.2 323.8L121.7 324.1L118.7 323.7L117.0 322.7L116.0 320.7L115.7 318.7L115.7 316.7L116.7 313.2L118.6 309.7L121.7 306.4L123.7 305.1L126.2 304.3L129.2 303.8L133.7 303.6L138.7 303.7L143.2 304.2L145.7 304.9L147.2 306.1L147.8 307.2L148.0 308.7L147.5 311.7L145.6 315.2L142.7 318.2L140.2 319.8L136.7 321.3L131.7 322.7L126.2 323.8Z" fill="#ffad00"/>
<path d="M123.2 323.7L119.7 323.6L117.7 322.7L116.6 321.2L116.2 318.7L116.4 315.7L117.7 312.2L119.7 309.2L122.2 306.7L124.2 305.4L126.7 304.7L129.7 304.2L134.2 304.1L138.7 304.2L142.7 304.7L145.2 305.3L146.7 306.4L147.2 307.3L147.4 308.7L147.3 310.2L146.7 312.2L145.7 314.2L144.7 315.6L142.0 318.2L138.6 320.2L134.2 321.7L128.2 323.1L123.2 323.7Z" fill="#ff8f00"/>
<path d="M124.7 323.2L121.2 323.3L118.7 322.7L117.5 321.7L116.8 319.7L116.9 316.2L118.2 312.4L119.9 309.7L122.7 306.9L124.7 305.8L127.2 305.1L130.2 304.7L134.7 304.6L138.7 304.7L142.2 305.2L144.7 305.9L146.2 307.0L146.7 308.2L146.7 309.7L145.7 313.1L144.0 315.7L141.2 318.2L138.7 319.7L134.7 321.2L129.7 322.4L124.7 323.2Z" fill="#ff7000"/>
<path d="M125.7 322.7L122.2 322.9L119.7 322.4L118.5 321.7L117.6 320.2L117.5 316.7L118.5 313.2L120.2 310.2L122.7 307.6L124.7 306.4L126.7 305.7L129.7 305.2L133.7 305.0L137.7 305.1L140.7 305.5L143.7 306.4L145.2 307.4L145.6 308.2L145.8 309.7L145.1 312.7L143.6 315.2L141.0 317.7L138.6 319.2L135.0 320.7L130.7 321.9L125.7 322.7Z" fill="#ff5200"/>
<path d="M126.2 322.3L123.2 322.4L120.7 322.0L119.2 321.2L118.4 319.7L118.3 316.7L119.2 313.2L120.7 310.5L123.2 307.9L125.2 306.7L127.2 306.1L130.2 305.7L134.7 305.5L138.2 305.7L140.7 306.2L143.1 307.2L144.2 308.2L144.6 309.2L144.6 310.2L143.8 313.2L142.2 315.7L140.0 317.7L137.5 319.2L134.7 320.4L130.2 321.6L126.2 322.3Z" fill="#ff3300"/>
<path d="M126.7 321.7L123.7 321.9L121.7 321.6L120.0 320.7L119.2 319.2L119.1 316.7L119.8 313.7L121.0 311.2L123.2 308.7L124.7 307.6L126.9 306.7L129.2 306.3L132.2 306.1L136.7 306.1L139.2 306.5L141.2 307.2L142.5 308.2L143.2 309.2L143.4 310.2L142.9 312.7L141.5 315.2L139.5 317.2L137.3 318.7L135.1 319.7L131.7 320.8L126.7 321.7Z" fill="#ff1400"/>
<path d="M125.7 321.2L123.5 321.2L121.7 320.7L120.6 319.7L120.1 318.2L120.1 315.7L120.8 313.2L122.2 310.8L124.2 308.8L126.1 307.7L127.5 307.2L132.7 306.7L136.2 306.8L138.7 307.1L140.2 307.7L141.4 308.7L142.1 310.2L142.1 311.2L141.8 312.7L140.3 315.2L138.3 317.2L135.9 318.7L133.4 319.7L129.5 320.7L125.7 321.2Z" fill="#f50000"/>
<path d="M129.2 319.7L126.2 320.1L124.2 320.1L122.9 319.7L121.9 318.7L121.5 316.7L121.7 314.7L122.7 312.3L124.3 310.2L125.6 309.2L127.2 308.4L130.7 307.7L133.7 307.7L137.2 308.1L138.7 308.5L139.7 309.2L140.3 310.7L140.1 312.2L139.2 314.2L138.0 315.7L136.2 317.2L134.4 318.2L131.6 319.2L129.2 319.7Z" fill="#d60000"/>
<path d="M130.7 315.8L129.2 315.9L128.2 315.7L127.4 315.2L127.0 314.7L126.9 313.7L127.5 312.2L128.2 311.4L129.2 310.9L130.2 310.7L131.7 311.0L132.8 311.7L133.4 312.7L133.3 313.7L132.7 314.6L131.7 315.3L130.7 315.8Z" fill="#b80000"/>
</g>
<path d="M155.5 252.7V337.9M96.2 304.5H168.6" stroke="#fff" stroke-opacity="0.6" stroke-width="0.6" fill="none"/>
</g>
<circle cx="123.3" cy="317.4" r="1.5" fill="none" stroke="#fff" stroke-width="0.8"/>
<rect x="171.4" y="257.1" width="2.5" height="77.0" fill="url(#jetg)"/>
<text class="cb" x="176.2" y="335.0">0.0</text>
<text class="cb" x="176.2" y="320.2">0.2</text>
<text class="cb" x="176.2" y="305.4">0.4</text>
<text class="cb" x="176.2" y="290.6">0.6</text>
<text class="cb" x="176.2" y="275.8">0.8</text>
<text class="cb" x="176.2" y="261.0">1.0</text>
<rect x="30.8" y="241.0" width="149.5" height="171.1" fill="none" stroke="#858585" stroke-width="1.2"/>
<path d="M36.4 412.1v3.6M64.1 412.1v3.6M91.8 412.1v3.6M119.4 412.1v3.6M147.1 412.1v3.6M174.8 412.1v3.6M30.8 406.0h-2.6M30.8 374.2h-2.6M30.8 342.4h-2.6M30.8 310.6h-2.6M30.8 278.8h-2.6M30.8 247.0h-2.6" stroke="#858585" stroke-width="0.9" fill="none"/>
<text class="tk" x="36.4" y="428.9" text-anchor="middle" textLength="3.87" lengthAdjust="spacingAndGlyphs">0</text>
<text class="tk" x="64.1" y="428.9" text-anchor="middle" textLength="3.87" lengthAdjust="spacingAndGlyphs">2</text>
<text class="tk" x="91.8" y="428.9" text-anchor="middle" textLength="3.87" lengthAdjust="spacingAndGlyphs">4</text>
<text class="tk" x="119.4" y="428.9" text-anchor="middle" textLength="3.87" lengthAdjust="spacingAndGlyphs">6</text>
<text class="tk" x="147.1" y="428.9" text-anchor="middle" textLength="3.87" lengthAdjust="spacingAndGlyphs">8</text>
<text class="tk" x="174.8" y="428.9" text-anchor="middle" textLength="7.74" lengthAdjust="spacingAndGlyphs">10</text>
<text class="tk" x="21.5" y="409.5" text-anchor="end" textLength="3.87" lengthAdjust="spacingAndGlyphs">0</text>
<text class="tk" x="21.5" y="377.7" text-anchor="end" textLength="3.87" lengthAdjust="spacingAndGlyphs">2</text>
<text class="tk" x="21.5" y="345.9" text-anchor="end" textLength="3.87" lengthAdjust="spacingAndGlyphs">4</text>
<text class="tk" x="21.5" y="314.1" text-anchor="end" textLength="3.87" lengthAdjust="spacingAndGlyphs">6</text>
<text class="tk" x="21.5" y="282.3" text-anchor="end" textLength="3.87" lengthAdjust="spacingAndGlyphs">8</text>
<text class="tk" x="21.5" y="250.5" text-anchor="end" textLength="7.74" lengthAdjust="spacingAndGlyphs">10</text>
<text class="ax" x="105.6" y="438.1" text-anchor="middle" textLength="90.4" lengthAdjust="spacingAndGlyphs">Significant Wave Height (m)</text>
<text class="ax" transform="translate(11.8 326.8) scale(0.8 1) rotate(-90)" x="0" y="0" text-anchor="middle" font-size="7.5">PCF</text>
<text class="tt" x="204.0" y="235.0" textLength="16.5" lengthAdjust="spacingAndGlyphs">Peak</text>
<text class="tt" x="222.7" y="235.0" textLength="25.2" lengthAdjust="spacingAndGlyphs">Control</text>
<text class="tt" x="251.9" y="235.0" textLength="20.8" lengthAdjust="spacingAndGlyphs">Factor</text>
<text class="tt" x="277.4" y="235.0" textLength="38.7" lengthAdjust="spacingAndGlyphs">Distribution</text>
<text class="tt" x="320.4" y="235.0" textLength="46.3" lengthAdjust="spacingAndGlyphs">(HeMOSU-1)</text>
<path d="M218.4 241.0V412.1M251.5 241.0V412.1M284.6 241.0V412.1M317.7 241.0V412.1M350.8 241.0V412.1M212.7 406.0H362.2M212.7 374.2H362.2M212.7 342.4H362.2M212.7 310.6H362.2M212.7 278.8H362.2M212.7 247.0H362.2" stroke="#ececec" stroke-width="0.8" fill="none"/>
<g clip-path="url(#cf4)"><g filter="url(#bl)">
<path d="M219.7 413.5L217.7 413.2L215.7 412.1L214.5 411.0L212.9 408.0L211.7 402.7L211.7 387.7L213.3 366.5L218.5 342.5L219.9 337.5L221.9 331.5L224.0 327.0L226.9 322.5L229.2 320.4L231.7 319.2L233.7 318.7L235.7 318.6L240.2 319.1L244.2 320.3L248.2 322.2L253.7 326.2L261.7 333.1L269.7 340.5L275.6 345.0L283.8 350.5L292.0 355.5L298.4 359.0L305.1 362.0L310.7 364.0L317.7 366.0L333.6 369.5L355.4 372.5L358.2 372.6L363.2 372.0L363.2 402.3L361.2 402.0L359.2 402.0L320.7 406.3L304.7 407.7L254.2 410.1L230.2 410.7L227.7 411.0L220.7 413.4L219.7 413.5Z" fill="#fafafb"/>
<path d="M220.7 412.1L219.2 412.2L217.7 411.9L215.7 410.7L214.2 408.5L213.3 405.0L212.8 400.0L212.9 391.0L214.3 366.5L215.7 360.1L216.4 356.0L219.4 343.0L220.9 337.5L223.0 331.5L224.9 327.5L227.7 323.2L229.7 321.3L232.2 320.1L235.7 319.7L240.2 320.2L244.2 321.4L247.7 323.1L253.2 327.1L261.2 334.0L268.7 341.0L274.6 345.5L282.7 351.0L290.8 356.0L298.1 360.0L303.6 362.5L309.0 364.5L315.6 366.5L326.0 369.0L333.4 370.5L355.2 373.5L358.2 373.6L363.2 373.1L363.2 401.2L361.2 400.9L359.2 401.0L320.2 405.3L304.7 406.7L254.2 409.1L230.2 409.6L227.6 410.0L220.7 412.1Z" fill="#f8f8fa"/>
<path d="M221.7 411.1L220.2 411.4L218.7 411.4L217.2 410.9L216.2 410.2L214.8 408.0L213.9 404.5L213.5 399.5L213.6 391.5L214.9 367.0L216.2 361.0L216.8 356.0L217.9 353.0L221.0 340.0L223.6 332.0L225.4 328.0L228.2 323.7L230.2 321.8L232.7 320.7L235.7 320.4L239.7 320.8L243.7 322.0L247.2 323.7L252.7 327.7L260.7 334.5L268.8 342.0L274.7 346.5L283.7 352.5L291.1 357.0L297.5 360.5L304.1 363.5L309.7 365.5L316.6 367.5L327.1 370.0L334.8 371.5L355.7 374.3L358.2 374.3L363.2 373.8L363.2 400.4L360.7 400.2L358.2 400.4L318.7 404.8L305.7 405.9L255.7 408.3L229.7 409.0L226.6 409.5L221.7 411.1Z" fill="#f6f6f8"/>
<path d="M221.7 410.5L220.2 410.9L218.7 410.8L217.7 410.5L216.7 409.9L215.4 408.0L214.4 404.5L214.0 399.5L214.1 391.5L215.5 367.0L216.5 361.5L217.1 356.0L218.5 353.0L221.5 340.5L224.1 332.5L225.9 328.5L228.7 324.1L230.7 322.2L232.7 321.4L235.7 321.0L239.7 321.5L243.7 322.7L247.2 324.4L252.7 328.5L260.2 334.9L268.2 342.3L273.7 346.6L282.7 352.6L290.2 357.2L297.2 361.1L303.7 364.0L309.7 366.2L316.7 368.2L327.2 370.7L334.2 372.0L355.7 374.9L358.7 374.9L363.2 374.4L363.2 399.8L361.2 399.6L358.7 399.7L318.2 404.2L305.7 405.3L254.2 407.8L229.7 408.4L226.4 409.0L221.7 410.5Z" fill="#f3f3f7"/>
<path d="M221.7 410.1L219.2 410.4L218.2 410.2L217.2 409.7L215.8 408.0L214.8 404.5L214.4 400.0L214.5 391.5L215.9 366.5L216.8 362.0L217.3 356.0L219.0 353.0L222.2 340.2L224.7 332.7L226.7 328.4L229.2 324.6L230.8 323.0L233.0 322.0L235.7 321.8L239.2 322.1L242.7 323.0L246.9 325.0L250.4 327.5L258.7 334.5L268.2 343.2L274.2 347.7L283.2 353.7L290.7 358.3L297.2 361.8L303.7 364.7L309.2 366.7L316.2 368.7L326.7 371.2L334.2 372.7L355.7 375.6L358.2 375.7L363.2 375.2L363.2 399.1L360.7 398.9L356.7 399.2L322.2 403.2L305.7 404.7L253.7 407.3L229.7 407.9L226.6 408.5L221.7 410.1Z" fill="#f1f1f5"/>
<path d="M220.2 410.0L218.7 410.0L217.7 409.6L216.3 408.0L215.3 405.0L214.8 400.5L214.8 390.5L215.8 372.0L216.3 365.5L217.0 361.5L217.4 356.5L218.0 355.0L219.3 353.5L223.2 339.8L226.7 331.0L230.2 325.6L231.7 324.2L233.2 323.5L236.2 323.3L239.7 323.8L243.5 325.0L246.3 326.5L251.7 330.5L258.9 336.5L267.7 344.4L272.2 347.8L281.2 353.8L289.2 358.7L296.7 362.8L302.2 365.3L307.7 367.4L314.2 369.3L331.2 373.2L355.2 376.9L358.2 377.1L363.2 376.8L363.2 397.6L359.7 397.6L335.5 401.0L317.8 403.0L306.0 404.0L279.2 405.3L253.2 406.9L229.7 407.6L227.0 408.0L222.2 409.6L220.2 410.0Z" fill="#ececf2"/>
<path d="M221.2 409.6L218.7 409.6L217.7 409.1L216.7 408.1L216.1 407.0L215.5 405.0L215.0 400.5L215.0 391.0L215.9 373.5L216.5 366.0L217.2 362.0L217.5 356.5L218.2 355.0L219.4 354.0L219.7 353.5L221.2 348.3L222.7 344.3L224.7 340.1L226.7 336.6L228.7 333.4L230.7 330.8L233.2 328.3L234.7 327.5L236.7 327.6L239.7 328.2L242.2 329.1L244.7 330.4L254.7 337.7L264.9 346.0L270.7 350.1L287.7 360.7L294.6 364.5L299.2 366.7L307.2 369.6L318.2 372.6L329.7 375.1L345.3 378.0L356.7 380.9L360.7 381.6L361.4 382.0L361.9 383.0L362.2 386.5L362.2 390.5L362.0 392.0L361.3 393.0L347.5 397.5L339.7 399.4L325.2 401.4L308.3 403.0L277.2 404.7L252.2 406.5L229.7 407.2L227.2 407.6L221.2 409.6Z" fill="#e7e7ed"/>
<path d="M222.2 409.1L219.2 409.4L218.2 409.1L217.2 408.3L216.4 407.0L215.9 405.5L215.3 401.5L215.3 391.0L216.1 374.5L216.8 364.5L217.3 362.0L217.7 356.5L218.2 355.3L219.9 354.0L222.2 347.4L223.7 344.7L225.7 342.0L228.7 338.6L232.2 335.1L235.2 332.7L236.7 332.1L239.7 332.8L243.2 334.6L253.2 341.2L263.2 348.6L269.2 352.7L286.4 363.0L297.0 368.5L303.7 371.1L312.2 373.6L322.7 376.1L340.2 379.6L345.2 380.8L349.7 382.5L356.0 385.5L357.2 386.3L357.6 387.0L357.5 388.5L356.7 389.3L351.1 393.0L346.6 395.5L340.7 397.8L332.7 399.4L322.2 400.8L308.7 402.0L275.2 404.1L251.7 406.1L229.7 406.9L226.7 407.5L222.2 409.1Z" fill="#e1e1e9"/>
<path d="M221.7 409.0L219.2 409.1L218.2 408.7L217.2 407.8L216.5 406.5L216.0 405.0L215.5 401.0L215.5 391.0L216.3 374.0L216.9 365.0L217.5 362.0L217.8 356.5L218.2 355.5L218.7 355.1L220.1 354.5L222.2 348.8L223.2 347.2L225.2 345.0L227.2 343.3L230.2 341.4L235.2 338.7L238.2 337.4L239.7 337.6L242.7 339.2L251.2 344.4L261.8 351.5L269.1 356.0L286.7 366.2L295.7 370.8L301.7 373.1L309.2 375.3L321.2 378.2L341.2 382.4L344.2 383.5L346.2 384.5L349.1 386.5L349.9 387.5L349.9 388.0L349.4 389.0L347.4 391.5L345.3 393.5L343.2 395.0L341.2 396.0L338.6 397.0L330.7 398.8L316.7 400.4L274.2 403.4L252.2 405.6L230.2 406.6L227.2 407.1L221.7 409.0Z" fill="#dbdbe5"/>
<path d="M222.7 408.6L221.2 408.9L219.7 409.0L218.7 408.7L217.7 408.0L216.5 406.0L215.8 402.0L215.6 395.5L215.9 384.5L216.5 373.5L217.1 365.0L217.6 362.0L217.9 356.5L218.2 355.8L218.7 355.3L220.3 355.0L222.7 349.1L223.7 347.8L225.2 346.6L227.2 345.6L229.7 344.7L237.2 343.3L240.2 343.0L242.2 343.7L249.2 347.6L262.4 355.5L272.9 361.5L288.2 370.0L295.7 373.6L301.2 375.6L307.7 377.4L339.2 384.5L342.7 386.0L344.0 387.0L344.5 388.0L344.3 389.5L343.6 391.5L342.5 393.0L340.8 394.5L338.9 395.5L336.2 396.5L328.7 398.1L316.2 399.5L271.2 402.8L251.2 405.3L230.2 406.3L226.7 407.0L222.7 408.6Z" fill="#d4d4e1"/>
<path d="M222.2 408.6L219.7 408.8L218.0 408.0L216.8 406.0L216.1 403.0L215.8 398.5L215.8 391.0L216.6 374.5L217.2 365.0L217.8 362.0L217.9 357.5L218.2 356.1L218.7 355.5L220.2 355.6L220.7 355.2L222.3 351.0L223.7 348.9L225.2 347.8L227.2 347.2L229.7 347.0L232.7 347.2L240.2 347.9L242.7 348.5L251.2 352.8L286.5 372.0L294.2 375.7L299.2 377.6L305.2 379.3L337.2 386.5L338.7 387.0L340.2 388.0L340.9 389.0L341.1 390.0L341.0 391.5L340.5 392.5L339.6 393.5L338.2 394.4L333.8 396.0L327.2 397.4L317.2 398.5L294.7 400.0L273.7 401.8L265.2 402.7L254.7 404.4L249.4 405.0L230.2 406.0L227.2 406.6L222.2 408.6Z" fill="#cecedc"/>
<path d="M221.7 408.5L219.7 408.6L218.7 408.2L217.9 407.5L216.8 405.5L216.2 402.0L216.0 396.5L216.0 390.5L216.7 375.0L217.4 365.0L217.9 362.0L218.2 356.5L218.7 355.8L219.2 355.7L220.2 356.0L220.7 355.9L221.3 355.0L222.7 351.6L223.7 350.0L224.7 349.1L226.2 348.6L228.2 348.6L231.2 349.2L238.2 351.2L244.7 353.6L257.2 359.6L287.7 375.6L295.2 378.9L304.2 381.6L334.7 388.4L337.7 389.6L338.7 390.5L338.9 391.0L338.7 392.0L338.3 392.5L335.7 394.0L330.7 395.5L325.3 396.5L315.3 397.5L296.2 398.8L279.2 400.3L266.2 401.8L250.2 404.5L242.7 405.2L229.7 405.9L227.0 406.5L221.7 408.5Z" fill="#c7c7d9"/>
<path d="M222.7 408.1L220.7 408.5L219.7 408.4L218.7 408.0L217.5 406.5L216.7 404.0L216.2 400.0L216.1 395.0L216.8 375.0L217.5 364.5L218.0 362.0L218.4 356.5L218.7 356.0L219.2 355.9L220.2 356.4L221.2 356.0L223.7 351.4L224.7 350.4L225.7 349.9L227.2 349.8L228.7 350.1L234.2 351.7L241.2 354.2L248.2 357.2L259.2 362.9L274.5 371.5L287.2 379.2L292.7 382.2L299.2 385.1L313.2 390.0L315.0 391.0L314.8 391.5L312.2 392.3L265.7 400.7L251.7 403.8L243.7 404.8L229.2 405.7L226.7 406.4L222.7 408.1Z" fill="#c4c4d7"/>
<path d="M222.2 408.1L220.7 408.3L219.7 408.2L218.2 407.2L217.2 405.3L216.6 402.0L216.3 396.5L216.4 390.5L217.6 365.0L218.1 362.5L218.3 357.5L218.6 356.5L219.2 356.2L220.2 356.7L221.2 356.5L224.7 352.1L226.2 351.3L227.7 351.3L229.7 351.7L239.2 354.7L247.7 358.2L254.1 361.5L276.3 376.0L290.9 387.5L292.3 389.0L292.1 389.5L290.4 390.5L280.0 394.5L254.7 402.5L250.2 403.6L244.7 404.4L229.4 405.5L226.7 406.2L222.2 408.1Z" fill="#c0c0d6"/>
<path d="M221.7 408.1L219.7 408.0L218.2 406.9L217.2 404.5L216.7 401.0L216.5 395.5L216.6 389.0L217.8 365.0L218.3 362.0L218.4 358.0L218.7 356.6L219.2 356.5L220.2 356.9L221.2 356.9L226.2 352.9L227.2 352.7L229.2 353.0L238.2 355.6L246.2 358.7L252.6 362.0L257.0 365.0L273.4 377.5L278.1 382.0L282.2 387.0L282.2 388.0L281.1 389.0L277.3 391.5L273.0 394.0L267.5 396.5L253.8 402.0L249.2 403.3L244.7 404.2L229.2 405.4L226.8 406.0L221.7 408.1Z" fill="#bdbdd4"/>
<path d="M222.7 407.6L221.2 408.0L220.2 407.9L219.2 407.6L218.6 407.0L217.6 405.0L216.9 400.5L216.7 391.5L217.3 375.5L218.0 364.5L218.5 362.0L218.6 357.5L218.8 357.0L219.2 356.8L220.2 357.2L221.2 357.2L226.7 354.4L228.7 354.3L233.7 355.4L238.2 356.7L243.7 358.8L248.2 360.8L251.7 362.8L254.7 365.0L268.7 377.0L273.0 381.5L275.7 385.5L275.9 386.5L275.0 388.0L272.6 390.5L269.4 393.0L265.2 395.5L253.1 401.5L248.8 403.0L244.2 403.9L228.7 405.3L226.7 405.9L222.7 407.6Z" fill="#b8b8d2"/>
<path d="M222.2 407.6L220.2 407.7L219.2 407.3L218.5 406.5L217.7 404.5L217.1 400.0L217.0 391.0L217.5 375.5L218.2 364.5L218.6 362.5L218.8 358.0L219.2 357.2L221.2 357.6L227.2 355.8L229.7 355.8L234.2 356.8L238.7 358.1L243.7 359.9L247.7 361.7L251.4 364.0L254.9 367.0L259.7 372.0L267.0 379.0L269.1 381.5L270.7 384.0L271.1 385.5L270.8 387.0L269.3 389.5L267.5 391.5L263.5 394.5L252.5 401.0L248.9 402.5L244.7 403.6L228.7 405.1L226.2 405.9L222.2 407.6Z" fill="#b3b3d1"/>
<path d="M221.7 407.5L220.7 407.6L219.7 407.3L218.5 406.0L217.7 403.2L217.3 399.0L217.2 391.0L217.7 376.5L218.4 365.0L218.9 362.5L219.2 357.8L221.2 358.0L228.2 357.1L232.7 357.7L236.2 358.5L241.7 360.3L245.7 361.9L248.6 363.5L251.2 365.4L253.4 367.5L258.2 373.3L264.0 379.5L266.0 382.0L267.1 384.0L267.5 385.5L267.3 387.0L266.5 389.0L264.5 391.5L261.5 394.0L253.6 399.5L248.8 402.0L245.7 403.0L243.2 403.5L228.7 404.9L226.2 405.7L221.7 407.5Z" fill="#aeaecf"/>
<path d="M222.2 407.1L221.2 407.3L220.2 407.2L219.7 406.9L218.9 406.0L218.2 404.0L217.6 399.5L217.6 390.0L218.2 375.0L218.9 365.0L219.7 358.6L228.2 358.6L233.7 359.4L241.2 361.5L246.8 364.0L249.7 365.9L251.7 367.9L256.7 374.5L262.9 382.0L264.1 384.0L264.6 385.5L264.6 387.0L263.9 389.0L261.4 392.0L254.7 397.5L251.2 400.0L248.4 401.5L245.8 402.5L242.2 403.3L228.7 404.8L226.7 405.3L222.2 407.1Z" fill="#a9a9cc"/>
<path d="M221.2 407.0L219.7 406.4L218.7 404.4L218.0 401.0L217.8 395.5L218.2 386.0L219.2 375.4L220.7 365.3L221.1 363.0L221.6 362.0L222.7 361.5L226.2 361.5L230.2 361.6L233.7 362.1L241.2 364.1L244.2 365.2L246.7 366.5L248.7 368.0L250.7 370.0L260.4 382.5L261.6 384.5L262.1 386.0L262.1 387.0L261.5 388.5L259.0 391.5L252.8 397.5L249.4 400.0L246.6 401.5L241.6 403.0L228.2 404.7L221.2 407.0Z" fill="#a2a2ca"/>
<path d="M223.2 406.1L221.7 406.5L220.7 406.3L219.8 405.5L219.3 404.5L218.4 401.0L218.2 395.5L218.7 388.5L220.0 381.5L221.9 373.0L224.2 365.9L225.2 365.0L226.2 364.8L229.7 364.7L232.7 365.0L240.2 366.6L243.2 367.6L245.7 368.9L247.7 370.4L249.7 372.4L257.6 382.5L258.8 384.5L259.4 386.0L259.4 387.0L258.9 388.0L256.3 391.5L251.8 396.5L248.9 399.0L245.6 401.0L243.2 402.0L239.5 403.0L228.7 404.4L223.2 406.1Z" fill="#9c9cc7"/>
<path d="M223.2 405.6L221.7 405.7L220.7 405.3L219.7 404.0L219.2 402.8L218.6 399.0L218.9 393.0L219.7 387.9L222.2 379.4L224.2 373.9L226.7 369.1L227.2 368.5L228.5 368.0L233.2 368.1L240.7 369.6L243.2 370.5L245.1 371.5L247.2 373.2L249.7 375.9L254.1 381.5L256.3 385.0L256.6 386.0L256.5 387.0L254.6 390.5L252.1 394.0L249.4 397.0L246.7 399.2L243.6 401.0L241.2 402.0L237.8 403.0L228.7 404.2L223.2 405.6Z" fill="#9393c3"/>
<path d="M222.7 405.0L221.7 404.9L220.7 404.3L219.9 403.0L219.3 401.5L219.1 398.0L219.6 392.5L220.5 388.5L222.7 382.8L225.2 377.3L227.2 374.0L229.5 371.5L230.2 371.2L231.7 371.0L235.2 371.3L240.2 372.2L242.7 373.0L244.7 374.2L246.8 376.0L249.2 378.7L252.5 383.0L253.8 385.5L253.9 387.0L253.2 389.0L251.9 391.5L250.3 394.0L248.2 396.5L246.0 398.5L242.9 400.5L239.7 402.0L235.7 403.1L222.7 405.0Z" fill="#8282ba"/>
<path d="M227.2 404.0L223.7 404.4L221.7 404.1L220.9 403.5L220.2 402.5L219.6 400.5L219.6 396.5L220.6 391.0L221.7 387.9L224.7 382.2L226.7 378.8L228.2 376.9L229.7 375.5L231.7 374.3L233.7 374.1L238.2 374.5L240.7 375.1L242.7 375.9L244.7 377.2L246.7 379.1L249.7 382.8L251.1 385.0L251.4 386.5L251.3 388.0L250.7 390.0L249.5 392.5L247.8 395.0L246.1 397.0L243.7 399.0L240.6 401.0L238.5 402.0L235.7 402.8L227.2 404.0Z" fill="#6c6cae"/>
<path d="M229.2 403.5L225.7 403.9L223.2 403.8L221.7 403.3L220.6 402.0L220.0 399.5L220.1 396.0L220.9 392.0L222.0 389.0L227.2 381.3L229.2 379.1L230.7 378.0L232.7 377.2L234.7 377.1L239.2 377.4L242.2 378.4L244.0 379.5L245.6 381.0L248.0 384.0L248.9 385.5L249.3 387.0L249.3 388.5L248.9 390.0L247.9 392.5L246.4 395.0L244.7 397.0L242.5 399.0L240.2 400.6L238.2 401.6L235.8 402.5L229.2 403.5Z" fill="#3f3f95"/>
<path d="M231.7 403.0L227.7 403.4L224.7 403.4L222.7 403.0L221.3 402.0L220.5 400.0L220.3 397.0L220.6 394.5L221.5 391.5L222.4 389.5L224.2 386.9L228.2 382.0L230.7 379.8L232.2 379.2L234.2 378.9L238.7 379.1L241.2 379.8L242.7 380.6L244.2 381.8L246.4 384.5L247.4 386.0L247.9 387.5L247.9 388.5L247.0 392.0L246.0 394.0L244.6 396.0L242.7 398.0L240.7 399.7L238.7 400.9L236.7 401.8L231.7 403.0Z" fill="#31308b"/>
<path d="M229.7 403.0L226.7 403.1L223.7 402.7L222.2 402.0L221.4 401.0L220.8 399.0L220.7 396.0L221.3 393.0L222.3 390.5L223.5 388.5L225.7 385.9L229.2 382.1L231.2 380.5L233.2 379.9L236.2 379.8L239.2 380.1L241.2 380.8L242.7 381.8L244.0 383.0L246.0 385.5L246.8 387.0L247.0 388.0L247.0 389.5L245.8 393.0L244.6 395.0L242.9 397.0L241.2 398.6L239.2 400.1L237.2 401.2L235.0 402.0L229.7 403.0Z" fill="#292783"/>
<path d="M231.2 402.5L228.7 402.8L226.2 402.7L223.7 402.1L222.2 401.1L221.4 399.5L220.9 396.5L221.2 394.5L221.9 392.0L222.9 390.0L224.4 388.0L229.2 383.0L231.2 381.4L232.7 380.7L235.2 380.5L238.2 380.7L240.2 381.2L241.7 382.1L243.2 383.4L245.0 385.5L245.9 387.0L246.3 389.0L245.6 392.0L243.5 395.5L241.8 397.5L239.7 399.2L236.2 401.2L231.2 402.5Z" fill="#221e7c"/>
<path d="M228.7 402.5L226.2 402.2L223.9 401.5L222.7 400.7L221.9 399.5L221.3 397.5L221.2 395.5L221.8 393.0L223.0 390.5L224.2 388.7L225.7 387.1L230.2 383.0L232.2 381.7L234.2 381.2L236.7 381.2L238.7 381.5L240.7 382.4L242.2 383.6L243.7 385.2L244.7 386.5L245.4 388.0L245.6 389.5L245.3 391.0L244.0 394.0L241.1 397.5L237.7 400.0L235.4 401.0L232.7 401.9L228.7 402.5Z" fill="#1a1574"/>
<path d="M230.7 402.0L228.7 402.2L226.7 401.9L224.2 401.0L222.8 400.0L221.9 398.5L221.4 396.5L221.6 394.5L222.3 392.5L223.3 390.5L224.8 388.5L231.7 382.7L233.2 382.1L235.2 381.8L237.2 381.9L238.7 382.3L241.5 384.0L244.2 387.2L244.7 388.3L244.9 389.5L244.4 392.0L243.4 394.0L242.3 395.5L239.3 398.5L235.7 400.4L230.7 402.0Z" fill="#371165"/>
<path d="M231.2 401.6L229.2 401.9L227.2 401.7L224.7 400.7L223.2 399.7L222.2 398.4L221.7 397.0L221.6 395.5L222.1 393.5L223.2 391.1L224.7 389.0L226.2 387.6L231.2 383.8L232.7 383.0L234.7 382.5L236.7 382.4L238.2 382.8L239.7 383.6L241.2 384.8L243.5 387.5L244.2 389.5L243.8 392.0L242.1 395.0L239.2 398.0L236.2 399.8L231.2 401.6Z" fill="#5a0d54"/>
<path d="M229.7 401.6L227.7 401.5L225.7 400.8L223.7 399.6L222.6 398.5L222.1 397.5L221.8 396.0L222.1 394.0L223.0 392.0L224.2 390.0L225.7 388.4L232.2 383.8L233.7 383.3L235.7 382.9L237.2 383.1L238.7 383.7L241.6 386.0L243.4 388.5L243.7 390.5L242.9 393.0L240.7 396.0L238.2 398.2L234.2 400.1L229.7 401.6Z" fill="#7c0a44"/>
<path d="M230.7 401.1L229.2 401.3L227.7 401.2L225.2 400.2L223.7 399.2L222.6 398.0L222.0 396.5L222.0 395.0L222.5 393.5L223.7 391.1L225.2 389.2L231.2 384.9L232.7 384.1L234.7 383.5L236.2 383.4L237.7 383.7L240.2 385.2L242.3 387.5L242.9 388.5L243.3 390.0L242.8 392.0L241.0 395.0L238.5 397.5L235.7 399.1L230.7 401.1Z" fill="#960b36"/>
<path d="M229.7 401.0L228.2 401.0L226.2 400.4L224.2 399.3L222.9 398.0L222.3 397.0L222.1 395.5L222.5 394.0L223.4 392.0L224.7 390.1L226.2 388.6L232.2 384.7L233.7 384.1L235.7 383.8L237.2 383.9L238.7 384.6L241.1 386.5L242.5 388.5L242.8 390.5L242.2 392.5L240.0 395.5L237.7 397.5L234.2 399.3L229.7 401.0Z" fill="#af0b29"/>
<path d="M230.2 400.6L228.7 400.8L226.7 400.4L224.7 399.4L223.2 398.1L222.5 397.0L222.3 395.5L223.4 392.5L224.7 390.4L226.1 389.0L232.2 385.1L233.7 384.5L235.7 384.2L237.2 384.3L238.7 384.9L240.7 386.5L242.2 388.5L242.5 390.5L241.7 392.5L239.7 395.2L237.7 397.0L235.1 398.5L230.2 400.6Z" fill="#c90c1b"/>
<path d="M229.2 400.6L227.7 400.5L225.7 399.8L224.2 398.8L223.0 397.5L222.6 396.5L222.6 395.0L223.1 393.5L224.2 391.5L225.3 390.0L226.7 388.8L232.7 385.2L234.7 384.6L236.2 384.5L237.7 384.8L239.2 385.6L240.8 387.0L242.0 389.0L242.1 390.5L241.2 392.6L239.2 395.1L237.0 397.0L231.2 399.9L229.2 400.6Z" fill="#d30d16"/>
<path d="M230.2 400.1L228.7 400.4L227.2 400.2L225.2 399.3L223.6 398.0L222.9 397.0L222.7 395.5L223.0 394.0L223.8 392.5L225.2 390.5L226.2 389.5L232.2 385.7L233.7 385.2L235.7 384.9L237.2 385.0L238.7 385.6L240.4 387.0L241.7 389.0L241.7 390.5L241.1 392.0L239.2 394.5L237.0 396.5L234.4 398.0L230.2 400.1Z" fill="#da0f12"/>
<path d="M229.2 400.1L227.7 400.1L225.7 399.4L224.2 398.4L223.1 397.0L222.8 396.0L223.0 394.5L224.7 391.4L225.7 390.2L227.2 389.0L232.7 385.9L234.7 385.4L236.7 385.3L237.7 385.5L239.2 386.3L240.7 387.9L241.3 389.5L241.2 390.7L240.2 392.5L238.2 394.8L236.2 396.5L230.8 399.5L229.2 400.1Z" fill="#e1110e"/>
<path d="M229.7 399.7L228.2 399.9L226.7 399.6L224.7 398.6L223.6 397.5L223.1 396.5L223.1 395.0L223.6 393.5L224.5 392.0L226.7 389.6L232.2 386.5L234.2 386.0L236.2 385.8L237.5 386.0L238.7 386.5L240.2 388.0L240.7 389.0L240.7 390.5L239.8 392.0L238.2 394.0L236.0 396.0L229.7 399.7Z" fill="#e81e0a"/>
<path d="M229.2 399.6L227.7 399.6L225.7 399.0L224.2 398.0L223.4 397.0L223.2 396.0L223.4 394.5L224.1 393.0L225.2 391.3L226.2 390.3L227.7 389.2L232.2 387.0L234.2 386.6L236.2 386.6L237.7 386.9L238.7 387.5L239.7 388.8L239.8 390.0L239.2 391.5L238.1 393.0L235.1 396.0L230.5 399.0L229.2 399.6Z" fill="#f03507"/>
<path d="M229.7 399.1L228.2 399.5L226.7 399.2L224.7 398.2L223.7 397.1L223.3 396.0L223.4 395.0L224.0 393.5L224.9 392.0L226.2 390.6L227.2 389.8L231.7 387.7L233.2 387.5L235.1 387.5L236.7 387.8L237.7 388.3L238.3 389.0L238.4 390.0L237.9 391.5L236.7 393.5L234.2 396.0L229.7 399.1Z" fill="#f84c03"/>
<path d="M229.2 399.0L228.2 399.2L226.7 399.0L225.2 398.4L224.2 397.5L223.6 396.5L223.5 395.5L223.9 394.0L224.8 392.5L226.0 391.0L227.2 390.1L230.7 388.6L232.2 388.3L233.7 388.3L236.2 389.1L236.7 389.5L236.9 390.5L236.4 392.0L235.7 393.5L233.4 396.0L230.9 398.0L229.2 399.0Z" fill="#ff6300"/>
<path d="M229.2 398.7L228.2 399.0L226.7 398.8L225.2 398.2L224.2 397.2L223.8 396.5L223.7 395.5L224.7 393.0L226.7 390.7L229.2 389.5L232.2 389.0L233.7 389.3L234.7 389.7L235.2 390.2L235.5 391.0L235.4 392.0L234.7 393.5L232.1 396.5L229.2 398.7Z" fill="#ff7e00"/>
<path d="M228.7 398.6L226.7 398.6L224.7 397.5L223.9 396.0L224.0 395.0L224.6 393.5L226.2 391.4L228.2 390.2L231.2 389.6L233.2 390.1L233.8 390.5L234.3 391.5L234.3 392.5L233.9 393.5L230.9 397.0L229.8 398.0L228.7 398.6Z" fill="#ff9900"/>
<path d="M228.7 398.2L227.7 398.4L226.7 398.3L225.7 397.9L224.7 397.2L224.2 396.0L224.6 394.0L226.2 391.8L227.7 390.8L230.2 390.2L232.1 390.5L233.2 391.5L233.3 392.5L233.0 393.5L230.3 397.0L228.7 398.2Z" fill="#ffb400"/>
<path d="M227.7 398.0L225.7 397.6L224.7 396.7L224.5 395.0L225.2 393.5L226.7 391.8L228.2 391.1L230.2 390.9L231.7 391.4L232.2 392.0L232.3 392.5L231.5 394.5L229.7 397.0L228.7 397.7L227.7 398.0Z" fill="#ffc200"/>
<path d="M227.7 397.5L226.2 397.4L225.2 396.7L224.9 395.5L225.2 394.2L226.2 392.8L227.2 392.1L228.7 391.8L230.3 392.0L230.8 392.5L231.0 393.0L230.5 394.5L229.2 396.6L227.7 397.5Z" fill="#ffce00"/>
<path d="M228.2 396.6L227.2 396.9L226.2 396.7L225.7 396.3L225.4 395.5L225.6 394.5L226.2 393.6L227.2 392.9L228.2 392.8L229.2 393.0L229.6 394.0L229.1 395.5L228.2 396.6Z" fill="#ffd904"/>
<path d="M227.2 396.1L226.7 396.0L226.2 395.5L226.1 395.0L226.7 394.1L227.7 393.8L228.2 394.1L228.3 395.0L227.7 395.9L227.2 396.1Z" fill="#ffe21a"/>
</g></g>
<path d="M212.7 387.7H362.2" stroke="#ff2a2a" stroke-width="1.3" stroke-dasharray="2.8 2.65" fill="none"/>
<path d="M219.3 360.2L270.5 241.0M250.5 406.6L362.2 353.4" stroke="#ff0000" stroke-width="1.45" fill="none"/>
<rect x="219.3" y="360.5" width="31.2" height="46.1" stroke="#ff0000" stroke-width="1.75" fill="none"/>
<rect x="270.5" y="241.0" width="91.7" height="112.4" fill="#fff" stroke="#5a5a5a" stroke-width="1.0"/>
<g clip-path="url(#cj4)"><rect x="278.2" y="252.7" width="72.4" height="85.2" fill="#00009c"/><g filter="url(#bl2)">
<path d="M347.2 340.2L276.2 340.2L276.2 277.4L277.2 276.5L281.4 270.7L285.4 266.2L289.6 262.2L293.7 259.1L297.2 257.0L301.2 255.3L305.7 253.9L309.7 253.1L313.7 252.7L317.7 252.8L321.7 253.4L325.7 254.4L329.7 255.9L333.7 257.9L337.2 260.0L340.8 262.7L343.7 265.4L346.6 268.7L349.1 272.2L351.7 276.5L352.7 277.5L352.7 334.0L351.7 334.8L347.2 340.2Z" fill="#0000b7"/>
<path d="M289.2 340.2L278.9 340.2L278.8 321.7L279.4 314.2L279.8 310.7L280.9 305.7L282.9 298.7L284.9 293.2L287.0 288.7L290.3 283.2L295.1 277.2L299.7 272.8L302.2 271.0L304.2 269.9L309.7 268.0L312.7 267.4L315.2 267.3L317.7 267.6L320.2 268.1L323.2 269.1L326.2 270.5L328.7 271.9L331.2 273.8L333.2 275.7L335.4 278.2L337.4 281.2L339.4 284.7L340.9 288.2L342.0 291.7L342.9 296.7L343.4 301.2L343.5 311.7L343.1 316.7L342.6 319.7L341.5 323.2L340.6 325.2L338.4 328.2L335.2 331.0L330.7 333.5L326.7 335.0L322.2 336.0L315.2 337.0L300.8 337.7L295.7 338.2L291.5 339.2L289.2 340.2Z" fill="#0000d2"/>
<path d="M284.2 340.2L281.7 340.2L281.0 336.7L280.5 330.7L280.2 323.7L280.4 319.2L280.9 314.2L282.0 308.2L284.4 300.7L287.7 293.3L290.7 287.9L295.9 281.2L299.7 277.2L303.6 274.2L307.2 272.4L312.2 271.1L316.7 271.1L319.2 271.5L321.7 272.4L326.7 274.9L328.7 276.3L330.7 278.2L332.7 280.6L334.7 283.5L337.6 289.2L339.5 295.2L340.2 299.2L340.7 304.2L340.7 313.2L340.3 317.2L339.7 320.2L338.9 322.7L337.6 325.2L335.6 327.7L332.7 330.1L329.2 332.0L325.2 333.5L320.7 334.5L314.7 335.4L298.2 336.6L293.2 337.2L287.2 338.7L285.2 339.5L284.2 340.2Z" fill="#0000ed"/>
<path d="M285.2 337.7L283.7 337.7L283.1 337.2L282.4 335.7L281.7 332.2L281.0 322.7L281.6 314.7L282.7 309.2L284.7 303.5L287.2 298.3L291.7 290.6L294.2 287.3L300.7 280.2L304.2 277.3L307.7 275.5L312.2 274.3L316.2 274.2L320.7 275.3L325.2 277.7L327.2 279.2L329.1 281.2L332.7 286.2L335.6 291.7L337.3 297.2L338.5 305.7L338.6 313.7L338.1 317.7L337.5 320.7L336.6 323.2L335.4 325.2L333.2 327.7L330.2 330.0L326.7 331.7L322.7 333.0L314.2 334.6L294.5 336.2L285.2 337.7Z" fill="#000aff"/>
<path d="M292.7 335.7L286.7 336.1L284.7 335.8L283.7 334.6L282.7 331.2L281.7 323.7L281.9 317.7L283.3 310.2L284.2 307.4L285.7 304.1L288.2 299.8L294.1 291.2L298.2 287.1L301.7 283.1L305.2 280.2L307.2 279.0L309.2 278.2L313.7 277.3L315.7 277.3L317.7 277.7L321.7 279.2L325.3 281.7L328.7 285.7L332.2 291.3L334.6 297.2L336.1 304.7L336.5 311.7L336.0 318.2L335.4 320.7L334.5 323.2L332.7 325.9L330.2 328.3L327.1 330.2L322.7 332.0L318.2 333.1L312.7 333.9L292.7 335.7Z" fill="#0029ff"/>
<path d="M299.2 334.7L292.2 335.1L288.2 335.0L285.7 334.4L284.7 333.4L283.7 331.2L283.1 328.7L282.3 322.2L282.4 319.2L282.8 315.7L284.3 309.7L285.7 306.4L287.7 303.1L294.6 294.2L296.7 292.0L300.1 289.2L302.7 286.1L304.7 284.2L308.2 281.9L311.7 280.8L315.2 280.5L318.7 281.3L322.2 283.2L325.1 286.2L329.3 292.2L330.9 295.2L332.1 298.2L333.7 304.7L334.4 310.7L334.1 316.7L333.0 321.7L331.5 324.7L329.3 327.2L326.7 329.1L323.2 330.7L319.7 331.8L314.7 332.9L299.2 334.7Z" fill="#0047ff"/>
<path d="M299.2 334.2L293.2 334.4L289.2 334.2L286.7 333.4L285.2 331.8L284.2 329.7L283.5 327.2L282.8 321.7L283.4 316.2L284.7 310.7L286.4 307.2L289.2 303.3L292.8 299.7L296.7 295.1L298.2 293.9L301.7 291.6L304.6 288.2L306.2 286.7L308.7 285.0L311.7 283.9L314.7 283.7L317.7 284.3L319.2 285.0L320.7 286.1L323.1 288.7L327.4 294.7L329.0 297.7L330.1 300.2L331.6 306.2L332.3 311.2L332.0 317.2L331.0 321.7L329.5 324.7L327.8 326.7L324.9 328.7L321.8 330.2L318.7 331.2L314.2 332.2L299.2 334.2Z" fill="#0066ff"/>
<path d="M299.7 333.7L295.2 333.9L290.2 333.6L288.7 333.2L287.2 332.4L285.7 330.8L284.9 329.2L284.1 326.7L283.4 321.7L283.8 317.2L285.2 311.5L286.8 308.2L289.7 304.6L294.1 300.7L298.2 296.6L303.4 293.7L306.7 290.0L308.1 288.7L310.2 287.5L312.2 286.9L314.7 286.8L316.7 287.3L318.2 288.1L319.4 289.2L323.7 294.4L326.9 299.2L328.3 302.2L329.8 307.7L330.4 312.2L330.0 317.7L329.0 322.2L327.8 324.7L326.5 326.2L323.6 328.2L320.7 329.6L314.2 331.4L299.7 333.7Z" fill="#0085ff"/>
<path d="M299.7 333.3L295.2 333.5L290.7 333.0L288.2 332.1L287.2 331.4L286.2 330.2L285.4 328.7L284.6 326.2L283.9 321.7L284.4 317.2L285.6 312.2L287.1 309.2L289.2 306.5L298.7 298.2L300.2 297.2L304.4 295.2L308.2 291.5L310.2 290.1L311.7 289.5L313.2 289.3L315.7 289.6L316.7 290.1L318.1 291.2L323.2 296.9L325.7 300.4L327.1 303.2L328.5 308.2L329.1 312.7L328.8 317.2L327.7 322.2L326.7 324.2L325.3 325.7L322.3 327.7L319.7 329.0L313.5 330.7L299.7 333.3Z" fill="#00a3ff"/>
<path d="M300.2 332.7L296.2 333.1L291.7 332.7L288.7 331.7L286.9 330.2L286.0 328.7L285.3 326.7L284.5 322.2L284.7 318.2L285.9 313.2L287.3 310.2L289.7 307.1L291.7 305.3L295.8 302.2L299.2 299.3L300.7 298.3L305.5 296.2L309.7 292.7L311.2 291.9L313.2 291.4L315.2 291.7L317.2 293.1L322.7 298.5L324.8 301.2L326.3 304.2L327.7 308.7L328.2 312.7L327.9 317.2L326.7 321.7L326.0 323.2L324.7 324.7L322.0 326.7L319.2 328.1L313.7 329.8L300.2 332.7Z" fill="#00c2ff"/>
<path d="M300.2 332.3L296.2 332.7L291.7 332.2L289.2 331.3L287.3 329.7L285.8 326.7L285.0 322.2L285.3 318.2L286.4 313.7L287.9 310.7L290.2 307.7L292.2 305.9L299.7 300.3L301.2 299.4L306.6 297.2L311.7 293.9L313.2 293.6L314.2 293.7L316.2 294.9L321.2 299.0L323.7 301.6L325.2 304.2L326.6 308.2L327.3 312.2L327.2 316.2L326.2 320.2L325.3 322.2L324.2 323.7L321.7 325.7L319.2 327.0L313.7 328.9L300.2 332.3Z" fill="#00e0ff"/>
<path d="M297.7 332.2L294.2 332.1L290.7 331.4L288.7 330.4L287.2 328.6L285.9 325.2L285.5 321.2L286.0 317.2L287.3 313.2L289.2 310.0L291.7 307.4L300.7 301.0L302.2 300.3L307.2 298.5L312.2 296.1L313.2 295.9L314.2 296.1L318.7 298.9L321.7 301.3L323.5 303.2L324.9 305.7L326.1 309.7L326.6 313.2L326.2 316.7L324.9 320.7L324.0 322.2L322.6 323.7L320.2 325.4L317.6 326.7L313.7 328.1L303.7 331.0L297.7 332.2Z" fill="#00ffff"/>
<path d="M298.2 331.8L294.7 331.8L290.7 330.9L288.7 329.7L287.8 328.7L287.0 327.2L286.4 325.2L286.0 322.7L286.2 318.7L287.5 314.2L289.7 310.5L293.2 307.1L301.2 302.1L303.2 301.2L312.2 298.4L313.7 298.4L315.2 298.9L318.7 300.8L321.2 302.6L322.7 304.0L324.1 306.2L325.1 309.2L325.7 312.2L325.7 314.7L325.4 316.7L324.2 319.7L323.0 321.7L320.2 324.2L316.2 326.3L303.2 330.6L298.2 331.8Z" fill="#1fffe0"/>
<path d="M298.7 331.3L295.2 331.4L291.2 330.6L288.9 329.2L287.5 327.2L286.9 325.2L286.5 323.2L286.6 319.2L287.9 314.7L290.2 311.0L292.7 308.5L295.7 306.5L302.2 302.9L305.7 301.8L311.7 300.6L313.7 300.5L317.7 302.1L321.2 304.2L322.7 305.7L323.5 307.2L324.5 310.2L325.0 312.7L324.9 314.7L324.5 316.7L323.4 319.2L322.2 321.0L319.2 323.6L315.7 325.5L303.2 330.1L298.7 331.3Z" fill="#3dffc2"/>
<path d="M299.2 330.8L295.7 331.1L291.7 330.3L290.2 329.6L289.2 328.9L287.8 326.7L286.9 322.7L287.2 318.7L288.5 314.7L290.7 311.5L293.2 309.1L296.2 307.1L302.2 304.1L305.7 303.1L311.2 302.4L313.7 302.5L318.2 303.9L321.2 305.6L322.2 306.7L323.2 308.8L323.9 311.2L324.2 313.7L324.0 315.2L323.3 317.2L321.2 320.5L318.7 322.7L315.2 324.7L303.2 329.5L299.2 330.8Z" fill="#5cffa3"/>
<path d="M297.2 330.7L293.7 330.5L290.7 329.4L289.7 328.7L288.8 327.7L287.9 325.7L287.4 321.7L287.9 317.7L289.2 314.5L291.7 311.3L294.2 309.3L297.2 307.5L302.7 305.1L305.7 304.3L310.2 304.0L314.2 304.3L318.7 305.6L320.2 306.3L321.2 307.1L322.1 308.7L322.9 310.7L323.3 312.7L323.3 314.2L322.9 315.7L322.2 317.2L320.0 320.2L317.2 322.5L314.0 324.2L302.2 329.4L299.2 330.4L297.2 330.7Z" fill="#7aff85"/>
<path d="M298.2 330.3L295.2 330.4L291.7 329.5L289.7 328.2L288.4 326.2L287.9 324.2L287.8 322.2L288.3 318.2L289.4 315.2L291.7 312.2L294.2 310.1L297.2 308.4L302.2 306.2L305.7 305.3L309.7 305.2L313.7 305.6L317.7 306.5L320.2 307.8L320.9 308.7L321.7 310.7L322.2 312.7L322.2 314.2L321.2 316.8L318.9 319.7L316.7 321.6L313.9 323.2L302.2 328.9L298.2 330.3Z" fill="#99ff66"/>
<path d="M298.7 329.8L295.7 330.1L292.7 329.5L290.2 328.2L288.8 326.2L288.4 324.7L288.2 322.7L288.6 318.7L289.6 315.7L291.7 312.9L294.2 310.8L296.7 309.4L301.7 307.3L305.2 306.3L308.7 306.1L312.7 306.5L316.7 307.5L319.2 308.8L319.9 309.7L320.5 311.2L320.9 312.7L320.9 314.2L319.8 316.7L317.8 319.2L316.0 320.7L313.7 322.2L308.2 325.0L302.6 328.2L298.7 329.8Z" fill="#b8ff47"/>
<path d="M297.2 329.8L294.2 329.6L291.7 328.8L290.2 327.7L289.0 325.7L288.5 322.2L289.0 318.7L290.1 315.7L292.2 313.1L294.7 311.2L297.7 309.6L302.2 307.9L305.7 307.0L309.2 307.0L312.2 307.4L316.2 308.7L318.2 309.9L319.2 311.8L319.5 313.2L319.4 314.2L318.2 316.7L316.2 319.1L314.1 320.7L307.7 324.3L302.2 327.9L299.5 329.2L297.2 329.8Z" fill="#d6ff29"/>
<path d="M298.2 329.3L295.7 329.5L292.7 328.9L290.7 327.7L289.8 326.7L289.3 325.7L288.9 322.7L289.3 319.2L290.3 316.2L292.2 313.8L294.7 311.9L297.7 310.3L302.2 308.7L305.7 307.9L308.7 307.8L311.7 308.2L314.7 309.3L316.9 310.7L317.8 312.2L317.9 314.2L317.0 316.2L315.5 318.2L313.7 319.7L307.2 323.6L301.7 327.7L298.2 329.3Z" fill="#f5ff0a"/>
<path d="M296.7 329.2L294.2 329.1L291.9 328.2L290.2 326.7L289.5 325.2L289.2 322.2L289.8 318.7L290.8 316.2L292.7 313.9L295.2 312.2L298.2 310.8L302.7 309.3L306.2 308.6L308.7 308.6L311.2 309.1L313.8 310.2L315.7 311.7L316.4 313.2L316.2 314.7L315.2 316.7L313.8 318.2L306.7 323.0L300.9 327.7L298.7 328.8L296.7 329.2Z" fill="#ffeb00"/>
<path d="M297.7 328.8L295.7 329.0L293.2 328.5L291.2 327.4L290.0 325.7L289.5 323.2L289.8 320.2L290.8 317.2L292.2 315.1L294.2 313.4L296.7 312.1L300.7 310.6L304.7 309.6L307.2 309.4L309.7 309.6L311.7 310.3L313.7 311.7L314.6 312.7L314.8 314.2L314.3 315.7L313.2 317.2L311.4 318.7L306.2 322.3L300.9 327.2L299.2 328.2L297.7 328.8Z" fill="#ffcc00"/>
<path d="M296.2 328.7L294.2 328.5L292.2 327.7L291.0 326.7L290.1 325.2L289.9 322.7L290.3 319.7L291.3 317.2L292.7 315.2L294.7 313.7L297.2 312.6L301.2 311.2L304.7 310.4L307.2 310.2L309.2 310.4L311.2 311.2L312.5 312.2L313.2 313.2L313.4 314.2L312.9 315.7L312.1 316.7L305.7 321.6L301.9 325.7L300.3 327.2L298.2 328.3L296.2 328.7Z" fill="#ffad00"/>
<path d="M297.2 328.3L295.2 328.4L293.2 327.9L291.4 326.7L290.5 325.2L290.2 323.2L290.5 320.7L291.3 318.2L292.5 316.2L294.2 314.7L296.1 313.7L302.7 311.6L305.2 311.2L307.7 311.1L309.2 311.4L310.8 312.2L311.6 313.2L311.9 314.2L311.7 315.2L311.2 316.0L304.7 321.4L300.3 326.7L298.8 327.7L297.2 328.3Z" fill="#ff8f00"/>
<path d="M297.7 327.8L295.7 328.2L293.7 327.8L291.8 326.7L290.8 325.2L290.5 323.2L290.7 321.2L291.5 318.7L292.7 316.7L293.8 315.7L295.7 314.6L298.2 313.7L302.2 312.7L307.2 312.2L308.7 312.5L309.7 313.1L310.3 314.2L309.7 315.5L304.2 320.7L300.3 326.2L299.0 327.2L297.7 327.8Z" fill="#ff7000"/>
<path d="M296.7 327.8L294.7 327.8L293.2 327.3L291.8 326.2L291.2 325.2L290.8 323.2L291.1 321.2L291.7 319.3L292.7 317.6L294.7 315.9L298.2 314.7L303.2 314.0L305.2 314.1L306.2 314.4L306.6 314.7L306.5 315.7L303.7 319.7L300.6 325.2L298.7 327.0L296.7 327.8Z" fill="#ff5200"/>
<path d="M297.2 327.3L295.7 327.6L294.2 327.4L292.9 326.7L291.9 325.7L291.4 324.7L291.2 323.2L291.8 320.2L293.2 317.9L295.2 316.5L298.7 315.8L300.7 315.7L302.2 316.0L303.1 316.7L303.1 317.7L301.2 323.2L299.7 325.7L298.6 326.7L297.2 327.3Z" fill="#ff3300"/>
<path d="M296.2 327.2L295.0 327.2L293.7 326.8L292.9 326.2L292.1 325.2L291.7 324.2L291.6 322.7L292.2 320.3L293.7 318.3L295.2 317.4L297.7 317.0L300.2 317.3L301.1 318.2L301.4 319.2L301.2 321.2L300.7 323.2L299.7 325.0L298.7 326.1L297.7 326.8L296.2 327.2Z" fill="#ff1400"/>
<path d="M296.2 326.8L295.2 326.8L294.2 326.5L292.7 325.2L292.1 323.7L292.2 321.7L293.2 319.8L294.7 318.6L296.7 318.1L298.7 318.3L299.7 318.9L300.2 319.7L300.4 321.2L300.2 322.7L299.6 324.2L298.7 325.5L297.7 326.2L296.2 326.8Z" fill="#f50000"/>
<path d="M297.2 325.7L295.7 326.1L294.7 325.9L293.7 325.2L293.1 324.2L292.8 322.7L293.2 321.3L294.1 320.2L295.2 319.6L296.2 319.4L297.7 319.6L298.7 320.1L299.2 321.0L299.3 322.2L298.9 323.7L298.2 324.9L297.2 325.7Z" fill="#d60000"/>
<path d="M296.7 323.8L295.7 324.1L295.2 323.8L294.9 323.2L295.2 322.1L296.2 321.8L296.9 322.2L297.1 323.2L296.7 323.8Z" fill="#b80000"/>
</g>
<path d="M330.7 252.7V337.9M278.2 305.1H350.6" stroke="#fff" stroke-opacity="0.6" stroke-width="0.6" fill="none"/>
</g>
<circle cx="296.2" cy="323.1" r="1.5" fill="none" stroke="#fff" stroke-width="0.8"/>
<rect x="353.4" y="257.1" width="2.5" height="77.0" fill="url(#jetg)"/>
<text class="cb" x="358.2" y="334.0">0.0</text>
<text class="cb" x="358.2" y="312.1">0.5</text>
<text class="cb" x="358.2" y="291.4">1.0</text>
<text class="cb" x="358.2" y="270.5">1.5</text>
<rect x="212.7" y="241.0" width="149.5" height="171.1" fill="none" stroke="#858585" stroke-width="1.2"/>
<path d="M218.4 412.1v3.6M251.5 412.1v3.6M284.6 412.1v3.6M317.7 412.1v3.6M350.8 412.1v3.6M212.7 406.0h-2.6M212.7 374.2h-2.6M212.7 342.4h-2.6M212.7 310.6h-2.6M212.7 278.8h-2.6M212.7 247.0h-2.6" stroke="#858585" stroke-width="0.9" fill="none"/>
<text class="tk" x="218.4" y="428.9" text-anchor="middle" textLength="3.87" lengthAdjust="spacingAndGlyphs">0</text>
<text class="tk" x="251.5" y="428.9" text-anchor="middle" textLength="3.87" lengthAdjust="spacingAndGlyphs">1</text>
<text class="tk" x="284.6" y="428.9" text-anchor="middle" textLength="3.87" lengthAdjust="spacingAndGlyphs">2</text>
<text class="tk" x="317.7" y="428.9" text-anchor="middle" textLength="3.87" lengthAdjust="spacingAndGlyphs">3</text>
<text class="tk" x="350.8" y="428.9" text-anchor="middle" textLength="3.87" lengthAdjust="spacingAndGlyphs">4</text>
<text class="tk" x="203.4" y="409.5" text-anchor="end" textLength="3.87" lengthAdjust="spacingAndGlyphs">0</text>
<text class="tk" x="203.4" y="377.7" text-anchor="end" textLength="3.87" lengthAdjust="spacingAndGlyphs">2</text>
<text class="tk" x="203.4" y="345.9" text-anchor="end" textLength="3.87" lengthAdjust="spacingAndGlyphs">4</text>
<text class="tk" x="203.4" y="314.1" text-anchor="end" textLength="3.87" lengthAdjust="spacingAndGlyphs">6</text>
<text class="tk" x="203.4" y="282.3" text-anchor="end" textLength="3.87" lengthAdjust="spacingAndGlyphs">8</text>
<text class="tk" x="203.4" y="250.5" text-anchor="end" textLength="7.74" lengthAdjust="spacingAndGlyphs">10</text>
<text class="ax" x="287.4" y="438.1" text-anchor="middle" textLength="90.4" lengthAdjust="spacingAndGlyphs">Significant Wave Height (m)</text>
<text class="ax" transform="translate(193.7 326.8) scale(0.8 1) rotate(-90)" x="0" y="0" text-anchor="middle" font-size="7.5">PCF</text>
<text class="tt" x="382.3" y="235.0" textLength="16.5" lengthAdjust="spacingAndGlyphs">Peak</text>
<text class="tt" x="401.0" y="235.0" textLength="25.2" lengthAdjust="spacingAndGlyphs">Control</text>
<text class="tt" x="430.2" y="235.0" textLength="20.8" lengthAdjust="spacingAndGlyphs">Factor</text>
<text class="tt" x="455.7" y="235.0" textLength="38.7" lengthAdjust="spacingAndGlyphs">Distribution</text>
<text class="tt" x="499.3" y="235.0" textLength="45.2" lengthAdjust="spacingAndGlyphs">(HeMOSU-2)</text>
<path d="M395.9 241.0V412.1M423.2 241.0V412.1M450.5 241.0V412.1M477.8 241.0V412.1M505.1 241.0V412.1M532.4 241.0V412.1M394.5 406.0H544.4M394.5 374.2H544.4M394.5 342.4H544.4M394.5 310.6H544.4M394.5 278.8H544.4M394.5 247.0H544.4" stroke="#ececec" stroke-width="0.8" fill="none"/>
<g clip-path="url(#cf5)"><g filter="url(#bl)">
<path d="M401.5 413.5L399.5 413.4L398.0 412.5L396.5 411.2L395.1 408.5L394.2 404.5L393.8 400.0L393.7 394.5L395.0 370.0L395.4 365.5L397.7 355.5L399.2 350.5L401.2 345.5L403.2 342.0L406.0 338.4L410.5 334.6L414.5 331.8L418.0 330.3L421.5 329.8L425.0 330.2L429.0 331.3L433.5 333.3L437.5 335.6L455.5 348.5L463.7 353.5L472.1 358.0L478.3 361.0L484.3 363.5L492.6 366.5L504.7 370.0L514.8 372.0L524.5 373.0L537.5 373.9L540.0 373.9L545.5 373.2L545.5 402.5L542.0 402.0L528.0 402.7L515.8 403.5L487.5 406.2L440.0 408.5L411.0 410.6L408.0 411.1L401.5 413.5Z" fill="#fafafb"/>
<path d="M402.0 412.1L400.5 412.2L399.5 412.0L398.5 411.6L397.3 410.5L396.0 408.0L395.3 404.5L395.0 399.0L395.1 390.0L396.0 370.0L396.4 365.5L398.8 354.5L401.4 347.5L403.8 343.0L406.5 339.4L410.5 335.9L415.0 332.7L418.5 331.2L421.5 330.8L425.0 331.2L428.5 332.2L433.0 334.2L437.5 336.9L455.1 349.5L462.5 354.0L470.8 358.5L476.9 361.5L482.7 364.0L490.9 367.0L504.5 371.0L514.6 373.0L524.3 374.0L537.5 374.9L540.0 374.9L545.5 374.2L545.5 401.4L542.0 400.9L530.2 401.5L515.6 402.5L487.0 405.3L431.6 408.0L409.5 409.7L407.0 410.3L402.0 412.1Z" fill="#f8f8fa"/>
<path d="M403.0 411.1L401.5 411.4L400.0 411.4L399.0 411.0L397.8 410.0L396.6 407.5L396.1 405.0L395.8 401.5L395.7 390.0L396.7 369.0L397.1 366.0L398.0 362.0L399.1 355.0L400.4 352.5L402.9 346.0L404.6 343.0L406.5 340.5L409.0 338.1L413.5 334.5L416.5 332.7L419.0 331.8L422.0 331.6L425.0 332.0L428.0 332.8L432.5 334.7L437.0 337.4L454.6 350.0L461.0 354.0L469.2 358.5L476.3 362.0L482.0 364.5L490.1 367.5L503.4 371.5L510.1 373.0L516.0 373.9L537.5 375.6L540.5 375.6L545.5 374.9L545.5 400.6L542.0 400.2L526.1 401.0L514.0 401.9L489.0 404.4L428.5 407.5L409.4 409.0L407.1 409.5L403.0 411.1Z" fill="#f6f6f8"/>
<path d="M402.5 410.7L401.0 410.9L400.0 410.8L399.0 410.4L398.0 409.3L397.3 408.0L396.8 406.0L396.2 401.0L396.3 390.0L397.2 369.5L399.3 355.5L399.6 354.5L401.0 352.5L403.5 346.1L406.9 341.0L409.4 338.5L413.9 335.0L416.5 333.4L419.0 332.5L422.0 332.2L425.0 332.6L428.5 333.7L432.5 335.4L436.7 338.0L454.0 350.4L461.0 354.7L469.0 359.1L476.5 362.8L483.0 365.6L490.0 368.1L503.5 372.2L510.0 373.6L516.0 374.6L537.5 376.3L540.5 376.2L545.5 375.6L545.5 399.9L542.0 399.6L525.5 400.4L513.5 401.3L488.5 403.8L443.0 406.0L428.0 407.0L409.0 408.5L406.9 409.0L402.5 410.7Z" fill="#f3f3f7"/>
<path d="M403.0 410.0L400.5 410.4L399.5 410.1L398.5 409.2L397.8 408.0L397.3 406.5L396.7 401.5L396.6 390.0L397.6 369.5L398.5 363.5L398.9 359.0L399.5 355.5L400.0 354.3L401.3 353.0L404.0 346.4L406.0 343.1L407.5 341.2L409.8 339.0L414.3 335.5L416.8 334.0L419.5 333.1L422.5 332.9L425.5 333.4L428.7 334.5L432.1 336.0L437.0 339.0L454.0 351.2L460.5 355.2L468.0 359.3L476.0 363.3L483.0 366.3L489.5 368.6L503.0 372.7L509.5 374.2L515.5 375.2L525.5 376.2L537.5 377.0L541.0 376.9L545.5 376.3L545.5 399.2L542.0 398.8L524.5 399.7L512.0 400.8L488.5 403.2L432.0 406.1L409.5 407.9L406.9 408.5L403.0 410.0Z" fill="#f1f1f5"/>
<path d="M401.5 410.0L400.5 410.0L399.5 409.6L398.2 408.0L397.3 404.5L396.9 400.0L396.9 390.5L397.8 370.0L398.8 363.0L399.1 358.5L399.7 355.5L400.2 354.5L401.6 353.5L404.5 346.7L408.0 341.9L410.0 340.0L414.7 336.5L417.4 335.0L419.5 334.3L422.0 334.1L424.8 334.5L427.9 335.5L431.4 337.0L435.6 339.5L453.0 351.8L459.5 355.8L467.5 360.2L474.5 363.7L480.5 366.3L487.0 368.8L502.5 373.7L513.5 376.3L520.0 377.3L537.5 379.4L540.5 379.5L545.5 379.1L545.5 396.3L541.5 396.2L522.5 398.1L497.0 401.5L487.7 402.5L436.0 405.3L410.5 407.4L407.2 408.0L401.5 410.0Z" fill="#ececf2"/>
<path d="M402.0 409.6L401.0 409.7L400.0 409.5L399.3 409.0L398.5 407.9L397.6 405.0L397.2 400.0L397.2 389.5L398.1 369.5L399.0 363.0L399.3 358.5L399.9 355.5L400.5 354.5L401.5 354.1L402.0 353.7L404.5 348.1L406.5 345.3L408.5 343.1L411.0 341.2L415.0 338.9L418.0 337.5L420.0 337.0L422.0 337.0L424.5 337.5L427.5 338.5L431.0 340.1L434.5 342.2L449.5 352.3L455.0 355.8L465.5 361.5L475.0 366.1L482.0 368.9L499.2 375.0L513.0 380.2L533.6 387.0L534.7 387.5L535.1 388.0L534.7 388.5L532.0 389.5L505.6 397.5L497.5 399.6L490.5 401.0L479.5 402.2L435.0 404.8L410.5 407.0L407.5 407.6L402.0 409.6Z" fill="#e7e7ed"/>
<path d="M403.0 409.0L401.5 409.4L400.5 409.3L399.5 408.8L399.0 408.2L398.4 407.0L397.9 405.0L397.4 400.5L397.4 390.5L398.3 370.0L399.1 364.0L399.4 359.0L400.0 355.7L400.5 354.8L402.0 354.5L405.0 348.7L406.5 346.8L408.5 345.0L410.5 343.5L412.5 342.5L416.5 341.0L419.5 340.1L421.0 339.9L423.0 340.2L426.0 341.3L429.5 342.8L433.5 345.1L450.6 356.0L458.6 360.5L468.0 365.2L475.5 368.6L493.0 375.0L499.0 377.5L506.3 381.5L513.3 386.0L515.1 387.5L515.1 388.0L514.8 388.5L513.4 389.5L508.2 392.5L503.3 395.0L495.8 398.0L488.2 400.0L479.5 401.2L437.5 403.9L411.0 406.6L407.5 407.2L403.0 409.0Z" fill="#e1e1e9"/>
<path d="M402.0 409.0L401.0 409.1L400.0 408.8L398.9 407.5L398.1 405.0L397.6 400.5L397.6 390.0L398.4 370.5L399.6 358.0L400.5 355.1L401.0 354.9L402.0 355.0L402.5 354.7L404.5 350.6L407.0 347.7L409.0 346.3L411.0 345.2L415.5 343.9L419.5 343.2L421.5 343.1L424.0 343.8L428.0 345.5L432.5 348.0L450.8 359.0L463.0 365.3L475.5 371.0L491.5 376.7L496.5 378.9L499.1 380.5L502.3 383.0L505.3 386.0L506.1 387.5L505.7 388.5L503.7 390.5L501.2 392.5L498.2 394.5L492.5 397.3L486.0 399.2L477.0 400.4L435.5 403.4L411.0 406.2L407.5 406.9L402.0 409.0Z" fill="#dbdbe5"/>
<path d="M403.0 408.5L401.5 408.8L400.5 408.7L399.2 407.5L398.3 405.0L397.9 401.0L397.8 391.5L398.2 380.0L398.7 369.5L399.3 364.5L399.7 358.5L400.5 355.4L401.0 355.1L402.5 355.4L404.5 351.7L406.0 349.8L408.5 348.0L411.5 346.9L415.5 346.4L421.0 346.4L423.0 346.7L426.0 348.0L433.0 351.7L450.0 361.4L462.0 367.3L474.5 372.8L489.0 377.9L493.5 379.9L496.0 381.4L497.9 383.0L499.9 385.5L500.5 387.0L500.1 388.5L498.7 390.5L496.6 392.5L494.7 394.0L490.1 396.5L484.5 398.3L477.0 399.4L442.5 402.1L425.1 404.0L409.5 406.0L407.5 406.6L403.0 408.5Z" fill="#d4d4e1"/>
<path d="M402.0 408.6L400.5 408.4L399.9 408.0L399.2 407.0L398.3 404.0L398.0 400.0L398.0 391.0L398.3 380.5L398.8 370.0L399.5 364.5L399.8 358.5L400.5 355.8L401.0 355.4L402.5 356.0L403.0 355.6L404.5 352.7L406.0 350.7L407.5 349.6L409.5 348.8L412.0 348.5L416.0 348.8L421.5 349.7L424.0 350.5L433.5 355.2L449.0 363.6L461.3 369.5L474.0 374.9L487.0 379.4L491.1 381.0L493.0 382.1L494.7 383.5L495.9 385.0L496.6 386.5L496.5 388.0L495.8 389.5L494.3 391.5L492.7 393.0L490.6 394.5L488.5 395.6L486.0 396.6L483.0 397.4L476.5 398.4L441.8 401.5L425.1 403.5L409.5 405.7L402.0 408.6Z" fill="#cecedc"/>
<path d="M403.0 408.1L401.0 408.3L400.0 407.7L399.5 407.1L398.6 404.5L398.2 400.5L398.1 395.0L398.3 385.5L398.9 370.0L399.5 365.5L399.8 359.0L400.7 356.0L401.0 355.7L402.5 356.4L403.0 356.2L406.0 351.7L407.5 350.6L409.0 350.1L411.5 350.0L415.0 350.7L420.0 352.2L424.0 353.8L433.5 358.3L448.3 366.0L460.3 371.5L472.2 376.5L485.5 381.0L489.4 382.5L492.4 384.5L493.2 385.5L493.6 386.5L493.7 388.0L493.1 389.5L492.0 391.0L490.5 392.5L488.5 394.0L486.5 395.0L482.0 396.5L475.5 397.6L441.3 401.0L422.1 403.5L409.5 405.4L407.5 406.1L403.0 408.1Z" fill="#c7c7d9"/>
<path d="M402.5 408.1L400.9 408.0L400.1 407.5L399.5 406.6L398.8 404.0L398.4 400.0L398.5 385.5L399.1 370.0L399.6 366.0L400.0 359.0L400.5 356.8L401.0 356.0L402.5 356.7L403.2 356.5L406.0 352.9L407.0 352.0L408.5 351.3L410.5 351.2L413.5 351.8L418.0 353.3L423.0 355.3L432.5 359.8L448.1 368.0L458.9 373.0L471.0 378.0L482.0 381.7L487.0 383.7L490.0 385.5L491.1 387.0L491.1 388.0L490.4 389.5L489.3 391.0L487.6 392.5L484.2 394.5L480.0 395.9L474.0 396.9L433.7 401.5L410.5 404.9L408.0 405.6L402.5 408.1Z" fill="#c4c4d7"/>
<path d="M403.5 407.6L401.5 407.9L400.5 407.5L400.0 407.0L399.1 404.5L398.6 400.5L398.4 395.0L398.6 386.0L399.3 370.0L399.8 366.5L400.1 359.0L400.5 357.3L401.0 356.4L402.5 357.0L403.0 357.0L403.8 356.5L406.5 353.7L408.5 352.6L410.5 352.5L413.5 353.1L418.0 354.6L423.0 356.7L432.0 361.0L446.0 368.8L453.0 372.2L465.5 377.7L481.8 383.5L486.5 385.9L487.5 386.7L488.2 387.5L488.2 388.5L487.6 389.5L485.2 392.0L482.0 394.0L478.0 395.4L473.0 396.3L431.3 401.5L411.0 404.6L408.0 405.4L403.5 407.6Z" fill="#c0c0d6"/>
<path d="M403.0 407.6L402.0 407.8L401.0 407.6L399.9 406.5L399.2 404.0L398.7 400.0L398.6 391.5L399.0 381.0L399.4 370.0L399.9 366.5L400.2 359.0L400.5 357.8L401.0 356.7L402.5 357.3L403.5 357.1L407.0 354.6L408.5 353.9L410.5 353.8L413.5 354.5L418.0 355.9L422.5 357.8L432.1 362.5L445.0 370.0L452.0 373.6L464.5 379.2L479.8 384.5L483.4 386.5L485.0 388.0L485.1 388.5L484.7 389.5L482.4 392.0L479.5 393.9L476.5 394.9L471.0 395.8L426.0 401.9L410.5 404.4L408.0 405.1L403.0 407.6Z" fill="#bdbdd4"/>
<path d="M402.5 407.5L401.0 407.3L400.0 406.0L399.3 403.5L398.9 399.5L399.0 384.5L399.6 370.0L400.1 366.5L400.5 358.5L401.0 357.2L401.5 357.1L403.0 357.6L409.0 355.2L411.0 355.2L415.0 356.2L423.0 359.3L432.2 364.0L444.5 371.6L451.5 375.3L463.5 380.7L478.5 385.7L481.0 387.2L482.0 388.5L481.9 389.5L481.4 390.5L479.6 392.5L478.0 393.5L475.5 394.3L452.3 398.0L424.5 401.9L410.5 404.2L408.0 404.9L402.5 407.5Z" fill="#b8b8d2"/>
<path d="M403.5 407.0L402.0 407.4L401.0 407.0L400.5 406.5L399.5 403.5L399.1 399.5L399.0 389.5L399.8 370.0L400.3 367.0L400.6 359.0L401.0 357.7L401.5 357.5L403.0 357.9L408.0 356.7L410.5 356.4L415.0 357.5L419.5 359.1L424.8 361.5L431.0 364.8L444.0 373.1L451.5 377.2L463.0 382.4L477.0 386.9L478.9 388.0L479.5 389.0L479.3 390.5L478.4 392.0L476.8 393.0L474.5 393.7L452.8 397.5L423.5 401.7L410.4 404.0L408.0 404.7L403.5 407.0Z" fill="#b3b3d1"/>
<path d="M402.5 407.1L401.5 407.0L401.0 406.6L400.1 405.0L399.4 401.5L399.2 397.5L399.3 389.0L400.0 370.5L400.6 366.0L400.9 359.0L401.0 358.3L401.5 357.9L403.0 358.3L407.0 357.8L411.0 357.8L415.5 358.9L419.8 360.5L425.0 363.0L430.5 366.0L443.0 374.4L451.0 378.9L462.0 383.9L475.5 388.0L477.0 388.9L477.7 390.0L477.6 391.0L476.7 392.0L473.5 393.1L452.9 397.0L424.0 401.3L410.0 403.9L408.0 404.5L404.2 406.5L402.5 407.1Z" fill="#aeaecf"/>
<path d="M403.5 406.6L402.0 406.8L400.9 406.0L399.9 403.5L399.4 399.5L399.4 390.5L400.0 377.9L400.5 369.5L400.9 367.5L401.3 360.0L401.5 358.8L407.0 358.9L411.5 359.5L415.5 360.5L419.6 362.0L424.8 364.5L430.1 367.5L442.5 376.1L452.5 381.6L461.5 385.8L473.8 389.5L474.9 390.0L475.4 390.5L475.0 391.2L472.8 392.0L456.7 395.5L440.4 398.5L424.5 400.9L409.5 403.8L407.5 404.5L403.5 406.6Z" fill="#a9a9cc"/>
<path d="M402.5 406.5L401.5 406.1L401.0 405.5L399.9 402.5L399.6 399.0L399.6 392.0L400.2 381.0L401.0 373.4L402.9 363.0L403.4 362.0L404.0 361.6L409.0 362.0L415.0 363.2L419.5 364.8L424.5 367.1L431.5 370.9L441.5 377.6L461.1 389.5L461.8 390.0L461.9 390.5L461.5 391.0L460.6 391.5L458.0 392.5L450.9 395.0L445.8 396.5L438.8 398.0L425.0 400.3L414.5 402.7L409.5 403.6L407.5 404.3L404.0 406.0L402.5 406.5Z" fill="#a2a2ca"/>
<path d="M403.0 406.0L402.0 405.9L401.0 404.7L400.3 403.0L399.9 400.5L399.8 392.5L400.7 382.0L401.5 377.2L403.0 372.7L405.6 366.5L406.4 365.5L407.0 365.2L411.5 365.7L416.5 366.8L421.5 368.7L428.0 371.7L432.5 374.2L446.6 383.0L451.8 387.0L453.5 388.5L454.2 389.5L454.2 390.0L453.8 390.5L451.4 392.0L446.5 394.5L443.0 395.8L436.5 397.4L427.0 399.1L414.6 402.5L409.0 403.6L403.0 406.0Z" fill="#9c9cc7"/>
<path d="M404.5 405.0L403.0 405.5L402.0 405.2L401.0 404.0L400.4 402.5L400.0 400.0L399.9 396.0L400.5 388.5L401.5 381.0L402.5 378.0L405.5 373.1L408.0 370.0L409.1 369.0L410.0 368.8L411.5 368.9L417.0 370.1L422.0 371.8L428.0 374.4L434.5 377.9L443.5 383.3L446.9 386.0L449.1 388.5L449.2 389.5L447.4 391.5L444.6 393.5L442.0 394.8L435.6 396.5L427.5 398.1L415.7 402.0L408.5 403.5L404.5 405.0Z" fill="#9393c3"/>
<path d="M404.5 404.6L403.0 404.9L402.0 404.5L401.5 404.1L400.6 402.5L400.3 400.5L400.1 396.0L400.4 392.0L402.1 382.0L403.0 379.4L404.5 377.4L407.5 375.0L411.5 372.5L413.5 372.4L418.0 373.4L423.5 375.2L428.5 377.3L434.5 380.2L441.1 384.0L443.8 386.0L445.5 388.0L445.7 388.5L445.5 389.5L444.6 391.0L443.0 392.6L440.5 394.0L434.5 395.7L427.5 397.2L416.0 401.7L407.9 403.5L404.5 404.6Z" fill="#8282ba"/>
<path d="M404.5 404.1L402.5 404.2L401.5 403.5L400.9 402.5L400.4 399.5L400.5 393.5L401.0 389.7L403.0 381.5L403.5 380.5L404.5 379.3L407.0 377.9L414.0 375.7L416.0 375.9L420.0 376.9L426.5 379.0L434.0 382.3L440.5 385.9L441.9 387.0L442.7 388.0L442.9 389.5L442.3 391.0L441.3 392.0L439.5 393.0L434.0 394.8L427.0 396.4L418.2 400.5L415.0 401.8L404.5 404.1Z" fill="#6c6cae"/>
<path d="M405.5 403.6L403.0 403.8L402.0 403.4L401.5 402.9L401.0 401.9L400.7 400.5L400.5 395.5L401.1 390.5L403.4 382.5L404.5 380.7L406.0 379.8L408.5 379.3L415.0 378.8L417.5 379.1L421.0 379.9L427.0 381.7L433.5 384.2L439.0 387.2L440.0 388.0L440.7 389.0L440.8 390.0L440.5 390.7L439.7 391.5L438.5 392.1L434.0 393.6L429.0 394.8L426.5 395.6L417.4 400.5L415.1 401.5L412.5 402.2L405.5 403.6Z" fill="#3f3f95"/>
<path d="M407.5 403.1L404.0 403.3L402.5 403.1L401.4 402.0L400.9 399.5L400.7 395.0L401.3 391.0L404.0 382.8L404.5 381.9L405.5 381.0L407.5 380.5L410.5 380.4L415.5 380.6L419.0 381.3L425.0 383.1L431.1 385.5L435.8 388.0L437.7 389.5L437.5 390.2L436.3 391.0L432.5 392.5L428.0 393.8L425.5 394.9L418.4 399.5L415.6 401.0L412.6 402.0L407.5 403.1Z" fill="#31308b"/>
<path d="M406.5 403.0L403.5 402.9L402.5 402.5L402.0 402.1L401.4 400.5L400.9 396.5L401.1 393.5L401.8 390.0L404.5 383.1L405.5 381.9L407.0 381.3L410.0 381.1L414.0 381.3L417.5 382.0L421.0 383.1L425.1 385.0L429.5 387.5L431.3 389.0L431.4 389.5L431.0 390.0L425.5 393.0L418.8 398.5L415.9 400.5L412.5 401.8L406.5 403.0Z" fill="#292783"/>
<path d="M408.5 402.6L407.0 402.8L405.5 402.8L402.7 402.0L402.0 401.0L401.2 397.5L401.1 394.5L401.8 391.0L404.5 384.4L405.8 382.5L407.5 381.9L410.0 381.7L413.5 381.9L416.4 382.5L419.1 383.5L421.9 385.0L424.7 387.0L426.2 388.5L426.4 389.0L425.9 390.0L423.5 392.3L418.9 397.5L416.7 399.5L413.5 401.2L408.5 402.6Z" fill="#221e7c"/>
<path d="M408.0 402.5L405.5 402.6L403.0 401.5L402.1 400.0L401.4 397.5L401.2 395.0L401.7 392.0L402.8 389.0L404.5 385.4L406.0 383.2L407.0 382.6L408.5 382.3L413.5 382.5L415.5 383.0L417.9 384.0L420.2 385.5L422.2 387.5L423.1 389.0L422.8 390.0L418.3 397.0L416.0 399.5L413.4 401.0L408.0 402.5Z" fill="#1a1574"/>
<path d="M407.0 402.6L405.0 402.2L403.5 401.4L402.8 400.5L401.7 398.0L401.4 395.5L401.6 393.5L402.2 391.0L403.3 388.5L405.5 384.6L406.5 383.6L407.5 383.1L409.5 382.8L412.0 382.9L414.0 383.2L416.1 384.0L417.8 385.0L418.9 386.0L420.0 387.5L420.7 389.0L420.4 390.5L418.2 395.5L416.7 398.0L414.6 400.0L411.5 401.4L407.0 402.6Z" fill="#371165"/>
<path d="M408.5 402.1L407.0 402.4L405.5 402.2L404.2 401.5L403.0 400.3L402.1 398.5L401.6 396.5L401.6 394.5L402.0 392.5L402.8 390.0L404.1 387.5L405.5 385.3L406.5 384.3L407.5 383.7L409.5 383.3L411.5 383.3L413.5 383.7L415.0 384.3L416.5 385.2L417.8 386.5L418.4 387.5L418.8 389.5L417.7 394.0L416.7 397.0L415.2 399.0L412.5 400.8L408.5 402.1Z" fill="#5a0d54"/>
<path d="M408.0 402.1L406.5 402.3L405.0 401.8L404.0 401.0L402.8 399.5L402.1 398.0L401.7 396.0L401.7 394.5L402.1 392.5L404.1 388.0L405.4 386.0L406.5 384.8L407.5 384.3L409.0 383.8L411.0 383.8L413.0 384.1L414.5 384.7L415.8 385.5L416.8 386.5L417.3 387.5L417.5 390.0L416.6 395.5L415.8 397.5L414.1 399.5L411.5 401.0L408.0 402.1Z" fill="#7c0a44"/>
<path d="M407.5 402.1L406.0 402.0L404.9 401.5L403.8 400.5L402.7 399.0L402.1 397.5L401.8 396.0L401.9 394.5L402.3 392.5L404.4 388.0L405.5 386.2L406.5 385.3L408.0 384.5L409.5 384.2L411.5 384.2L413.0 384.5L414.5 385.2L415.5 386.0L416.3 387.0L416.7 388.0L416.7 391.0L415.7 396.5L414.6 398.5L412.8 400.0L410.8 401.0L407.5 402.1Z" fill="#960b36"/>
<path d="M408.5 401.7L407.0 402.0L406.0 401.9L405.0 401.4L403.6 400.0L402.7 398.5L402.1 397.0L401.9 395.5L402.1 394.0L403.5 390.0L406.0 386.1L407.0 385.3L408.5 384.7L410.0 384.6L412.0 384.7L414.5 385.7L415.4 386.5L416.0 387.5L416.3 388.5L416.3 390.0L415.7 395.0L414.8 397.5L413.7 399.0L411.5 400.5L408.5 401.7Z" fill="#af0b29"/>
<path d="M408.0 401.7L406.5 401.8L405.5 401.5L404.5 400.8L403.4 399.5L402.6 398.0L402.2 396.5L402.1 395.0L402.3 393.5L404.0 389.4L405.5 387.0L406.5 386.0L407.5 385.4L409.0 385.0L411.0 384.9L412.5 385.2L414.5 386.2L415.2 387.0L415.7 388.0L415.8 391.0L415.2 395.5L414.4 397.5L413.2 399.0L411.0 400.5L408.0 401.7Z" fill="#c90c1b"/>
<path d="M407.5 401.6L406.5 401.7L405.5 401.3L404.4 400.5L403.2 399.0L402.6 397.5L402.2 396.0L402.3 394.5L402.6 393.0L404.2 389.5L405.5 387.4L406.5 386.3L407.5 385.7L409.0 385.3L411.0 385.3L412.5 385.5L413.5 386.0L414.5 386.8L415.4 388.5L415.4 392.0L414.6 396.0L413.7 398.0L412.2 399.5L410.4 400.5L407.5 401.6Z" fill="#d30d16"/>
<path d="M407.0 401.5L406.0 401.4L405.0 400.8L404.0 399.8L403.1 398.5L402.4 396.0L402.4 394.5L402.8 393.0L404.4 389.5L406.5 386.7L407.5 386.1L409.0 385.7L411.0 385.6L412.5 385.9L414.2 387.0L414.8 388.0L415.1 389.0L415.1 392.0L414.2 396.0L413.3 398.0L411.8 399.5L408.8 401.0L407.0 401.5Z" fill="#da0f12"/>
<path d="M408.0 401.1L407.0 401.3L406.0 401.2L405.0 400.6L403.9 399.5L403.0 398.0L402.5 396.5L402.7 394.0L404.1 390.5L406.5 387.0L407.5 386.4L409.0 386.1L412.0 386.2L413.6 387.0L414.4 388.0L414.7 389.0L414.8 391.5L414.2 395.0L413.2 397.5L412.0 399.0L410.5 400.0L408.0 401.1Z" fill="#e1110e"/>
<path d="M407.5 401.1L406.5 401.1L405.5 400.8L404.5 400.0L403.5 398.7L403.0 397.5L402.6 396.0L403.0 393.5L404.5 390.1L406.0 388.0L407.0 387.0L409.5 386.4L412.0 386.6L413.5 387.6L414.4 389.5L414.5 392.0L413.8 395.0L413.1 397.0L412.0 398.6L410.5 399.7L407.5 401.1Z" fill="#e81e0a"/>
<path d="M408.0 400.7L407.0 401.0L406.0 400.8L405.0 400.3L404.0 399.2L403.3 398.0L402.8 396.5L403.0 394.0L404.5 390.5L407.0 387.5L408.5 387.0L411.5 387.0L413.0 387.8L414.0 389.5L414.2 391.5L413.8 394.0L412.7 397.0L411.7 398.5L410.4 399.5L408.0 400.7Z" fill="#f03507"/>
<path d="M407.5 400.6L406.5 400.7L405.7 400.5L404.0 399.0L403.0 396.5L403.1 394.0L404.0 391.9L405.0 390.1L407.0 388.1L408.9 387.5L411.5 387.6L412.9 388.5L413.7 390.0L413.9 392.0L413.3 394.5L412.3 397.0L411.3 398.5L409.9 399.5L407.5 400.6Z" fill="#f84c03"/>
<path d="M407.0 400.5L406.0 400.4L405.0 399.9L403.6 398.0L403.1 396.0L403.5 393.5L405.0 390.6L407.0 388.7L409.0 388.1L411.5 388.3L412.5 388.9L413.0 389.5L413.5 390.9L413.5 392.5L412.8 395.0L412.0 397.0L410.8 398.5L409.4 399.5L407.0 400.5Z" fill="#ff6300"/>
<path d="M407.5 400.1L406.5 400.3L405.5 400.0L404.0 398.5L403.3 396.5L403.5 394.0L405.0 391.0L406.5 389.5L408.5 388.7L411.0 388.8L412.0 389.3L413.0 390.6L413.2 392.0L412.8 394.0L412.0 396.2L410.9 398.0L409.7 399.0L407.5 400.1Z" fill="#ff7e00"/>
<path d="M406.5 400.0L405.0 399.4L403.8 397.5L403.4 395.5L404.0 393.3L405.5 390.8L407.0 389.8L409.5 389.3L411.5 389.7L412.5 390.6L412.9 392.0L412.5 393.9L411.5 396.4L410.8 397.5L409.8 398.5L408.0 399.6L406.5 400.0Z" fill="#ff9900"/>
<path d="M407.0 399.6L405.5 399.4L404.5 398.5L403.7 396.5L403.7 395.5L404.0 394.0L405.0 392.1L406.5 390.5L408.5 390.0L411.0 390.2L412.0 390.9L412.4 392.0L412.2 393.5L411.5 395.4L410.6 397.0L409.8 398.0L408.4 399.0L407.0 399.6Z" fill="#ffb400"/>
<path d="M407.0 399.1L405.5 399.0L404.5 398.0L404.0 396.0L404.0 395.0L404.5 393.7L405.5 392.1L407.0 391.0L409.0 390.8L411.0 391.2L411.5 391.6L411.7 392.5L411.5 393.8L410.6 396.0L409.1 398.0L407.0 399.1Z" fill="#ffc200"/>
<path d="M406.5 398.6L405.5 398.4L404.5 397.0L404.4 395.0L405.0 393.7L406.0 392.4L407.0 391.9L408.5 391.8L410.0 392.2L410.5 392.8L410.6 393.5L410.2 395.0L409.5 396.5L408.1 398.0L406.5 398.6Z" fill="#ffce00"/>
<path d="M407.0 397.7L406.0 397.7L405.5 397.4L405.0 396.5L405.0 395.0L406.0 393.5L407.0 392.9L408.0 392.9L409.1 393.5L409.2 395.0L408.5 396.6L407.0 397.7Z" fill="#ffd904"/>
<path d="M407.0 396.7L406.0 396.6L405.6 395.5L406.0 394.6L407.0 394.1L407.5 394.1L407.9 394.5L408.1 395.0L407.8 396.0L407.0 396.7Z" fill="#ffe21a"/>
</g></g>
<path d="M394.5 388.3H544.4" stroke="#ff2a2a" stroke-width="1.3" stroke-dasharray="2.8 2.65" fill="none"/>
<path d="M399.9 359.4L452.4 241.0M424.0 405.1L544.4 353.4" stroke="#ff0000" stroke-width="1.45" fill="none"/>
<rect x="399.9" y="359.7" width="24.1" height="45.4" stroke="#ff0000" stroke-width="1.75" fill="none"/>
<rect x="452.4" y="241.0" width="92.0" height="112.4" fill="#fff" stroke="#5a5a5a" stroke-width="1.0"/>
<g clip-path="url(#cj5)"><rect x="459.8" y="252.7" width="72.8" height="85.3" fill="#00009c"/><g filter="url(#bl2)">
<path d="M534.8 340.2L457.8 340.2L457.8 282.4L458.8 281.7L462.1 278.2L465.3 275.2L468.8 272.5L473.3 269.4L477.3 267.0L481.3 265.0L485.3 263.4L489.3 262.1L496.3 260.6L503.3 260.0L510.3 260.2L521.3 261.9L529.8 260.9L534.8 260.8L534.8 340.2Z" fill="#0000b7"/>
<path d="M470.3 340.2L460.7 340.2L460.6 326.2L461.0 318.7L461.6 312.7L462.5 307.7L463.5 304.2L465.5 298.7L467.5 294.7L469.5 291.7L472.3 288.5L477.8 283.9L483.8 280.0L490.3 277.1L496.3 275.4L500.8 274.8L506.3 274.6L510.3 275.0L519.3 276.4L521.8 276.6L530.8 275.6L534.8 275.6L534.8 328.8L531.3 329.1L524.3 329.0L521.3 329.2L488.3 337.0L482.8 338.0L472.9 339.2L471.1 339.7L470.3 340.2Z" fill="#0000d2"/>
<path d="M465.8 340.2L463.5 340.2L462.5 332.2L462.2 327.7L462.2 323.7L462.6 318.2L463.4 312.7L465.4 305.2L468.2 298.7L471.3 293.7L473.3 291.4L475.6 289.2L480.8 285.3L486.3 282.1L491.8 279.9L497.3 278.6L502.3 278.1L506.8 278.1L518.8 280.1L521.8 280.3L524.3 280.3L531.3 279.5L534.8 279.6L534.8 326.6L530.8 327.0L523.3 327.2L520.3 327.6L487.3 335.8L482.8 336.5L474.8 337.2L470.3 337.9L467.9 338.7L466.5 339.7L466.2 340.2L465.8 340.2Z" fill="#0000ed"/>
<path d="M466.8 337.3L465.5 337.2L464.7 336.2L463.8 332.6L463.1 328.2L463.1 321.7L463.6 317.2L464.3 313.2L466.8 305.5L469.8 299.4L471.8 296.5L473.8 294.0L478.3 289.8L483.3 286.4L488.3 283.9L493.3 282.2L498.8 281.3L503.3 281.0L507.3 281.2L518.8 283.3L522.3 283.7L532.3 283.1L534.8 284.0L534.8 325.0L524.3 325.9L520.8 326.4L487.3 335.1L481.8 335.8L470.3 336.7L466.8 337.3Z" fill="#000aff"/>
<path d="M481.3 335.2L471.3 335.5L467.8 335.5L466.8 335.2L465.8 334.2L465.2 332.7L464.2 329.2L463.7 326.2L463.8 321.7L464.7 315.7L465.7 312.2L467.8 306.8L469.8 302.7L471.8 299.7L474.8 296.1L478.3 292.7L483.3 289.2L488.8 286.4L494.3 284.8L500.3 284.1L503.8 284.0L507.3 284.3L521.8 287.1L530.3 286.9L531.3 287.3L533.8 289.4L534.8 289.9L534.8 323.4L521.8 325.2L489.8 334.0L485.8 334.8L481.3 335.2Z" fill="#0029ff"/>
<path d="M485.8 334.2L481.3 334.6L475.3 334.7L471.3 334.5L468.3 334.0L467.3 333.4L466.3 332.0L465.1 329.2L464.5 326.7L464.3 322.7L465.1 317.2L466.0 314.2L468.3 309.0L470.3 305.0L472.3 302.0L475.3 298.5L479.3 294.7L484.3 291.3L489.3 288.9L494.8 287.5L500.8 287.0L507.3 287.4L521.3 290.4L527.8 290.6L529.3 291.1L533.3 293.2L534.8 293.7L534.8 321.8L526.3 323.2L521.8 324.1L490.3 333.3L485.8 334.2Z" fill="#0047ff"/>
<path d="M485.8 333.7L481.3 334.1L475.8 334.0L471.8 333.6L469.3 332.9L467.8 331.9L466.6 330.2L465.4 327.7L465.0 325.7L465.0 321.7L466.0 316.7L467.0 314.2L469.8 308.8L471.8 305.5L473.8 302.9L477.8 299.0L481.3 295.9L485.8 293.1L490.3 291.2L494.8 290.2L500.3 289.9L506.8 290.4L519.3 293.5L526.3 294.3L534.8 296.2L534.8 320.3L529.8 321.1L523.3 322.6L490.3 332.8L485.8 333.7Z" fill="#0066ff"/>
<path d="M485.8 333.3L481.8 333.6L476.8 333.5L472.8 333.1L470.3 332.4L468.5 331.2L467.0 329.2L466.0 327.2L465.5 324.7L465.8 320.7L467.0 316.2L467.9 314.2L471.5 308.2L473.3 305.7L475.3 303.6L482.8 297.3L486.8 295.0L490.8 293.5L494.3 292.8L498.8 292.7L502.8 292.9L506.3 293.4L518.3 296.6L521.3 297.2L524.8 297.6L534.8 298.1L534.8 318.7L530.3 319.3L524.3 320.9L490.5 332.2L485.8 333.3Z" fill="#0085ff"/>
<path d="M486.3 332.8L481.8 333.2L477.3 333.1L473.8 332.8L470.8 332.0L468.9 330.7L467.4 328.7L466.5 326.7L466.1 324.7L466.4 320.7L467.5 316.7L468.5 314.7L472.0 309.2L473.8 306.7L475.8 304.5L483.8 298.3L487.3 296.4L491.3 295.0L495.3 294.5L500.3 294.5L503.8 294.8L506.8 295.4L521.8 299.9L525.3 300.4L534.8 301.0L534.8 316.0L531.3 316.5L528.8 317.2L505.8 326.2L490.3 331.8L486.3 332.8Z" fill="#00a3ff"/>
<path d="M482.8 332.7L479.3 332.8L475.3 332.6L472.3 332.1L470.8 331.5L469.2 330.2L467.5 327.7L466.8 325.7L466.7 323.2L467.2 319.7L468.4 316.2L473.8 307.9L475.6 305.7L477.8 303.8L482.3 300.4L485.3 298.6L489.3 296.9L493.3 296.0L498.3 295.8L503.8 296.2L506.8 296.8L511.1 298.2L522.3 302.7L532.3 305.0L534.8 305.9L534.8 310.6L533.2 311.7L528.3 313.7L513.2 321.7L503.0 326.2L489.3 331.6L486.3 332.3L482.8 332.7Z" fill="#00c2ff"/>
<path d="M484.3 332.2L480.8 332.5L476.8 332.4L473.3 332.0L471.3 331.3L469.8 330.2L468.3 328.2L467.5 326.2L467.3 323.7L467.7 320.2L468.9 316.7L474.0 308.7L475.8 306.5L477.8 304.6L484.8 299.9L489.3 298.0L493.3 297.2L499.3 297.0L504.8 297.7L508.4 298.7L512.1 300.2L520.8 305.3L525.4 307.7L526.7 308.7L526.8 309.2L526.6 309.7L525.0 311.2L516.3 317.7L510.6 321.2L501.7 325.7L491.6 330.2L487.8 331.6L484.3 332.2Z" fill="#00e0ff"/>
<path d="M480.3 332.2L474.3 331.8L472.3 331.3L470.8 330.6L469.4 329.2L468.4 327.2L467.9 325.2L467.8 323.2L468.3 320.2L469.3 317.2L473.8 310.0L475.8 307.4L477.8 305.4L482.8 302.0L486.8 299.9L492.3 298.5L498.3 298.3L503.8 298.8L508.3 300.1L511.5 301.7L515.3 304.7L519.8 309.2L520.0 310.2L519.4 311.2L515.7 315.2L511.4 318.7L506.8 321.7L497.7 326.7L489.8 330.4L485.3 331.7L480.3 332.2Z" fill="#00ffff"/>
<path d="M482.8 331.7L476.8 331.8L474.3 331.5L472.3 331.0L470.9 330.2L469.9 329.2L469.1 327.7L468.5 325.7L468.4 323.7L468.6 321.7L469.9 317.2L474.3 310.4L477.8 306.2L480.8 304.0L485.8 301.3L489.8 300.1L493.8 299.6L499.8 299.6L504.3 300.2L508.5 301.7L510.1 302.7L511.8 304.2L514.8 308.2L515.4 309.2L515.7 310.2L515.4 311.2L514.4 312.7L511.0 316.7L508.6 318.7L505.1 321.2L494.2 327.7L488.3 330.5L482.8 331.7Z" fill="#1fffe0"/>
<path d="M483.8 331.3L481.3 331.6L478.3 331.6L475.3 331.4L472.8 330.8L471.5 330.2L470.4 329.2L469.2 326.7L468.9 324.7L469.0 322.7L469.5 320.2L470.4 317.7L473.8 312.1L477.2 307.7L479.8 305.4L483.3 303.4L486.8 301.9L491.3 301.0L496.8 300.7L502.3 301.1L506.3 302.2L508.9 303.7L510.2 305.2L511.1 306.7L512.0 308.7L512.3 310.2L512.2 311.2L511.5 312.7L508.9 316.2L506.8 318.2L503.6 320.7L493.9 327.2L488.8 329.9L483.8 331.3Z" fill="#3dffc2"/>
<path d="M481.8 331.2L476.8 331.2L472.8 330.5L471.8 330.0L470.8 329.1L470.0 327.7L469.6 326.2L469.5 324.2L469.6 322.2L471.0 317.7L474.4 312.2L478.0 307.7L479.8 306.1L482.3 304.7L486.3 303.0L489.8 302.3L495.3 301.9L501.3 302.2L504.8 303.0L507.3 304.3L508.4 305.7L509.1 307.2L509.6 309.2L509.6 310.7L508.5 313.7L506.2 316.7L503.5 319.2L499.2 322.7L492.0 327.7L487.3 330.0L484.3 330.8L481.8 331.2Z" fill="#5cffa3"/>
<path d="M483.3 330.7L478.8 331.1L473.8 330.5L472.3 329.9L471.4 329.2L470.3 327.2L470.0 325.2L470.0 323.2L470.4 321.2L471.1 318.7L472.1 316.7L473.8 314.1L477.9 308.7L479.8 306.9L481.8 305.6L485.8 303.9L488.3 303.3L494.3 303.0L500.3 303.2L503.8 303.9L505.3 304.5L506.2 305.2L506.9 306.2L507.3 307.2L507.6 309.2L507.6 310.7L506.6 313.7L504.5 316.7L498.6 322.2L492.3 327.0L487.8 329.4L483.3 330.7Z" fill="#7aff85"/>
<path d="M480.8 330.7L476.3 330.6L472.8 329.8L471.9 329.2L471.2 328.2L470.5 325.7L470.5 323.7L470.8 321.7L472.2 317.7L475.4 312.7L479.2 308.2L480.8 306.8L482.8 305.8L486.3 304.4L488.8 303.9L494.8 303.7L499.8 304.0L502.8 304.6L505.3 305.8L506.0 306.7L506.4 308.2L506.5 310.2L506.2 312.2L505.0 314.7L502.5 317.7L496.3 323.4L490.8 327.4L486.3 329.6L483.3 330.4L480.8 330.7Z" fill="#99ff66"/>
<path d="M482.3 330.3L477.3 330.4L473.5 329.7L472.5 329.2L471.8 328.5L471.0 326.2L470.9 324.2L471.1 322.2L472.5 318.2L475.3 313.8L479.0 309.2L480.5 307.7L482.3 306.6L486.3 304.9L488.3 304.5L493.3 304.3L498.3 304.4L501.8 305.0L504.5 306.2L505.3 307.2L505.6 308.2L505.8 310.2L505.6 311.7L504.6 314.2L502.6 316.7L496.8 322.4L491.3 326.7L487.3 328.9L482.3 330.3Z" fill="#b8ff47"/>
<path d="M483.3 329.8L479.3 330.2L474.6 329.7L472.6 328.7L471.8 327.7L471.5 326.7L471.4 324.7L471.5 322.7L472.7 318.7L475.3 314.6L479.3 309.7L480.8 308.2L482.8 306.9L486.3 305.4L488.3 304.9L493.3 304.7L497.8 304.9L501.8 305.7L504.0 306.7L504.7 307.7L505.1 308.7L505.2 310.2L505.1 311.7L504.0 314.2L502.0 316.7L496.4 322.2L491.4 326.2L487.3 328.5L483.3 329.8Z" fill="#d6ff29"/>
<path d="M481.8 329.7L477.8 329.8L474.2 329.2L473.2 328.7L472.3 327.7L471.8 325.7L472.1 322.2L473.5 318.2L476.3 314.1L480.0 309.7L481.6 308.2L483.8 306.9L486.8 305.7L488.8 305.3L494.3 305.2L497.8 305.4L501.3 306.1L503.6 307.2L504.3 308.2L504.6 309.2L504.7 310.7L504.4 312.2L503.1 314.7L500.0 318.2L494.7 323.2L490.1 326.7L486.3 328.6L481.8 329.7Z" fill="#f5ff0a"/>
<path d="M482.8 329.3L478.8 329.6L474.8 329.0L473.3 328.2L472.6 327.2L472.3 326.2L472.4 322.7L473.7 318.7L476.3 314.9L480.2 310.2L481.9 308.7L484.3 307.2L486.8 306.1L488.8 305.7L493.8 305.6L497.3 305.7L500.8 306.5L503.1 307.7L503.8 308.6L504.1 309.7L504.2 311.2L504.0 312.2L502.8 314.4L499.9 317.7L494.7 322.7L490.3 326.2L486.8 328.1L482.8 329.3Z" fill="#ffeb00"/>
<path d="M480.8 329.2L477.3 329.1L474.3 328.4L473.1 327.2L472.7 326.2L472.6 324.7L473.1 321.7L474.5 318.2L477.8 313.8L481.3 309.9L483.3 308.3L485.3 307.2L487.3 306.4L489.3 306.1L494.8 306.0L497.5 306.2L500.8 307.1L502.8 308.2L503.4 309.2L503.7 310.2L503.7 311.2L503.3 312.7L501.2 315.7L496.4 320.7L491.8 324.7L488.3 327.1L484.8 328.5L480.8 329.2Z" fill="#ffcc00"/>
<path d="M482.3 328.8L478.3 328.9L474.9 328.2L473.6 327.2L473.1 325.2L473.4 322.2L474.8 318.7L477.3 315.2L481.3 310.7L483.0 309.2L485.4 307.7L487.3 306.9L489.3 306.5L494.3 306.4L497.3 306.7L500.8 307.7L502.3 308.7L503.0 309.7L503.2 310.7L502.8 312.7L501.0 315.2L496.8 319.7L492.5 323.7L488.8 326.4L485.8 327.9L482.3 328.8Z" fill="#ffad00"/>
<path d="M483.3 328.3L479.8 328.6L476.3 328.2L474.3 327.2L473.6 325.7L473.8 322.7L475.1 319.2L476.8 316.7L481.3 311.6L484.8 308.7L486.8 307.7L488.8 307.1L493.3 307.0L496.8 307.2L500.2 308.2L501.8 309.2L502.6 310.7L502.5 311.7L502.1 312.7L500.3 315.2L496.7 319.2L492.5 323.2L489.4 325.7L486.3 327.4L483.3 328.3Z" fill="#ff8f00"/>
<path d="M481.8 328.2L478.3 328.2L475.8 327.6L474.5 326.7L474.1 325.7L474.0 324.7L474.4 322.2L475.8 319.0L478.3 315.9L482.3 311.7L484.7 309.7L486.3 308.8L487.8 308.2L489.8 307.8L494.8 307.8L497.3 308.2L499.9 309.2L501.2 310.2L501.5 310.7L501.5 311.7L500.8 313.2L496.3 318.7L491.9 323.2L489.5 325.2L487.2 326.7L484.6 327.7L481.8 328.2Z" fill="#ff7000"/>
<path d="M482.8 327.8L480.3 328.0L477.8 327.8L476.0 327.2L474.9 326.2L474.6 324.7L475.0 322.2L476.1 319.7L477.8 317.5L483.3 312.5L485.8 310.7L487.8 309.8L490.3 309.5L494.3 309.8L496.3 310.2L498.0 311.2L498.4 311.7L498.4 312.7L497.4 314.7L494.6 319.2L491.8 322.7L489.6 324.7L487.5 326.2L485.2 327.2L482.8 327.8Z" fill="#ff5200"/>
<path d="M483.8 327.3L481.3 327.6L478.8 327.6L477.2 327.2L475.7 326.2L475.2 325.2L475.3 323.7L475.8 321.7L476.8 319.8L478.3 318.1L480.8 316.0L483.3 314.4L486.3 312.8L488.3 312.1L489.8 312.0L491.8 312.2L493.4 312.7L494.0 313.2L494.2 313.7L494.2 315.2L493.1 319.2L491.9 321.7L490.2 323.7L488.3 325.3L486.3 326.4L483.8 327.3Z" fill="#ff3300"/>
<path d="M481.8 327.2L478.3 327.0L477.3 326.7L476.2 325.7L475.9 324.7L476.0 323.2L477.3 320.4L478.3 319.2L479.8 318.0L483.8 315.9L487.8 314.7L489.3 314.6L490.3 315.0L491.1 316.2L491.7 318.7L491.5 320.7L490.8 322.2L489.0 324.2L486.9 325.7L484.5 326.7L481.8 327.2Z" fill="#ff1400"/>
<path d="M481.8 326.7L479.8 326.7L478.3 326.4L477.3 325.9L476.8 325.2L476.7 324.2L476.8 323.2L478.1 320.7L480.3 318.8L483.3 317.6L486.8 317.0L487.8 317.1L488.8 317.5L489.9 318.7L490.4 320.2L490.3 321.2L489.6 322.7L488.2 324.2L485.9 325.7L484.3 326.3L481.8 326.7Z" fill="#f50000"/>
<path d="M483.8 325.7L480.3 326.0L478.9 325.7L478.3 325.3L477.9 324.7L477.9 323.7L478.8 321.7L480.4 320.2L482.8 319.3L485.8 319.1L486.9 319.2L488.0 319.7L488.8 320.6L488.9 321.2L488.3 322.7L486.2 324.7L483.8 325.7Z" fill="#d60000"/>
<path d="M482.3 324.2L481.2 323.7L481.0 323.2L481.3 322.5L481.8 322.0L482.8 321.8L484.0 322.2L484.2 322.7L483.8 323.6L482.3 324.2Z" fill="#b80000"/>
</g>
<path d="M459.8 305.5H532.6" stroke="#fff" stroke-opacity="0.6" stroke-width="0.6" fill="none"/>
</g>
<circle cx="482.4" cy="322.5" r="1.5" fill="none" stroke="#fff" stroke-width="0.8"/>
<rect x="535.2" y="257.1" width="2.5" height="77.0" fill="url(#jetg)"/>
<text class="cb" x="540.0" y="335.0">0.0</text>
<text class="cb" x="540.0" y="320.2">0.2</text>
<text class="cb" x="540.0" y="305.4">0.4</text>
<text class="cb" x="540.0" y="290.6">0.6</text>
<text class="cb" x="540.0" y="275.8">0.8</text>
<text class="cb" x="540.0" y="261.0">1.0</text>
<rect x="394.5" y="241.0" width="149.9" height="171.1" fill="none" stroke="#858585" stroke-width="1.2"/>
<path d="M395.9 412.1v3.6M423.2 412.1v3.6M450.5 412.1v3.6M477.8 412.1v3.6M505.1 412.1v3.6M532.4 412.1v3.6M394.5 406.0h-2.6M394.5 374.2h-2.6M394.5 342.4h-2.6M394.5 310.6h-2.6M394.5 278.8h-2.6M394.5 247.0h-2.6" stroke="#858585" stroke-width="0.9" fill="none"/>
<text class="tk" x="395.9" y="428.9" text-anchor="middle" textLength="3.87" lengthAdjust="spacingAndGlyphs">0</text>
<text class="tk" x="423.2" y="428.9" text-anchor="middle" textLength="3.87" lengthAdjust="spacingAndGlyphs">1</text>
<text class="tk" x="450.5" y="428.9" text-anchor="middle" textLength="3.87" lengthAdjust="spacingAndGlyphs">2</text>
<text class="tk" x="477.8" y="428.9" text-anchor="middle" textLength="3.87" lengthAdjust="spacingAndGlyphs">3</text>
<text class="tk" x="505.1" y="428.9" text-anchor="middle" textLength="3.87" lengthAdjust="spacingAndGlyphs">4</text>
<text class="tk" x="532.4" y="428.9" text-anchor="middle" textLength="3.87" lengthAdjust="spacingAndGlyphs">5</text>
<text class="tk" x="385.2" y="409.5" text-anchor="end" textLength="3.87" lengthAdjust="spacingAndGlyphs">0</text>
<text class="tk" x="385.2" y="377.7" text-anchor="end" textLength="3.87" lengthAdjust="spacingAndGlyphs">2</text>
<text class="tk" x="385.2" y="345.9" text-anchor="end" textLength="3.87" lengthAdjust="spacingAndGlyphs">4</text>
<text class="tk" x="385.2" y="314.1" text-anchor="end" textLength="3.87" lengthAdjust="spacingAndGlyphs">6</text>
<text class="tk" x="385.2" y="282.3" text-anchor="end" textLength="3.87" lengthAdjust="spacingAndGlyphs">8</text>
<text class="tk" x="385.2" y="250.5" text-anchor="end" textLength="7.74" lengthAdjust="spacingAndGlyphs">10</text>
<text class="ax" x="469.4" y="438.1" text-anchor="middle" textLength="90.4" lengthAdjust="spacingAndGlyphs">Significant Wave Height (m)</text>
<text class="ax" transform="translate(375.5 326.8) scale(0.8 1) rotate(-90)" x="0" y="0" text-anchor="middle" font-size="7.5">PCF</text>
</svg></body></html>
